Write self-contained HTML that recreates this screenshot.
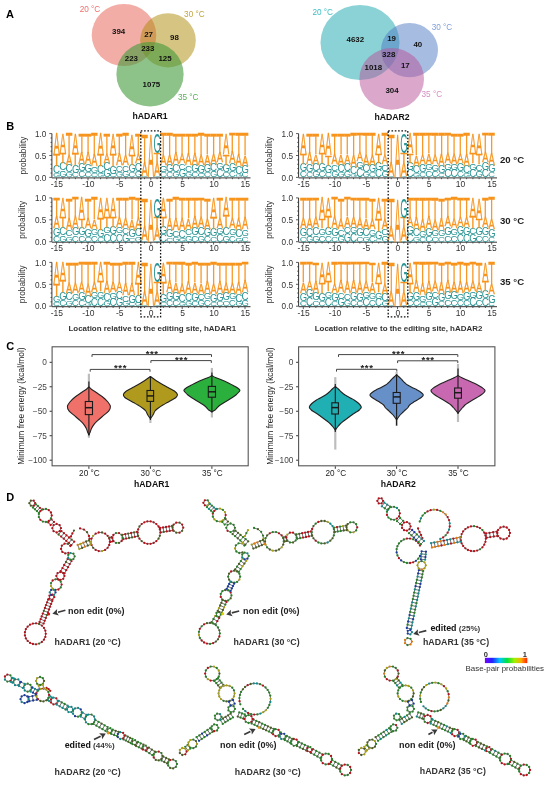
<!DOCTYPE html>
<html><head><meta charset="utf-8"><title>Figure</title>
<style>
html,body{margin:0;padding:0;background:#fff;}
body{width:550px;height:785px;overflow:hidden;}
svg{display:block;font-family:"Liberation Sans", Arial, sans-serif;}
.lo,.lt{font-size:10px;stroke-width:0.38px;vector-effect:non-scaling-stroke;}
.lo{fill:#F7941D;stroke:#F7941D;}
.lt{fill:#2A9494;stroke:none;}
</style></head><body>
<svg width="550" height="785" viewBox="0 0 550 785">
<text x="6.00" y="17.70" font-size="11" font-weight="bold" fill="#000" text-anchor="start">A</text>
<text x="6.30" y="129.90" font-size="11" font-weight="bold" fill="#000" text-anchor="start">B</text>
<text x="6.20" y="349.90" font-size="11" font-weight="bold" fill="#000" text-anchor="start">C</text>
<text x="6.20" y="501.00" font-size="11" font-weight="bold" fill="#000" text-anchor="start">D</text>
<ellipse cx="124" cy="35" rx="32.3" ry="31" fill="#E55B4D" fill-opacity="0.5"/>
<ellipse cx="168" cy="40.3" rx="27.8" ry="27.1" fill="#AD8907" fill-opacity="0.5"/>
<ellipse cx="150" cy="74.2" rx="33.6" ry="32.3" fill="#419939" fill-opacity="0.6"/>
<text x="90.00" y="12.40" font-size="8.2" fill="#EE6E6E" text-anchor="middle">20 °C</text>
<text x="194.40" y="16.50" font-size="8.2" fill="#BFA640" text-anchor="middle">30 °C</text>
<text x="188.20" y="99.70" font-size="8.2" fill="#5AAE5A" text-anchor="middle">35 °C</text>
<text x="118.60" y="34.20" font-size="7.9" font-weight="bold" fill="#111" text-anchor="middle">394</text>
<text x="148.60" y="37.40" font-size="7.9" font-weight="bold" fill="#111" text-anchor="middle">27</text>
<text x="174.50" y="39.60" font-size="7.9" font-weight="bold" fill="#111" text-anchor="middle">98</text>
<text x="147.80" y="51.30" font-size="7.9" font-weight="bold" fill="#111" text-anchor="middle">233</text>
<text x="131.40" y="60.80" font-size="7.9" font-weight="bold" fill="#111" text-anchor="middle">223</text>
<text x="165.00" y="60.80" font-size="7.9" font-weight="bold" fill="#111" text-anchor="middle">125</text>
<text x="151.40" y="86.50" font-size="7.9" font-weight="bold" fill="#111" text-anchor="middle">1075</text>
<text x="150.00" y="119.30" font-size="8.7" font-weight="bold" fill="#111" text-anchor="middle">hADAR1</text>
<ellipse cx="360" cy="42.5" rx="39.5" ry="37.5" fill="#15A5AD" fill-opacity="0.5"/>
<ellipse cx="409.5" cy="50.1" rx="28.5" ry="27.1" fill="#4D79C1" fill-opacity="0.5"/>
<ellipse cx="391.7" cy="78.9" rx="32.3" ry="30.8" fill="#B75199" fill-opacity="0.5"/>
<text x="322.70" y="14.50" font-size="8.2" fill="#3CBFC4" text-anchor="middle">20 °C</text>
<text x="442.00" y="29.90" font-size="8.2" fill="#7F9FD8" text-anchor="middle">30 °C</text>
<text x="431.80" y="97.40" font-size="8.2" fill="#D58FC0" text-anchor="middle">35 °C</text>
<text x="355.30" y="41.50" font-size="7.9" font-weight="bold" fill="#111" text-anchor="middle">4632</text>
<text x="391.60" y="40.60" font-size="7.9" font-weight="bold" fill="#111" text-anchor="middle">19</text>
<text x="417.80" y="47.00" font-size="7.9" font-weight="bold" fill="#111" text-anchor="middle">40</text>
<text x="388.70" y="56.60" font-size="7.9" font-weight="bold" fill="#111" text-anchor="middle">328</text>
<text x="373.30" y="69.70" font-size="7.9" font-weight="bold" fill="#111" text-anchor="middle">1018</text>
<text x="405.30" y="68.30" font-size="7.9" font-weight="bold" fill="#111" text-anchor="middle">17</text>
<text x="392.00" y="93.00" font-size="7.9" font-weight="bold" fill="#111" text-anchor="middle">304</text>
<text x="392.00" y="119.60" font-size="8.7" font-weight="bold" fill="#111" text-anchor="middle">hADAR2</text>
<text x="46.30" y="180.60" font-size="8.2" fill="#333" text-anchor="end">0.0</text>
<text x="46.30" y="158.70" font-size="8.2" fill="#333" text-anchor="end">0.5</text>
<text x="46.30" y="136.80" font-size="8.2" fill="#333" text-anchor="end">1.0</text>
<text x="56.90" y="186.90" font-size="8.5" fill="#333" text-anchor="middle">-15</text>
<text x="88.30" y="186.90" font-size="8.5" fill="#333" text-anchor="middle">-10</text>
<text x="119.70" y="186.90" font-size="8.5" fill="#333" text-anchor="middle">-5</text>
<text x="151.10" y="186.90" font-size="8.5" fill="#333" text-anchor="middle">0</text>
<text x="182.50" y="186.90" font-size="8.5" fill="#333" text-anchor="middle">5</text>
<text x="213.90" y="186.90" font-size="8.5" fill="#333" text-anchor="middle">10</text>
<text x="245.30" y="186.90" font-size="8.5" fill="#333" text-anchor="middle">15</text>
<text x="25.50" y="155.50" font-size="8.3" fill="#333" text-anchor="middle" transform="rotate(-90 25.50 155.50)">probability</text>
<text x="293.00" y="180.60" font-size="8.2" fill="#333" text-anchor="end">0.0</text>
<text x="293.00" y="158.70" font-size="8.2" fill="#333" text-anchor="end">0.5</text>
<text x="293.00" y="136.80" font-size="8.2" fill="#333" text-anchor="end">1.0</text>
<text x="303.60" y="186.90" font-size="8.5" fill="#333" text-anchor="middle">-15</text>
<text x="335.00" y="186.90" font-size="8.5" fill="#333" text-anchor="middle">-10</text>
<text x="366.40" y="186.90" font-size="8.5" fill="#333" text-anchor="middle">-5</text>
<text x="397.80" y="186.90" font-size="8.5" fill="#333" text-anchor="middle">0</text>
<text x="429.20" y="186.90" font-size="8.5" fill="#333" text-anchor="middle">5</text>
<text x="460.60" y="186.90" font-size="8.5" fill="#333" text-anchor="middle">10</text>
<text x="492.00" y="186.90" font-size="8.5" fill="#333" text-anchor="middle">15</text>
<text x="272.00" y="155.50" font-size="8.3" fill="#333" text-anchor="middle" transform="rotate(-90 272.00 155.50)">probability</text>
<text x="500.00" y="163.00" font-size="9.6" font-weight="bold" fill="#222" text-anchor="start">20 °C</text>
<text x="46.30" y="244.90" font-size="8.2" fill="#333" text-anchor="end">0.0</text>
<text x="46.30" y="223.00" font-size="8.2" fill="#333" text-anchor="end">0.5</text>
<text x="46.30" y="201.10" font-size="8.2" fill="#333" text-anchor="end">1.0</text>
<text x="56.90" y="251.20" font-size="8.5" fill="#333" text-anchor="middle">-15</text>
<text x="88.30" y="251.20" font-size="8.5" fill="#333" text-anchor="middle">-10</text>
<text x="119.70" y="251.20" font-size="8.5" fill="#333" text-anchor="middle">-5</text>
<text x="151.10" y="251.20" font-size="8.5" fill="#333" text-anchor="middle">0</text>
<text x="182.50" y="251.20" font-size="8.5" fill="#333" text-anchor="middle">5</text>
<text x="213.90" y="251.20" font-size="8.5" fill="#333" text-anchor="middle">10</text>
<text x="245.30" y="251.20" font-size="8.5" fill="#333" text-anchor="middle">15</text>
<text x="25.50" y="219.80" font-size="8.3" fill="#333" text-anchor="middle" transform="rotate(-90 25.50 219.80)">probability</text>
<text x="293.00" y="244.90" font-size="8.2" fill="#333" text-anchor="end">0.0</text>
<text x="293.00" y="223.00" font-size="8.2" fill="#333" text-anchor="end">0.5</text>
<text x="293.00" y="201.10" font-size="8.2" fill="#333" text-anchor="end">1.0</text>
<text x="303.60" y="251.20" font-size="8.5" fill="#333" text-anchor="middle">-15</text>
<text x="335.00" y="251.20" font-size="8.5" fill="#333" text-anchor="middle">-10</text>
<text x="366.40" y="251.20" font-size="8.5" fill="#333" text-anchor="middle">-5</text>
<text x="397.80" y="251.20" font-size="8.5" fill="#333" text-anchor="middle">0</text>
<text x="429.20" y="251.20" font-size="8.5" fill="#333" text-anchor="middle">5</text>
<text x="460.60" y="251.20" font-size="8.5" fill="#333" text-anchor="middle">10</text>
<text x="492.00" y="251.20" font-size="8.5" fill="#333" text-anchor="middle">15</text>
<text x="272.00" y="219.80" font-size="8.3" fill="#333" text-anchor="middle" transform="rotate(-90 272.00 219.80)">probability</text>
<text x="500.00" y="224.20" font-size="9.6" font-weight="bold" fill="#222" text-anchor="start">30 °C</text>
<text x="46.30" y="309.40" font-size="8.2" fill="#333" text-anchor="end">0.0</text>
<text x="46.30" y="287.50" font-size="8.2" fill="#333" text-anchor="end">0.5</text>
<text x="46.30" y="265.60" font-size="8.2" fill="#333" text-anchor="end">1.0</text>
<text x="56.90" y="315.70" font-size="8.5" fill="#333" text-anchor="middle">-15</text>
<text x="88.30" y="315.70" font-size="8.5" fill="#333" text-anchor="middle">-10</text>
<text x="119.70" y="315.70" font-size="8.5" fill="#333" text-anchor="middle">-5</text>
<text x="151.10" y="315.70" font-size="8.5" fill="#333" text-anchor="middle">0</text>
<text x="182.50" y="315.70" font-size="8.5" fill="#333" text-anchor="middle">5</text>
<text x="213.90" y="315.70" font-size="8.5" fill="#333" text-anchor="middle">10</text>
<text x="245.30" y="315.70" font-size="8.5" fill="#333" text-anchor="middle">15</text>
<text x="25.50" y="284.30" font-size="8.3" fill="#333" text-anchor="middle" transform="rotate(-90 25.50 284.30)">probability</text>
<text x="293.00" y="309.40" font-size="8.2" fill="#333" text-anchor="end">0.0</text>
<text x="293.00" y="287.50" font-size="8.2" fill="#333" text-anchor="end">0.5</text>
<text x="293.00" y="265.60" font-size="8.2" fill="#333" text-anchor="end">1.0</text>
<text x="303.60" y="315.70" font-size="8.5" fill="#333" text-anchor="middle">-15</text>
<text x="335.00" y="315.70" font-size="8.5" fill="#333" text-anchor="middle">-10</text>
<text x="366.40" y="315.70" font-size="8.5" fill="#333" text-anchor="middle">-5</text>
<text x="397.80" y="315.70" font-size="8.5" fill="#333" text-anchor="middle">0</text>
<text x="429.20" y="315.70" font-size="8.5" fill="#333" text-anchor="middle">5</text>
<text x="460.60" y="315.70" font-size="8.5" fill="#333" text-anchor="middle">10</text>
<text x="492.00" y="315.70" font-size="8.5" fill="#333" text-anchor="middle">15</text>
<text x="272.00" y="284.30" font-size="8.3" fill="#333" text-anchor="middle" transform="rotate(-90 272.00 284.30)">probability</text>
<text x="500.00" y="285.10" font-size="9.6" font-weight="bold" fill="#222" text-anchor="start">35 °C</text>
<text x="152.30" y="331.00" font-size="7.95" font-weight="bold" fill="#333" text-anchor="middle">Location relative to the editing site, hADAR1</text>
<text x="398.50" y="331.00" font-size="7.95" font-weight="bold" fill="#333" text-anchor="middle">Location relative to the editing site, hADAR2</text>
<line x1="51.9" y1="133.60" x2="51.9" y2="177.40" stroke="#333" stroke-width="1"/>
<line x1="49.30" y1="177.40" x2="51.9" y2="177.40" stroke="#333" stroke-width="0.8"/>
<line x1="50.50" y1="173.02" x2="51.9" y2="173.02" stroke="#333" stroke-width="0.8"/>
<line x1="50.50" y1="168.64" x2="51.9" y2="168.64" stroke="#333" stroke-width="0.8"/>
<line x1="50.50" y1="164.26" x2="51.9" y2="164.26" stroke="#333" stroke-width="0.8"/>
<line x1="50.50" y1="159.88" x2="51.9" y2="159.88" stroke="#333" stroke-width="0.8"/>
<line x1="49.30" y1="155.50" x2="51.9" y2="155.50" stroke="#333" stroke-width="0.8"/>
<line x1="50.50" y1="151.12" x2="51.9" y2="151.12" stroke="#333" stroke-width="0.8"/>
<line x1="50.50" y1="146.74" x2="51.9" y2="146.74" stroke="#333" stroke-width="0.8"/>
<line x1="50.50" y1="142.36" x2="51.9" y2="142.36" stroke="#333" stroke-width="0.8"/>
<line x1="50.50" y1="137.98" x2="51.9" y2="137.98" stroke="#333" stroke-width="0.8"/>
<line x1="49.30" y1="133.60" x2="51.9" y2="133.60" stroke="#333" stroke-width="0.8"/>
<line x1="51.9" y1="177.90" x2="250.5" y2="177.90" stroke="#333" stroke-width="1"/>
<line x1="56.60" y1="177.90" x2="56.60" y2="180.30" stroke="#333" stroke-width="0.8"/>
<line x1="62.88" y1="177.90" x2="62.88" y2="179.20" stroke="#333" stroke-width="0.8"/>
<line x1="69.16" y1="177.90" x2="69.16" y2="179.20" stroke="#333" stroke-width="0.8"/>
<line x1="75.44" y1="177.90" x2="75.44" y2="179.20" stroke="#333" stroke-width="0.8"/>
<line x1="81.72" y1="177.90" x2="81.72" y2="179.20" stroke="#333" stroke-width="0.8"/>
<line x1="88.00" y1="177.90" x2="88.00" y2="180.30" stroke="#333" stroke-width="0.8"/>
<line x1="94.28" y1="177.90" x2="94.28" y2="179.20" stroke="#333" stroke-width="0.8"/>
<line x1="100.56" y1="177.90" x2="100.56" y2="179.20" stroke="#333" stroke-width="0.8"/>
<line x1="106.84" y1="177.90" x2="106.84" y2="179.20" stroke="#333" stroke-width="0.8"/>
<line x1="113.12" y1="177.90" x2="113.12" y2="179.20" stroke="#333" stroke-width="0.8"/>
<line x1="119.40" y1="177.90" x2="119.40" y2="180.30" stroke="#333" stroke-width="0.8"/>
<line x1="125.68" y1="177.90" x2="125.68" y2="179.20" stroke="#333" stroke-width="0.8"/>
<line x1="131.96" y1="177.90" x2="131.96" y2="179.20" stroke="#333" stroke-width="0.8"/>
<line x1="138.24" y1="177.90" x2="138.24" y2="179.20" stroke="#333" stroke-width="0.8"/>
<line x1="144.52" y1="177.90" x2="144.52" y2="179.20" stroke="#333" stroke-width="0.8"/>
<line x1="150.80" y1="177.90" x2="150.80" y2="180.30" stroke="#333" stroke-width="0.8"/>
<line x1="157.08" y1="177.90" x2="157.08" y2="179.20" stroke="#333" stroke-width="0.8"/>
<line x1="163.36" y1="177.90" x2="163.36" y2="179.20" stroke="#333" stroke-width="0.8"/>
<line x1="169.64" y1="177.90" x2="169.64" y2="179.20" stroke="#333" stroke-width="0.8"/>
<line x1="175.92" y1="177.90" x2="175.92" y2="179.20" stroke="#333" stroke-width="0.8"/>
<line x1="182.20" y1="177.90" x2="182.20" y2="180.30" stroke="#333" stroke-width="0.8"/>
<line x1="188.48" y1="177.90" x2="188.48" y2="179.20" stroke="#333" stroke-width="0.8"/>
<line x1="194.76" y1="177.90" x2="194.76" y2="179.20" stroke="#333" stroke-width="0.8"/>
<line x1="201.04" y1="177.90" x2="201.04" y2="179.20" stroke="#333" stroke-width="0.8"/>
<line x1="207.32" y1="177.90" x2="207.32" y2="179.20" stroke="#333" stroke-width="0.8"/>
<line x1="213.60" y1="177.90" x2="213.60" y2="180.30" stroke="#333" stroke-width="0.8"/>
<line x1="219.88" y1="177.90" x2="219.88" y2="179.20" stroke="#333" stroke-width="0.8"/>
<line x1="226.16" y1="177.90" x2="226.16" y2="179.20" stroke="#333" stroke-width="0.8"/>
<line x1="232.44" y1="177.90" x2="232.44" y2="179.20" stroke="#333" stroke-width="0.8"/>
<line x1="238.72" y1="177.90" x2="238.72" y2="179.20" stroke="#333" stroke-width="0.8"/>
<line x1="245.00" y1="177.90" x2="245.00" y2="180.30" stroke="#333" stroke-width="0.8"/>
<text transform="matrix(0.9464,0,0,0.6067,53.04,177.34)" class="lt">G</text>
<text transform="matrix(0.9763,0,0,1.0144,53.01,173.01)" class="lt">C</text>
<text transform="matrix(1.0919,0,0,1.5946,53.27,165.93)" class="lo">T</text>
<text transform="matrix(0.9321,0,0,3.1039,53.49,154.95)" class="lo">A</text>
<text transform="matrix(0.9464,0,0,0.9925,59.32,177.30)" class="lt">G</text>
<text transform="matrix(0.9763,0,0,1.0100,59.29,170.28)" class="lt">C</text>
<text transform="matrix(1.0919,0,0,1.5004,59.55,163.23)" class="lo">T</text>
<text transform="matrix(0.9321,0,0,2.8057,59.77,152.90)" class="lo">A</text>
<text transform="matrix(0.9464,0,0,0.7899,65.60,177.32)" class="lt">G</text>
<text transform="matrix(0.9763,0,0,1.0300,65.57,171.71)" class="lt">C</text>
<text transform="matrix(0.9321,0,0,1.4209,66.05,164.52)" class="lo">A</text>
<text transform="matrix(1.0919,0,0,3.0730,65.83,154.74)" class="lo">T</text>
<text transform="matrix(0.9763,0,0,0.6568,71.85,177.34)" class="lt">C</text>
<text transform="matrix(0.9464,0,0,1.0378,71.88,172.65)" class="lt">G</text>
<text transform="matrix(1.0919,0,0,1.6520,72.11,165.41)" class="lo">T</text>
<text transform="matrix(0.9321,0,0,2.9710,72.33,154.04)" class="lo">A</text>
<text transform="matrix(0.9763,0,0,0.8309,78.13,177.32)" class="lt">C</text>
<text transform="matrix(0.9464,0,0,1.0695,78.16,171.41)" class="lt">G</text>
<text transform="matrix(0.9321,0,0,1.5938,78.61,163.95)" class="lo">A</text>
<text transform="matrix(1.0919,0,0,2.8174,78.39,152.98)" class="lo">T</text>
<text transform="matrix(0.9763,0,0,0.6878,84.41,177.33)" class="lt">C</text>
<text transform="matrix(0.9464,0,0,1.1710,84.44,172.42)" class="lt">G</text>
<text transform="matrix(0.9321,0,0,1.6526,84.89,164.24)" class="lo">A</text>
<text transform="matrix(1.0919,0,0,2.8014,84.67,152.87)" class="lo">T</text>
<text transform="matrix(0.9763,0,0,0.6008,90.69,177.34)" class="lt">C</text>
<text transform="matrix(0.9464,0,0,0.9837,90.72,173.05)" class="lt">G</text>
<text transform="matrix(0.9321,0,0,1.6497,91.17,166.18)" class="lo">A</text>
<text transform="matrix(1.0919,0,0,3.0865,90.95,154.84)" class="lo">T</text>
<text transform="matrix(0.9464,0,0,0.5378,97.00,177.35)" class="lt">G</text>
<text transform="matrix(0.9763,0,0,1.0878,96.97,173.49)" class="lt">C</text>
<text transform="matrix(1.0919,0,0,1.6484,97.23,165.89)" class="lo">T</text>
<text transform="matrix(0.9321,0,0,3.0455,97.45,154.55)" class="lo">A</text>
<text transform="matrix(0.9464,0,0,1.0313,103.28,177.30)" class="lt">G</text>
<text transform="matrix(0.9763,0,0,1.0182,103.25,170.00)" class="lt">C</text>
<text transform="matrix(0.9321,0,0,1.3436,103.73,162.89)" class="lo">A</text>
<text transform="matrix(1.0919,0,0,2.9143,103.51,153.65)" class="lo">T</text>
<text transform="matrix(0.9763,0,0,0.5127,109.53,177.35)" class="lt">C</text>
<text transform="matrix(0.9464,0,0,1.1665,109.56,173.66)" class="lt">G</text>
<text transform="matrix(1.0919,0,0,1.6538,109.79,165.51)" class="lo">T</text>
<text transform="matrix(0.9321,0,0,2.9850,110.01,154.14)" class="lo">A</text>
<text transform="matrix(0.9464,0,0,0.7933,115.84,177.32)" class="lt">G</text>
<text transform="matrix(0.9763,0,0,0.9698,115.81,171.69)" class="lt">C</text>
<text transform="matrix(0.9321,0,0,1.6356,116.29,164.92)" class="lo">A</text>
<text transform="matrix(1.0919,0,0,2.9168,116.07,153.67)" class="lo">T</text>
<text transform="matrix(0.9464,0,0,0.8171,122.12,177.32)" class="lt">G</text>
<text transform="matrix(0.9763,0,0,0.9012,122.09,171.53)" class="lt">C</text>
<text transform="matrix(0.9321,0,0,1.5147,122.57,165.24)" class="lo">A</text>
<text transform="matrix(1.0919,0,0,3.0838,122.35,154.82)" class="lo">T</text>
<text transform="matrix(0.9763,0,0,0.6892,128.37,177.33)" class="lt">C</text>
<text transform="matrix(0.9464,0,0,1.1270,128.40,172.41)" class="lt">G</text>
<text transform="matrix(1.0919,0,0,1.4574,128.63,164.54)" class="lo">T</text>
<text transform="matrix(0.9321,0,0,3.0404,128.85,154.52)" class="lo">A</text>
<text transform="matrix(0.9464,0,0,0.9546,134.68,177.31)" class="lt">G</text>
<text transform="matrix(0.9763,0,0,1.0347,134.65,170.54)" class="lt">C</text>
<text transform="matrix(0.9321,0,0,1.3055,135.13,163.32)" class="lo">A</text>
<text transform="matrix(1.0919,0,0,3.0141,134.91,154.34)" class="lo">T</text>
<text transform="matrix(0.9763,0,0,0.1856,140.93,177.38)" class="lt">C</text>
<text transform="matrix(0.9321,0,0,1.9735,141.41,176.09)" class="lo">A</text>
<text transform="matrix(1.0919,0,0,4.0744,141.19,162.51)" class="lo">T</text>
<text transform="matrix(0.9321,0,0,6.1753,147.69,177.40)" class="lo">A</text>
<text transform="matrix(0.9763,0,0,0.1856,153.49,177.38)" class="lt">C</text>
<text transform="matrix(0.9321,0,0,2.0372,153.97,176.09)" class="lo">A</text>
<text transform="matrix(1.0919,0,0,1.2096,153.75,162.07)" class="lo">T</text>
<text transform="matrix(0.9464,0,0,2.7228,153.52,153.48)" class="lt">G</text>
<text transform="matrix(0.9763,0,0,0.8127,159.77,177.32)" class="lt">C</text>
<text transform="matrix(0.9464,0,0,0.9878,159.80,171.55)" class="lt">G</text>
<text transform="matrix(0.9321,0,0,1.3983,160.25,164.66)" class="lo">A</text>
<text transform="matrix(1.0919,0,0,3.1157,160.03,155.04)" class="lo">T</text>
<text transform="matrix(0.9763,0,0,0.7634,166.05,177.33)" class="lt">C</text>
<text transform="matrix(0.9464,0,0,1.0553,166.08,171.89)" class="lt">G</text>
<text transform="matrix(0.9321,0,0,1.3781,166.53,164.53)" class="lo">A</text>
<text transform="matrix(1.0919,0,0,3.1172,166.31,155.05)" class="lo">T</text>
<text transform="matrix(0.9464,0,0,0.7223,172.36,177.33)" class="lt">G</text>
<text transform="matrix(0.9763,0,0,1.1209,172.33,172.18)" class="lt">C</text>
<text transform="matrix(0.9321,0,0,1.6747,172.81,164.35)" class="lo">A</text>
<text transform="matrix(1.0919,0,0,2.7954,172.59,152.83)" class="lo">T</text>
<text transform="matrix(0.9464,0,0,1.0825,178.64,177.29)" class="lt">G</text>
<text transform="matrix(0.9763,0,0,0.9864,178.61,169.64)" class="lt">C</text>
<text transform="matrix(0.9321,0,0,1.3358,179.09,162.76)" class="lo">A</text>
<text transform="matrix(1.0919,0,0,2.9020,178.87,153.57)" class="lo">T</text>
<text transform="matrix(0.9464,0,0,0.7951,184.92,177.32)" class="lt">G</text>
<text transform="matrix(0.9763,0,0,0.9277,184.89,171.68)" class="lt">C</text>
<text transform="matrix(0.9321,0,0,1.6614,185.37,165.21)" class="lo">A</text>
<text transform="matrix(1.0919,0,0,2.9325,185.15,153.78)" class="lo">T</text>
<text transform="matrix(0.9763,0,0,0.7356,191.17,177.33)" class="lt">C</text>
<text transform="matrix(0.9464,0,0,1.0497,191.20,172.09)" class="lt">G</text>
<text transform="matrix(0.9321,0,0,1.5750,191.65,164.76)" class="lo">A</text>
<text transform="matrix(1.0919,0,0,2.9546,191.43,153.93)" class="lo">T</text>
<text transform="matrix(0.9763,0,0,0.5511,197.45,177.35)" class="lt">C</text>
<text transform="matrix(0.9464,0,0,1.1657,197.48,173.39)" class="lt">G</text>
<text transform="matrix(0.9321,0,0,1.5115,197.93,165.25)" class="lo">A</text>
<text transform="matrix(1.0919,0,0,3.0886,197.71,154.85)" class="lo">T</text>
<text transform="matrix(0.9763,0,0,0.7826,203.73,177.32)" class="lt">C</text>
<text transform="matrix(0.9464,0,0,1.0212,203.76,171.76)" class="lt">G</text>
<text transform="matrix(0.9321,0,0,1.5295,204.21,164.63)" class="lo">A</text>
<text transform="matrix(1.0919,0,0,2.9810,203.99,154.11)" class="lo">T</text>
<text transform="matrix(0.9464,0,0,0.8249,210.04,177.32)" class="lt">G</text>
<text transform="matrix(0.9763,0,0,1.0576,210.01,171.46)" class="lt">C</text>
<text transform="matrix(0.9321,0,0,1.4521,210.49,164.08)" class="lo">A</text>
<text transform="matrix(1.0919,0,0,2.9775,210.27,154.09)" class="lo">T</text>
<text transform="matrix(0.9763,0,0,1.1572,216.29,177.29)" class="lt">C</text>
<text transform="matrix(0.9464,0,0,0.9493,216.32,169.12)" class="lt">G</text>
<text transform="matrix(0.9321,0,0,1.3774,216.77,162.49)" class="lo">A</text>
<text transform="matrix(1.0919,0,0,2.8217,216.55,153.01)" class="lo">T</text>
<text transform="matrix(0.9763,0,0,0.7434,222.57,177.33)" class="lt">C</text>
<text transform="matrix(0.9464,0,0,1.0300,222.60,172.04)" class="lt">G</text>
<text transform="matrix(1.0919,0,0,1.5559,222.83,164.85)" class="lo">T</text>
<text transform="matrix(0.9321,0,0,2.9859,223.05,154.14)" class="lo">A</text>
<text transform="matrix(0.9763,0,0,0.8534,228.85,177.32)" class="lt">C</text>
<text transform="matrix(0.9464,0,0,1.1414,228.88,171.25)" class="lt">G</text>
<text transform="matrix(0.9321,0,0,1.5945,229.33,163.28)" class="lo">A</text>
<text transform="matrix(1.0919,0,0,2.7196,229.11,152.31)" class="lo">T</text>
<text transform="matrix(0.9464,0,0,0.4032,235.16,177.36)" class="lt">G</text>
<text transform="matrix(0.9763,0,0,1.1474,235.13,174.43)" class="lt">C</text>
<text transform="matrix(0.9321,0,0,1.6269,235.61,166.42)" class="lo">A</text>
<text transform="matrix(1.0919,0,0,3.1441,235.39,155.23)" class="lo">T</text>
<text transform="matrix(0.9763,0,0,0.6566,241.41,177.34)" class="lt">C</text>
<text transform="matrix(0.9464,0,0,1.0063,241.44,172.65)" class="lt">G</text>
<text transform="matrix(0.9321,0,0,1.5116,241.89,165.63)" class="lo">A</text>
<text transform="matrix(1.0919,0,0,3.1440,241.67,155.23)" class="lo">T</text>
<line x1="298.6" y1="133.60" x2="298.6" y2="177.40" stroke="#333" stroke-width="1"/>
<line x1="296.00" y1="177.40" x2="298.6" y2="177.40" stroke="#333" stroke-width="0.8"/>
<line x1="297.20" y1="173.02" x2="298.6" y2="173.02" stroke="#333" stroke-width="0.8"/>
<line x1="297.20" y1="168.64" x2="298.6" y2="168.64" stroke="#333" stroke-width="0.8"/>
<line x1="297.20" y1="164.26" x2="298.6" y2="164.26" stroke="#333" stroke-width="0.8"/>
<line x1="297.20" y1="159.88" x2="298.6" y2="159.88" stroke="#333" stroke-width="0.8"/>
<line x1="296.00" y1="155.50" x2="298.6" y2="155.50" stroke="#333" stroke-width="0.8"/>
<line x1="297.20" y1="151.12" x2="298.6" y2="151.12" stroke="#333" stroke-width="0.8"/>
<line x1="297.20" y1="146.74" x2="298.6" y2="146.74" stroke="#333" stroke-width="0.8"/>
<line x1="297.20" y1="142.36" x2="298.6" y2="142.36" stroke="#333" stroke-width="0.8"/>
<line x1="297.20" y1="137.98" x2="298.6" y2="137.98" stroke="#333" stroke-width="0.8"/>
<line x1="296.00" y1="133.60" x2="298.6" y2="133.60" stroke="#333" stroke-width="0.8"/>
<line x1="298.6" y1="177.90" x2="497.0" y2="177.90" stroke="#333" stroke-width="1"/>
<line x1="303.30" y1="177.90" x2="303.30" y2="180.30" stroke="#333" stroke-width="0.8"/>
<line x1="309.58" y1="177.90" x2="309.58" y2="179.20" stroke="#333" stroke-width="0.8"/>
<line x1="315.86" y1="177.90" x2="315.86" y2="179.20" stroke="#333" stroke-width="0.8"/>
<line x1="322.14" y1="177.90" x2="322.14" y2="179.20" stroke="#333" stroke-width="0.8"/>
<line x1="328.42" y1="177.90" x2="328.42" y2="179.20" stroke="#333" stroke-width="0.8"/>
<line x1="334.70" y1="177.90" x2="334.70" y2="180.30" stroke="#333" stroke-width="0.8"/>
<line x1="340.98" y1="177.90" x2="340.98" y2="179.20" stroke="#333" stroke-width="0.8"/>
<line x1="347.26" y1="177.90" x2="347.26" y2="179.20" stroke="#333" stroke-width="0.8"/>
<line x1="353.54" y1="177.90" x2="353.54" y2="179.20" stroke="#333" stroke-width="0.8"/>
<line x1="359.82" y1="177.90" x2="359.82" y2="179.20" stroke="#333" stroke-width="0.8"/>
<line x1="366.10" y1="177.90" x2="366.10" y2="180.30" stroke="#333" stroke-width="0.8"/>
<line x1="372.38" y1="177.90" x2="372.38" y2="179.20" stroke="#333" stroke-width="0.8"/>
<line x1="378.66" y1="177.90" x2="378.66" y2="179.20" stroke="#333" stroke-width="0.8"/>
<line x1="384.94" y1="177.90" x2="384.94" y2="179.20" stroke="#333" stroke-width="0.8"/>
<line x1="391.22" y1="177.90" x2="391.22" y2="179.20" stroke="#333" stroke-width="0.8"/>
<line x1="397.50" y1="177.90" x2="397.50" y2="180.30" stroke="#333" stroke-width="0.8"/>
<line x1="403.78" y1="177.90" x2="403.78" y2="179.20" stroke="#333" stroke-width="0.8"/>
<line x1="410.06" y1="177.90" x2="410.06" y2="179.20" stroke="#333" stroke-width="0.8"/>
<line x1="416.34" y1="177.90" x2="416.34" y2="179.20" stroke="#333" stroke-width="0.8"/>
<line x1="422.62" y1="177.90" x2="422.62" y2="179.20" stroke="#333" stroke-width="0.8"/>
<line x1="428.90" y1="177.90" x2="428.90" y2="180.30" stroke="#333" stroke-width="0.8"/>
<line x1="435.18" y1="177.90" x2="435.18" y2="179.20" stroke="#333" stroke-width="0.8"/>
<line x1="441.46" y1="177.90" x2="441.46" y2="179.20" stroke="#333" stroke-width="0.8"/>
<line x1="447.74" y1="177.90" x2="447.74" y2="179.20" stroke="#333" stroke-width="0.8"/>
<line x1="454.02" y1="177.90" x2="454.02" y2="179.20" stroke="#333" stroke-width="0.8"/>
<line x1="460.30" y1="177.90" x2="460.30" y2="180.30" stroke="#333" stroke-width="0.8"/>
<line x1="466.58" y1="177.90" x2="466.58" y2="179.20" stroke="#333" stroke-width="0.8"/>
<line x1="472.86" y1="177.90" x2="472.86" y2="179.20" stroke="#333" stroke-width="0.8"/>
<line x1="479.14" y1="177.90" x2="479.14" y2="179.20" stroke="#333" stroke-width="0.8"/>
<line x1="485.42" y1="177.90" x2="485.42" y2="179.20" stroke="#333" stroke-width="0.8"/>
<line x1="491.70" y1="177.90" x2="491.70" y2="180.30" stroke="#333" stroke-width="0.8"/>
<text transform="matrix(0.9763,0,0,0.8202,299.71,177.32)" class="lt">C</text>
<text transform="matrix(0.9464,0,0,1.0583,299.74,171.49)" class="lt">G</text>
<text transform="matrix(1.0919,0,0,1.4689,299.97,164.10)" class="lo">T</text>
<text transform="matrix(0.9321,0,0,2.9649,300.19,154.00)" class="lo">A</text>
<text transform="matrix(0.9763,0,0,0.7899,305.99,177.32)" class="lt">C</text>
<text transform="matrix(0.9464,0,0,1.1266,306.02,171.70)" class="lt">G</text>
<text transform="matrix(0.9321,0,0,1.6158,306.47,163.83)" class="lo">A</text>
<text transform="matrix(1.0919,0,0,2.7788,306.25,152.72)" class="lo">T</text>
<text transform="matrix(0.9464,0,0,0.8953,312.30,177.31)" class="lt">G</text>
<text transform="matrix(0.9763,0,0,1.0423,312.27,170.96)" class="lt">C</text>
<text transform="matrix(0.9321,0,0,1.3663,312.75,163.69)" class="lo">A</text>
<text transform="matrix(1.0919,0,0,3.0067,312.53,154.29)" class="lo">T</text>
<text transform="matrix(0.9763,0,0,0.9029,318.55,177.31)" class="lt">C</text>
<text transform="matrix(0.9464,0,0,1.1626,318.58,170.90)" class="lt">G</text>
<text transform="matrix(1.0919,0,0,1.4006,318.81,162.78)" class="lo">T</text>
<text transform="matrix(0.9321,0,0,2.8408,319.03,153.14)" class="lo">A</text>
<text transform="matrix(0.9763,0,0,0.6739,324.83,177.33)" class="lt">C</text>
<text transform="matrix(0.9464,0,0,1.1368,324.86,172.52)" class="lt">G</text>
<text transform="matrix(1.0919,0,0,1.3221,325.09,164.58)" class="lo">T</text>
<text transform="matrix(0.9321,0,0,3.1814,325.31,155.49)" class="lo">A</text>
<text transform="matrix(0.9464,0,0,0.9040,331.14,177.31)" class="lt">G</text>
<text transform="matrix(0.9763,0,0,0.9763,331.11,170.91)" class="lt">C</text>
<text transform="matrix(0.9321,0,0,1.4509,331.59,164.09)" class="lo">A</text>
<text transform="matrix(1.0919,0,0,2.9810,331.37,154.11)" class="lo">T</text>
<text transform="matrix(0.9464,0,0,0.7285,337.42,177.33)" class="lt">G</text>
<text transform="matrix(0.9763,0,0,1.0883,337.39,172.14)" class="lt">C</text>
<text transform="matrix(0.9321,0,0,1.4796,337.87,164.54)" class="lo">A</text>
<text transform="matrix(1.0919,0,0,3.0176,337.65,154.36)" class="lo">T</text>
<text transform="matrix(0.9464,0,0,0.8324,343.70,177.32)" class="lt">G</text>
<text transform="matrix(0.9763,0,0,1.1111,343.67,171.40)" class="lt">C</text>
<text transform="matrix(0.9321,0,0,1.3559,344.15,163.64)" class="lo">A</text>
<text transform="matrix(1.0919,0,0,3.0109,343.93,154.32)" class="lo">T</text>
<text transform="matrix(0.9464,0,0,0.4062,349.98,177.36)" class="lt">G</text>
<text transform="matrix(0.9763,0,0,1.0681,349.95,174.42)" class="lt">C</text>
<text transform="matrix(0.9321,0,0,1.6754,350.43,166.96)" class="lo">A</text>
<text transform="matrix(1.0919,0,0,3.1742,350.21,155.44)" class="lo">T</text>
<text transform="matrix(0.9763,0,0,1.3626,356.23,177.27)" class="lt">C</text>
<text transform="matrix(0.9464,0,0,0.9346,356.26,167.66)" class="lt">G</text>
<text transform="matrix(0.9321,0,0,1.3066,356.71,161.14)" class="lo">A</text>
<text transform="matrix(1.0919,0,0,2.6964,356.49,152.15)" class="lo">T</text>
<text transform="matrix(0.9464,0,0,0.7430,362.54,177.33)" class="lt">G</text>
<text transform="matrix(0.9763,0,0,0.9992,362.51,172.04)" class="lt">C</text>
<text transform="matrix(0.9321,0,0,1.4208,362.99,165.07)" class="lo">A</text>
<text transform="matrix(1.0919,0,0,3.1531,362.77,155.29)" class="lo">T</text>
<text transform="matrix(0.9763,0,0,0.7090,368.79,177.33)" class="lt">C</text>
<text transform="matrix(0.9464,0,0,1.0502,368.82,172.28)" class="lt">G</text>
<text transform="matrix(0.9321,0,0,1.4252,369.27,164.95)" class="lo">A</text>
<text transform="matrix(1.0919,0,0,3.1313,369.05,155.14)" class="lo">T</text>
<text transform="matrix(0.9763,0,0,1.0205,375.07,177.30)" class="lt">C</text>
<text transform="matrix(0.9464,0,0,1.0601,375.10,170.07)" class="lt">G</text>
<text transform="matrix(1.0919,0,0,1.3299,375.33,162.67)" class="lo">T</text>
<text transform="matrix(0.9321,0,0,2.8959,375.55,153.52)" class="lo">A</text>
<text transform="matrix(0.9464,0,0,0.8849,381.38,177.31)" class="lt">G</text>
<text transform="matrix(0.9763,0,0,0.9597,381.35,171.04)" class="lt">C</text>
<text transform="matrix(0.9321,0,0,1.3648,381.83,164.34)" class="lo">A</text>
<text transform="matrix(1.0919,0,0,3.1037,381.61,154.95)" class="lo">T</text>
<text transform="matrix(0.9763,0,0,0.1856,387.63,177.38)" class="lt">C</text>
<text transform="matrix(0.9321,0,0,1.9735,388.11,176.09)" class="lo">A</text>
<text transform="matrix(1.0919,0,0,4.0744,387.89,162.51)" class="lo">T</text>
<text transform="matrix(0.9321,0,0,6.1753,394.39,177.40)" class="lo">A</text>
<text transform="matrix(0.9763,0,0,0.1856,400.19,177.38)" class="lt">C</text>
<text transform="matrix(0.9321,0,0,2.0372,400.67,176.09)" class="lo">A</text>
<text transform="matrix(1.0919,0,0,1.2096,400.45,162.07)" class="lo">T</text>
<text transform="matrix(0.9464,0,0,2.7228,400.22,153.48)" class="lt">G</text>
<text transform="matrix(0.9763,0,0,1.0669,406.47,177.30)" class="lt">C</text>
<text transform="matrix(0.9464,0,0,1.0356,406.50,169.75)" class="lt">G</text>
<text transform="matrix(1.0919,0,0,1.3192,406.73,162.52)" class="lo">T</text>
<text transform="matrix(0.9321,0,0,2.8841,406.95,153.44)" class="lo">A</text>
<text transform="matrix(0.9464,0,0,0.6255,412.78,177.34)" class="lt">G</text>
<text transform="matrix(0.9763,0,0,1.0458,412.75,172.87)" class="lt">C</text>
<text transform="matrix(0.9321,0,0,1.5564,413.23,165.57)" class="lo">A</text>
<text transform="matrix(1.0919,0,0,3.0904,413.01,154.86)" class="lo">T</text>
<text transform="matrix(0.9763,0,0,0.7864,419.03,177.32)" class="lt">C</text>
<text transform="matrix(0.9464,0,0,1.0552,419.06,171.73)" class="lt">G</text>
<text transform="matrix(0.9321,0,0,1.3623,419.51,164.36)" class="lo">A</text>
<text transform="matrix(1.0919,0,0,3.1094,419.29,154.99)" class="lo">T</text>
<text transform="matrix(0.9763,0,0,0.9833,425.31,177.30)" class="lt">C</text>
<text transform="matrix(0.9464,0,0,0.9287,425.34,170.35)" class="lt">G</text>
<text transform="matrix(0.9321,0,0,1.5348,425.79,163.87)" class="lo">A</text>
<text transform="matrix(1.0919,0,0,2.8644,425.57,153.31)" class="lo">T</text>
<text transform="matrix(0.9763,0,0,0.9572,431.59,177.31)" class="lt">C</text>
<text transform="matrix(0.9464,0,0,0.9436,431.62,170.53)" class="lt">G</text>
<text transform="matrix(0.9321,0,0,1.3420,432.07,163.95)" class="lo">A</text>
<text transform="matrix(1.0919,0,0,3.0688,431.85,154.71)" class="lo">T</text>
<text transform="matrix(0.9763,0,0,0.5510,437.87,177.35)" class="lt">C</text>
<text transform="matrix(0.9464,0,0,1.0179,437.90,173.40)" class="lt">G</text>
<text transform="matrix(0.9321,0,0,1.6671,438.35,166.29)" class="lo">A</text>
<text transform="matrix(1.0919,0,0,3.0851,438.13,154.83)" class="lo">T</text>
<text transform="matrix(0.9763,0,0,1.0506,444.15,177.30)" class="lt">C</text>
<text transform="matrix(0.9464,0,0,0.9738,444.18,169.87)" class="lt">G</text>
<text transform="matrix(0.9321,0,0,1.3989,444.63,163.07)" class="lo">A</text>
<text transform="matrix(1.0919,0,0,2.8847,444.41,153.45)" class="lo">T</text>
<text transform="matrix(0.9763,0,0,1.0182,450.43,177.30)" class="lt">C</text>
<text transform="matrix(0.9464,0,0,0.9306,450.46,170.10)" class="lt">G</text>
<text transform="matrix(0.9321,0,0,1.3733,450.91,163.61)" class="lo">A</text>
<text transform="matrix(1.0919,0,0,2.9882,450.69,154.16)" class="lo">T</text>
<text transform="matrix(0.9763,0,0,0.9558,456.71,177.31)" class="lt">C</text>
<text transform="matrix(0.9464,0,0,1.0779,456.74,170.53)" class="lt">G</text>
<text transform="matrix(0.9321,0,0,1.3681,457.19,163.01)" class="lo">A</text>
<text transform="matrix(1.0919,0,0,2.9059,456.97,153.59)" class="lo">T</text>
<text transform="matrix(0.9464,0,0,0.5944,463.02,177.34)" class="lt">G</text>
<text transform="matrix(0.9763,0,0,1.0310,462.99,173.09)" class="lt">C</text>
<text transform="matrix(0.9321,0,0,1.6021,463.47,165.90)" class="lo">A</text>
<text transform="matrix(1.0919,0,0,3.0920,463.25,154.87)" class="lo">T</text>
<text transform="matrix(0.9763,0,0,1.0884,469.27,177.29)" class="lt">C</text>
<text transform="matrix(0.9464,0,0,0.8987,469.30,169.61)" class="lt">G</text>
<text transform="matrix(1.0919,0,0,1.4711,469.53,163.34)" class="lo">T</text>
<text transform="matrix(0.9321,0,0,2.8509,469.75,153.21)" class="lo">A</text>
<text transform="matrix(0.9464,0,0,0.8584,475.58,177.32)" class="lt">G</text>
<text transform="matrix(0.9763,0,0,0.9862,475.55,171.23)" class="lt">C</text>
<text transform="matrix(1.0919,0,0,1.4318,475.81,164.34)" class="lo">T</text>
<text transform="matrix(0.9321,0,0,3.0368,476.03,154.49)" class="lo">A</text>
<text transform="matrix(0.9763,0,0,1.0551,481.83,177.30)" class="lt">C</text>
<text transform="matrix(0.9464,0,0,1.0596,481.86,169.83)" class="lt">G</text>
<text transform="matrix(0.9321,0,0,1.4762,482.31,162.43)" class="lo">A</text>
<text transform="matrix(1.0919,0,0,2.7145,482.09,152.28)" class="lo">T</text>
<text transform="matrix(0.9763,0,0,0.7196,488.11,177.33)" class="lt">C</text>
<text transform="matrix(0.9464,0,0,1.0848,488.14,172.20)" class="lt">G</text>
<text transform="matrix(0.9321,0,0,1.6372,488.59,164.63)" class="lo">A</text>
<text transform="matrix(1.0919,0,0,2.8728,488.37,153.36)" class="lo">T</text>
<line x1="51.9" y1="197.90" x2="51.9" y2="241.70" stroke="#333" stroke-width="1"/>
<line x1="49.30" y1="241.70" x2="51.9" y2="241.70" stroke="#333" stroke-width="0.8"/>
<line x1="50.50" y1="237.32" x2="51.9" y2="237.32" stroke="#333" stroke-width="0.8"/>
<line x1="50.50" y1="232.94" x2="51.9" y2="232.94" stroke="#333" stroke-width="0.8"/>
<line x1="50.50" y1="228.56" x2="51.9" y2="228.56" stroke="#333" stroke-width="0.8"/>
<line x1="50.50" y1="224.18" x2="51.9" y2="224.18" stroke="#333" stroke-width="0.8"/>
<line x1="49.30" y1="219.80" x2="51.9" y2="219.80" stroke="#333" stroke-width="0.8"/>
<line x1="50.50" y1="215.42" x2="51.9" y2="215.42" stroke="#333" stroke-width="0.8"/>
<line x1="50.50" y1="211.04" x2="51.9" y2="211.04" stroke="#333" stroke-width="0.8"/>
<line x1="50.50" y1="206.66" x2="51.9" y2="206.66" stroke="#333" stroke-width="0.8"/>
<line x1="50.50" y1="202.28" x2="51.9" y2="202.28" stroke="#333" stroke-width="0.8"/>
<line x1="49.30" y1="197.90" x2="51.9" y2="197.90" stroke="#333" stroke-width="0.8"/>
<line x1="51.9" y1="242.20" x2="250.5" y2="242.20" stroke="#333" stroke-width="1"/>
<line x1="56.60" y1="242.20" x2="56.60" y2="244.60" stroke="#333" stroke-width="0.8"/>
<line x1="62.88" y1="242.20" x2="62.88" y2="243.50" stroke="#333" stroke-width="0.8"/>
<line x1="69.16" y1="242.20" x2="69.16" y2="243.50" stroke="#333" stroke-width="0.8"/>
<line x1="75.44" y1="242.20" x2="75.44" y2="243.50" stroke="#333" stroke-width="0.8"/>
<line x1="81.72" y1="242.20" x2="81.72" y2="243.50" stroke="#333" stroke-width="0.8"/>
<line x1="88.00" y1="242.20" x2="88.00" y2="244.60" stroke="#333" stroke-width="0.8"/>
<line x1="94.28" y1="242.20" x2="94.28" y2="243.50" stroke="#333" stroke-width="0.8"/>
<line x1="100.56" y1="242.20" x2="100.56" y2="243.50" stroke="#333" stroke-width="0.8"/>
<line x1="106.84" y1="242.20" x2="106.84" y2="243.50" stroke="#333" stroke-width="0.8"/>
<line x1="113.12" y1="242.20" x2="113.12" y2="243.50" stroke="#333" stroke-width="0.8"/>
<line x1="119.40" y1="242.20" x2="119.40" y2="244.60" stroke="#333" stroke-width="0.8"/>
<line x1="125.68" y1="242.20" x2="125.68" y2="243.50" stroke="#333" stroke-width="0.8"/>
<line x1="131.96" y1="242.20" x2="131.96" y2="243.50" stroke="#333" stroke-width="0.8"/>
<line x1="138.24" y1="242.20" x2="138.24" y2="243.50" stroke="#333" stroke-width="0.8"/>
<line x1="144.52" y1="242.20" x2="144.52" y2="243.50" stroke="#333" stroke-width="0.8"/>
<line x1="150.80" y1="242.20" x2="150.80" y2="244.60" stroke="#333" stroke-width="0.8"/>
<line x1="157.08" y1="242.20" x2="157.08" y2="243.50" stroke="#333" stroke-width="0.8"/>
<line x1="163.36" y1="242.20" x2="163.36" y2="243.50" stroke="#333" stroke-width="0.8"/>
<line x1="169.64" y1="242.20" x2="169.64" y2="243.50" stroke="#333" stroke-width="0.8"/>
<line x1="175.92" y1="242.20" x2="175.92" y2="243.50" stroke="#333" stroke-width="0.8"/>
<line x1="182.20" y1="242.20" x2="182.20" y2="244.60" stroke="#333" stroke-width="0.8"/>
<line x1="188.48" y1="242.20" x2="188.48" y2="243.50" stroke="#333" stroke-width="0.8"/>
<line x1="194.76" y1="242.20" x2="194.76" y2="243.50" stroke="#333" stroke-width="0.8"/>
<line x1="201.04" y1="242.20" x2="201.04" y2="243.50" stroke="#333" stroke-width="0.8"/>
<line x1="207.32" y1="242.20" x2="207.32" y2="243.50" stroke="#333" stroke-width="0.8"/>
<line x1="213.60" y1="242.20" x2="213.60" y2="244.60" stroke="#333" stroke-width="0.8"/>
<line x1="219.88" y1="242.20" x2="219.88" y2="243.50" stroke="#333" stroke-width="0.8"/>
<line x1="226.16" y1="242.20" x2="226.16" y2="243.50" stroke="#333" stroke-width="0.8"/>
<line x1="232.44" y1="242.20" x2="232.44" y2="243.50" stroke="#333" stroke-width="0.8"/>
<line x1="238.72" y1="242.20" x2="238.72" y2="243.50" stroke="#333" stroke-width="0.8"/>
<line x1="245.00" y1="242.20" x2="245.00" y2="244.60" stroke="#333" stroke-width="0.8"/>
<text transform="matrix(0.9763,0,0,0.8294,53.01,241.62)" class="lt">C</text>
<text transform="matrix(0.9464,0,0,1.1100,53.04,235.72)" class="lt">G</text>
<text transform="matrix(0.9321,0,0,1.6288,53.49,227.97)" class="lo">A</text>
<text transform="matrix(1.0919,0,0,2.7423,53.27,216.77)" class="lo">T</text>
<text transform="matrix(0.9464,0,0,0.9879,59.32,241.60)" class="lt">G</text>
<text transform="matrix(0.9763,0,0,1.0225,59.29,234.61)" class="lt">C</text>
<text transform="matrix(1.0919,0,0,1.4943,59.55,227.47)" class="lo">T</text>
<text transform="matrix(0.9321,0,0,2.8037,59.77,217.19)" class="lo">A</text>
<text transform="matrix(0.9464,0,0,0.7817,65.60,241.62)" class="lt">G</text>
<text transform="matrix(0.9763,0,0,0.9234,65.57,236.08)" class="lt">C</text>
<text transform="matrix(0.9321,0,0,1.6064,66.05,229.63)" class="lo">A</text>
<text transform="matrix(1.0919,0,0,3.0057,65.83,218.58)" class="lo">T</text>
<text transform="matrix(0.9763,0,0,0.9784,71.85,241.60)" class="lt">C</text>
<text transform="matrix(0.9464,0,0,1.0178,71.88,234.67)" class="lt">G</text>
<text transform="matrix(0.9321,0,0,1.6243,72.33,227.57)" class="lo">A</text>
<text transform="matrix(1.0919,0,0,2.6883,72.11,216.40)" class="lo">T</text>
<text transform="matrix(0.9763,0,0,0.9211,78.13,241.61)" class="lt">C</text>
<text transform="matrix(0.9464,0,0,1.0213,78.16,235.08)" class="lt">G</text>
<text transform="matrix(1.0919,0,0,1.3059,78.39,227.95)" class="lo">T</text>
<text transform="matrix(0.9321,0,0,3.0621,78.61,218.97)" class="lo">A</text>
<text transform="matrix(0.9763,0,0,0.7179,84.41,241.63)" class="lt">C</text>
<text transform="matrix(0.9464,0,0,1.1605,84.44,236.50)" class="lt">G</text>
<text transform="matrix(0.9321,0,0,1.3925,84.89,228.40)" class="lo">A</text>
<text transform="matrix(1.0919,0,0,3.0413,84.67,218.82)" class="lo">T</text>
<text transform="matrix(0.9763,0,0,0.9586,90.69,241.61)" class="lt">C</text>
<text transform="matrix(0.9464,0,0,0.9044,90.72,234.83)" class="lt">G</text>
<text transform="matrix(0.9321,0,0,1.3168,91.17,228.51)" class="lo">A</text>
<text transform="matrix(1.0919,0,0,3.1329,90.95,219.45)" class="lo">T</text>
<text transform="matrix(0.9763,0,0,0.7004,96.97,241.63)" class="lt">C</text>
<text transform="matrix(0.9464,0,0,1.0034,97.00,236.64)" class="lt">G</text>
<text transform="matrix(1.0919,0,0,1.6638,97.23,229.64)" class="lo">T</text>
<text transform="matrix(0.9321,0,0,2.9496,97.45,218.19)" class="lo">A</text>
<text transform="matrix(0.9763,0,0,1.1512,103.25,241.59)" class="lt">C</text>
<text transform="matrix(0.9464,0,0,0.9054,103.28,233.46)" class="lt">G</text>
<text transform="matrix(1.0919,0,0,1.4663,103.51,227.14)" class="lo">T</text>
<text transform="matrix(0.9321,0,0,2.7842,103.73,217.05)" class="lo">A</text>
<text transform="matrix(0.9763,0,0,1.0129,109.53,241.60)" class="lt">C</text>
<text transform="matrix(0.9464,0,0,1.0354,109.56,234.43)" class="lt">G</text>
<text transform="matrix(1.0919,0,0,1.4724,109.79,227.20)" class="lo">T</text>
<text transform="matrix(0.9321,0,0,2.7867,110.01,217.07)" class="lo">A</text>
<text transform="matrix(0.9763,0,0,1.1613,115.81,241.59)" class="lt">C</text>
<text transform="matrix(0.9464,0,0,0.9582,115.84,233.39)" class="lt">G</text>
<text transform="matrix(0.9321,0,0,1.3933,116.29,226.70)" class="lo">A</text>
<text transform="matrix(1.0919,0,0,2.7925,116.07,217.11)" class="lo">T</text>
<text transform="matrix(0.9464,0,0,1.0822,122.12,241.59)" class="lt">G</text>
<text transform="matrix(0.9763,0,0,0.9033,122.09,233.95)" class="lt">C</text>
<text transform="matrix(0.9321,0,0,1.4158,122.57,227.65)" class="lo">A</text>
<text transform="matrix(1.0919,0,0,2.9079,122.35,217.91)" class="lo">T</text>
<text transform="matrix(0.9763,0,0,0.6232,128.37,241.64)" class="lt">C</text>
<text transform="matrix(0.9464,0,0,1.0761,128.40,237.18)" class="lt">G</text>
<text transform="matrix(0.9321,0,0,1.5176,128.85,229.67)" class="lo">A</text>
<text transform="matrix(1.0919,0,0,3.1004,128.63,219.23)" class="lo">T</text>
<text transform="matrix(0.9464,0,0,0.7233,134.68,241.63)" class="lt">G</text>
<text transform="matrix(0.9763,0,0,1.1368,134.65,236.47)" class="lt">C</text>
<text transform="matrix(0.9321,0,0,1.6842,135.13,228.53)" class="lo">A</text>
<text transform="matrix(1.0919,0,0,2.7685,134.91,216.95)" class="lo">T</text>
<text transform="matrix(0.9763,0,0,0.1856,140.93,241.68)" class="lt">C</text>
<text transform="matrix(0.9321,0,0,1.9735,141.41,240.39)" class="lo">A</text>
<text transform="matrix(1.0919,0,0,4.0744,141.19,226.81)" class="lo">T</text>
<text transform="matrix(0.9321,0,0,6.1753,147.69,241.70)" class="lo">A</text>
<text transform="matrix(0.9763,0,0,0.1856,153.49,241.68)" class="lt">C</text>
<text transform="matrix(0.9321,0,0,2.0372,153.97,240.39)" class="lo">A</text>
<text transform="matrix(1.0919,0,0,1.2096,153.75,226.37)" class="lo">T</text>
<text transform="matrix(0.9464,0,0,2.7228,153.52,217.78)" class="lt">G</text>
<text transform="matrix(0.9763,0,0,1.0390,159.77,241.60)" class="lt">C</text>
<text transform="matrix(0.9464,0,0,1.0982,159.80,234.24)" class="lt">G</text>
<text transform="matrix(1.0919,0,0,1.4322,160.03,226.57)" class="lo">T</text>
<text transform="matrix(0.9321,0,0,2.7354,160.25,216.72)" class="lo">A</text>
<text transform="matrix(0.9763,0,0,0.6060,166.05,241.64)" class="lt">C</text>
<text transform="matrix(0.9464,0,0,1.0148,166.08,237.31)" class="lt">G</text>
<text transform="matrix(0.9321,0,0,1.6628,166.53,230.23)" class="lo">A</text>
<text transform="matrix(1.0919,0,0,3.0360,166.31,218.79)" class="lo">T</text>
<text transform="matrix(0.9464,0,0,0.6790,172.36,241.63)" class="lt">G</text>
<text transform="matrix(0.9763,0,0,0.9818,172.33,236.80)" class="lt">C</text>
<text transform="matrix(0.9321,0,0,1.5611,172.81,229.95)" class="lo">A</text>
<text transform="matrix(1.0919,0,0,3.0966,172.59,219.20)" class="lo">T</text>
<text transform="matrix(0.9464,0,0,0.5691,178.64,241.64)" class="lt">G</text>
<text transform="matrix(0.9763,0,0,1.1329,178.61,237.56)" class="lt">C</text>
<text transform="matrix(0.9321,0,0,1.6422,179.09,229.65)" class="lo">A</text>
<text transform="matrix(1.0919,0,0,2.9731,178.87,218.35)" class="lo">T</text>
<text transform="matrix(0.9464,0,0,0.9448,184.92,241.61)" class="lt">G</text>
<text transform="matrix(0.9763,0,0,0.9069,184.89,234.92)" class="lt">C</text>
<text transform="matrix(0.9321,0,0,1.5301,185.37,228.59)" class="lo">A</text>
<text transform="matrix(1.0919,0,0,2.9312,185.15,218.07)" class="lo">T</text>
<text transform="matrix(0.9763,0,0,0.8917,191.17,241.61)" class="lt">C</text>
<text transform="matrix(0.9464,0,0,1.0127,191.20,235.29)" class="lt">G</text>
<text transform="matrix(0.9321,0,0,1.6097,191.65,228.22)" class="lo">A</text>
<text transform="matrix(1.0919,0,0,2.7975,191.43,217.15)" class="lo">T</text>
<text transform="matrix(0.9464,0,0,0.9381,197.48,241.61)" class="lt">G</text>
<text transform="matrix(0.9763,0,0,1.0931,197.45,234.95)" class="lt">C</text>
<text transform="matrix(0.9321,0,0,1.5147,197.93,227.32)" class="lo">A</text>
<text transform="matrix(1.0919,0,0,2.7620,197.71,216.90)" class="lo">T</text>
<text transform="matrix(0.9763,0,0,0.8280,203.73,241.62)" class="lt">C</text>
<text transform="matrix(0.9464,0,0,1.0195,203.76,235.74)" class="lt">G</text>
<text transform="matrix(0.9321,0,0,1.4482,204.21,228.62)" class="lo">A</text>
<text transform="matrix(1.0919,0,0,3.0174,203.99,218.66)" class="lo">T</text>
<text transform="matrix(0.9763,0,0,0.7375,210.01,241.63)" class="lt">C</text>
<text transform="matrix(0.9464,0,0,1.0424,210.04,236.38)" class="lt">G</text>
<text transform="matrix(1.0919,0,0,1.6024,210.27,229.10)" class="lo">T</text>
<text transform="matrix(0.9321,0,0,2.9328,210.49,218.08)" class="lo">A</text>
<text transform="matrix(0.9763,0,0,1.0385,216.29,241.60)" class="lt">C</text>
<text transform="matrix(0.9464,0,0,0.9055,216.32,234.26)" class="lt">G</text>
<text transform="matrix(0.9321,0,0,1.4921,216.77,227.94)" class="lo">A</text>
<text transform="matrix(1.0919,0,0,2.8741,216.55,217.67)" class="lo">T</text>
<text transform="matrix(0.9464,0,0,0.8668,222.60,241.62)" class="lt">G</text>
<text transform="matrix(0.9763,0,0,1.1711,222.57,235.45)" class="lt">C</text>
<text transform="matrix(1.0919,0,0,1.5738,222.83,227.28)" class="lo">T</text>
<text transform="matrix(0.9321,0,0,2.6960,223.05,216.45)" class="lo">A</text>
<text transform="matrix(0.9763,0,0,0.9360,228.85,241.61)" class="lt">C</text>
<text transform="matrix(0.9464,0,0,0.9447,228.88,234.98)" class="lt">G</text>
<text transform="matrix(0.9321,0,0,1.4554,229.33,228.39)" class="lo">A</text>
<text transform="matrix(1.0919,0,0,2.9759,229.11,218.37)" class="lo">T</text>
<text transform="matrix(0.9464,0,0,0.5954,235.16,241.64)" class="lt">G</text>
<text transform="matrix(0.9763,0,0,1.1119,235.13,237.38)" class="lt">C</text>
<text transform="matrix(0.9321,0,0,1.6802,235.61,229.62)" class="lo">A</text>
<text transform="matrix(1.0919,0,0,2.9296,235.39,218.06)" class="lo">T</text>
<text transform="matrix(0.9763,0,0,0.7721,241.41,241.62)" class="lt">C</text>
<text transform="matrix(0.9464,0,0,0.9619,241.44,236.14)" class="lt">G</text>
<text transform="matrix(0.9321,0,0,1.6337,241.89,229.43)" class="lo">A</text>
<text transform="matrix(1.0919,0,0,2.9487,241.67,218.19)" class="lo">T</text>
<line x1="298.6" y1="197.90" x2="298.6" y2="241.70" stroke="#333" stroke-width="1"/>
<line x1="296.00" y1="241.70" x2="298.6" y2="241.70" stroke="#333" stroke-width="0.8"/>
<line x1="297.20" y1="237.32" x2="298.6" y2="237.32" stroke="#333" stroke-width="0.8"/>
<line x1="297.20" y1="232.94" x2="298.6" y2="232.94" stroke="#333" stroke-width="0.8"/>
<line x1="297.20" y1="228.56" x2="298.6" y2="228.56" stroke="#333" stroke-width="0.8"/>
<line x1="297.20" y1="224.18" x2="298.6" y2="224.18" stroke="#333" stroke-width="0.8"/>
<line x1="296.00" y1="219.80" x2="298.6" y2="219.80" stroke="#333" stroke-width="0.8"/>
<line x1="297.20" y1="215.42" x2="298.6" y2="215.42" stroke="#333" stroke-width="0.8"/>
<line x1="297.20" y1="211.04" x2="298.6" y2="211.04" stroke="#333" stroke-width="0.8"/>
<line x1="297.20" y1="206.66" x2="298.6" y2="206.66" stroke="#333" stroke-width="0.8"/>
<line x1="297.20" y1="202.28" x2="298.6" y2="202.28" stroke="#333" stroke-width="0.8"/>
<line x1="296.00" y1="197.90" x2="298.6" y2="197.90" stroke="#333" stroke-width="0.8"/>
<line x1="298.6" y1="242.20" x2="497.0" y2="242.20" stroke="#333" stroke-width="1"/>
<line x1="303.30" y1="242.20" x2="303.30" y2="244.60" stroke="#333" stroke-width="0.8"/>
<line x1="309.58" y1="242.20" x2="309.58" y2="243.50" stroke="#333" stroke-width="0.8"/>
<line x1="315.86" y1="242.20" x2="315.86" y2="243.50" stroke="#333" stroke-width="0.8"/>
<line x1="322.14" y1="242.20" x2="322.14" y2="243.50" stroke="#333" stroke-width="0.8"/>
<line x1="328.42" y1="242.20" x2="328.42" y2="243.50" stroke="#333" stroke-width="0.8"/>
<line x1="334.70" y1="242.20" x2="334.70" y2="244.60" stroke="#333" stroke-width="0.8"/>
<line x1="340.98" y1="242.20" x2="340.98" y2="243.50" stroke="#333" stroke-width="0.8"/>
<line x1="347.26" y1="242.20" x2="347.26" y2="243.50" stroke="#333" stroke-width="0.8"/>
<line x1="353.54" y1="242.20" x2="353.54" y2="243.50" stroke="#333" stroke-width="0.8"/>
<line x1="359.82" y1="242.20" x2="359.82" y2="243.50" stroke="#333" stroke-width="0.8"/>
<line x1="366.10" y1="242.20" x2="366.10" y2="244.60" stroke="#333" stroke-width="0.8"/>
<line x1="372.38" y1="242.20" x2="372.38" y2="243.50" stroke="#333" stroke-width="0.8"/>
<line x1="378.66" y1="242.20" x2="378.66" y2="243.50" stroke="#333" stroke-width="0.8"/>
<line x1="384.94" y1="242.20" x2="384.94" y2="243.50" stroke="#333" stroke-width="0.8"/>
<line x1="391.22" y1="242.20" x2="391.22" y2="243.50" stroke="#333" stroke-width="0.8"/>
<line x1="397.50" y1="242.20" x2="397.50" y2="244.60" stroke="#333" stroke-width="0.8"/>
<line x1="403.78" y1="242.20" x2="403.78" y2="243.50" stroke="#333" stroke-width="0.8"/>
<line x1="410.06" y1="242.20" x2="410.06" y2="243.50" stroke="#333" stroke-width="0.8"/>
<line x1="416.34" y1="242.20" x2="416.34" y2="243.50" stroke="#333" stroke-width="0.8"/>
<line x1="422.62" y1="242.20" x2="422.62" y2="243.50" stroke="#333" stroke-width="0.8"/>
<line x1="428.90" y1="242.20" x2="428.90" y2="244.60" stroke="#333" stroke-width="0.8"/>
<line x1="435.18" y1="242.20" x2="435.18" y2="243.50" stroke="#333" stroke-width="0.8"/>
<line x1="441.46" y1="242.20" x2="441.46" y2="243.50" stroke="#333" stroke-width="0.8"/>
<line x1="447.74" y1="242.20" x2="447.74" y2="243.50" stroke="#333" stroke-width="0.8"/>
<line x1="454.02" y1="242.20" x2="454.02" y2="243.50" stroke="#333" stroke-width="0.8"/>
<line x1="460.30" y1="242.20" x2="460.30" y2="244.60" stroke="#333" stroke-width="0.8"/>
<line x1="466.58" y1="242.20" x2="466.58" y2="243.50" stroke="#333" stroke-width="0.8"/>
<line x1="472.86" y1="242.20" x2="472.86" y2="243.50" stroke="#333" stroke-width="0.8"/>
<line x1="479.14" y1="242.20" x2="479.14" y2="243.50" stroke="#333" stroke-width="0.8"/>
<line x1="485.42" y1="242.20" x2="485.42" y2="243.50" stroke="#333" stroke-width="0.8"/>
<line x1="491.70" y1="242.20" x2="491.70" y2="244.60" stroke="#333" stroke-width="0.8"/>
<text transform="matrix(0.9763,0,0,0.7341,299.71,241.63)" class="lt">C</text>
<text transform="matrix(0.9464,0,0,1.1547,299.74,236.39)" class="lt">G</text>
<text transform="matrix(0.9321,0,0,1.5189,300.19,228.33)" class="lo">A</text>
<text transform="matrix(1.0919,0,0,2.9042,299.97,217.88)" class="lo">T</text>
<text transform="matrix(0.9464,0,0,0.8406,306.02,241.62)" class="lt">G</text>
<text transform="matrix(0.9763,0,0,1.0609,305.99,235.65)" class="lt">C</text>
<text transform="matrix(0.9321,0,0,1.4991,306.47,228.24)" class="lo">A</text>
<text transform="matrix(1.0919,0,0,2.9110,306.25,217.93)" class="lo">T</text>
<text transform="matrix(0.9464,0,0,0.9664,312.30,241.61)" class="lt">G</text>
<text transform="matrix(0.9763,0,0,1.0727,312.27,234.75)" class="lt">C</text>
<text transform="matrix(0.9321,0,0,1.5006,312.75,227.27)" class="lo">A</text>
<text transform="matrix(1.0919,0,0,2.7679,312.53,216.94)" class="lo">T</text>
<text transform="matrix(0.9763,0,0,0.9113,318.55,241.61)" class="lt">C</text>
<text transform="matrix(0.9464,0,0,0.9818,318.58,235.15)" class="lt">G</text>
<text transform="matrix(1.0919,0,0,1.3410,318.81,228.30)" class="lo">T</text>
<text transform="matrix(0.9321,0,0,3.0777,319.03,219.07)" class="lo">A</text>
<text transform="matrix(0.9763,0,0,0.8847,324.83,241.61)" class="lt">C</text>
<text transform="matrix(0.9464,0,0,1.0904,324.86,235.33)" class="lt">G</text>
<text transform="matrix(1.0919,0,0,1.6144,325.09,227.72)" class="lo">T</text>
<text transform="matrix(0.9321,0,0,2.7200,325.31,216.61)" class="lo">A</text>
<text transform="matrix(0.9763,0,0,0.7692,331.11,241.62)" class="lt">C</text>
<text transform="matrix(0.9464,0,0,1.1659,331.14,236.14)" class="lt">G</text>
<text transform="matrix(0.9321,0,0,1.6803,331.59,228.00)" class="lo">A</text>
<text transform="matrix(1.0919,0,0,2.6952,331.37,216.44)" class="lo">T</text>
<text transform="matrix(0.9464,0,0,0.8271,337.42,241.62)" class="lt">G</text>
<text transform="matrix(0.9763,0,0,0.9411,337.39,235.75)" class="lt">C</text>
<text transform="matrix(0.9321,0,0,1.5402,337.87,229.18)" class="lo">A</text>
<text transform="matrix(1.0919,0,0,3.0069,337.65,218.59)" class="lo">T</text>
<text transform="matrix(0.9464,0,0,1.2031,343.70,241.58)" class="lt">G</text>
<text transform="matrix(0.9763,0,0,0.9139,343.67,233.09)" class="lt">C</text>
<text transform="matrix(0.9321,0,0,1.5069,344.15,226.72)" class="lo">A</text>
<text transform="matrix(1.0919,0,0,2.6815,343.93,216.35)" class="lo">T</text>
<text transform="matrix(0.9763,0,0,1.2309,349.95,241.58)" class="lt">C</text>
<text transform="matrix(0.9464,0,0,0.9057,349.98,232.90)" class="lt">G</text>
<text transform="matrix(0.9321,0,0,1.3975,350.43,226.58)" class="lo">A</text>
<text transform="matrix(1.0919,0,0,2.7707,350.21,216.96)" class="lo">T</text>
<text transform="matrix(0.9763,0,0,0.7955,356.23,241.62)" class="lt">C</text>
<text transform="matrix(0.9464,0,0,1.1319,356.26,235.96)" class="lt">G</text>
<text transform="matrix(0.9321,0,0,1.4734,356.71,228.06)" class="lo">A</text>
<text transform="matrix(1.0919,0,0,2.9101,356.49,217.92)" class="lo">T</text>
<text transform="matrix(0.9464,0,0,0.7894,362.54,241.62)" class="lt">G</text>
<text transform="matrix(0.9763,0,0,1.0365,362.51,236.01)" class="lt">C</text>
<text transform="matrix(0.9321,0,0,1.5497,362.99,228.78)" class="lo">A</text>
<text transform="matrix(1.0919,0,0,2.9382,362.77,218.12)" class="lo">T</text>
<text transform="matrix(0.9763,0,0,0.8481,368.79,241.62)" class="lt">C</text>
<text transform="matrix(0.9464,0,0,0.9747,368.82,235.60)" class="lt">G</text>
<text transform="matrix(0.9321,0,0,1.4798,369.27,228.80)" class="lo">A</text>
<text transform="matrix(1.0919,0,0,3.0112,369.05,218.62)" class="lo">T</text>
<text transform="matrix(0.9763,0,0,0.3257,375.07,241.67)" class="lt">C</text>
<text transform="matrix(0.9464,0,0,1.1313,375.10,239.28)" class="lt">G</text>
<text transform="matrix(1.0919,0,0,1.6854,375.33,231.39)" class="lo">T</text>
<text transform="matrix(0.9321,0,0,3.1819,375.55,219.79)" class="lo">A</text>
<text transform="matrix(0.9464,0,0,0.8919,381.38,241.61)" class="lt">G</text>
<text transform="matrix(0.9763,0,0,0.9612,381.35,235.29)" class="lt">C</text>
<text transform="matrix(0.9321,0,0,1.4255,381.83,228.58)" class="lo">A</text>
<text transform="matrix(1.0919,0,0,3.0343,381.61,218.78)" class="lo">T</text>
<text transform="matrix(0.9763,0,0,0.1856,387.63,241.68)" class="lt">C</text>
<text transform="matrix(0.9321,0,0,1.9735,388.11,240.39)" class="lo">A</text>
<text transform="matrix(1.0919,0,0,4.0744,387.89,226.81)" class="lo">T</text>
<text transform="matrix(0.9321,0,0,6.1753,394.39,241.70)" class="lo">A</text>
<text transform="matrix(0.9763,0,0,0.1856,400.19,241.68)" class="lt">C</text>
<text transform="matrix(0.9321,0,0,2.0372,400.67,240.39)" class="lo">A</text>
<text transform="matrix(1.0919,0,0,1.2096,400.45,226.37)" class="lo">T</text>
<text transform="matrix(0.9464,0,0,2.7228,400.22,217.78)" class="lt">G</text>
<text transform="matrix(0.9763,0,0,1.0407,406.47,241.60)" class="lt">C</text>
<text transform="matrix(0.9464,0,0,1.1107,406.50,234.22)" class="lt">G</text>
<text transform="matrix(0.9321,0,0,1.3319,406.95,226.47)" class="lo">A</text>
<text transform="matrix(1.0919,0,0,2.8210,406.73,217.31)" class="lo">T</text>
<text transform="matrix(0.9464,0,0,0.8031,412.78,241.62)" class="lt">G</text>
<text transform="matrix(0.9763,0,0,1.0049,412.75,235.92)" class="lt">C</text>
<text transform="matrix(0.9321,0,0,1.6285,413.23,228.90)" class="lo">A</text>
<text transform="matrix(1.0919,0,0,2.8778,413.01,217.70)" class="lo">T</text>
<text transform="matrix(0.9763,0,0,0.6342,419.03,241.64)" class="lt">C</text>
<text transform="matrix(0.9464,0,0,0.8974,419.06,237.12)" class="lt">G</text>
<text transform="matrix(0.9321,0,0,1.6287,419.51,230.86)" class="lo">A</text>
<text transform="matrix(1.0919,0,0,3.1618,419.29,219.65)" class="lo">T</text>
<text transform="matrix(0.9763,0,0,0.8506,425.31,241.62)" class="lt">C</text>
<text transform="matrix(0.9464,0,0,1.0282,425.34,235.58)" class="lt">G</text>
<text transform="matrix(0.9321,0,0,1.6528,425.79,228.40)" class="lo">A</text>
<text transform="matrix(1.0919,0,0,2.7806,425.57,217.03)" class="lo">T</text>
<text transform="matrix(0.9763,0,0,0.7701,431.59,241.62)" class="lt">C</text>
<text transform="matrix(0.9464,0,0,0.9176,431.62,236.16)" class="lt">G</text>
<text transform="matrix(0.9321,0,0,1.4569,432.07,229.75)" class="lo">A</text>
<text transform="matrix(1.0919,0,0,3.1731,431.85,219.73)" class="lo">T</text>
<text transform="matrix(0.9763,0,0,0.7475,437.87,241.63)" class="lt">C</text>
<text transform="matrix(0.9464,0,0,0.9724,437.90,236.31)" class="lt">G</text>
<text transform="matrix(0.9321,0,0,1.6025,438.35,229.53)" class="lo">A</text>
<text transform="matrix(1.0919,0,0,2.9944,438.13,218.50)" class="lo">T</text>
<text transform="matrix(0.9763,0,0,0.9882,444.15,241.60)" class="lt">C</text>
<text transform="matrix(0.9464,0,0,1.1658,444.18,234.59)" class="lt">G</text>
<text transform="matrix(0.9321,0,0,1.4321,444.63,226.45)" class="lo">A</text>
<text transform="matrix(1.0919,0,0,2.7182,444.41,216.60)" class="lo">T</text>
<text transform="matrix(0.9763,0,0,0.9356,450.43,241.61)" class="lt">C</text>
<text transform="matrix(0.9464,0,0,0.9659,450.46,234.98)" class="lt">G</text>
<text transform="matrix(0.9321,0,0,1.3502,450.91,228.24)" class="lo">A</text>
<text transform="matrix(1.0919,0,0,3.0599,450.69,218.95)" class="lo">T</text>
<text transform="matrix(0.9763,0,0,1.1291,456.71,241.59)" class="lt">C</text>
<text transform="matrix(0.9464,0,0,1.1192,456.74,233.60)" class="lt">G</text>
<text transform="matrix(0.9321,0,0,1.3280,457.19,225.79)" class="lo">A</text>
<text transform="matrix(1.0919,0,0,2.7253,456.97,216.65)" class="lo">T</text>
<text transform="matrix(0.9763,0,0,1.0031,462.99,241.60)" class="lt">C</text>
<text transform="matrix(0.9464,0,0,1.0219,463.02,234.50)" class="lt">G</text>
<text transform="matrix(0.9321,0,0,1.5187,463.47,227.37)" class="lo">A</text>
<text transform="matrix(1.0919,0,0,2.7643,463.25,216.92)" class="lo">T</text>
<text transform="matrix(0.9464,0,0,1.0207,469.30,241.60)" class="lt">G</text>
<text transform="matrix(0.9763,0,0,0.9338,469.27,234.38)" class="lt">C</text>
<text transform="matrix(1.0919,0,0,1.5847,469.53,227.87)" class="lo">T</text>
<text transform="matrix(0.9321,0,0,2.7710,469.75,216.96)" class="lo">A</text>
<text transform="matrix(0.9763,0,0,0.9442,475.55,241.61)" class="lt">C</text>
<text transform="matrix(0.9464,0,0,1.0145,475.58,234.92)" class="lt">G</text>
<text transform="matrix(1.0919,0,0,1.3496,475.81,227.84)" class="lo">T</text>
<text transform="matrix(0.9321,0,0,3.0017,476.03,218.55)" class="lo">A</text>
<text transform="matrix(0.9763,0,0,0.9474,481.83,241.61)" class="lt">C</text>
<text transform="matrix(0.9464,0,0,1.1677,481.86,234.88)" class="lt">G</text>
<text transform="matrix(0.9321,0,0,1.4081,482.31,226.73)" class="lo">A</text>
<text transform="matrix(1.0919,0,0,2.7823,482.09,217.04)" class="lo">T</text>
<text transform="matrix(0.9763,0,0,0.6662,488.11,241.63)" class="lt">C</text>
<text transform="matrix(0.9464,0,0,1.1437,488.14,236.87)" class="lt">G</text>
<text transform="matrix(0.9321,0,0,1.4213,488.59,228.89)" class="lo">A</text>
<text transform="matrix(1.0919,0,0,3.0830,488.37,219.11)" class="lo">T</text>
<line x1="51.9" y1="262.40" x2="51.9" y2="306.20" stroke="#333" stroke-width="1"/>
<line x1="49.30" y1="306.20" x2="51.9" y2="306.20" stroke="#333" stroke-width="0.8"/>
<line x1="50.50" y1="301.82" x2="51.9" y2="301.82" stroke="#333" stroke-width="0.8"/>
<line x1="50.50" y1="297.44" x2="51.9" y2="297.44" stroke="#333" stroke-width="0.8"/>
<line x1="50.50" y1="293.06" x2="51.9" y2="293.06" stroke="#333" stroke-width="0.8"/>
<line x1="50.50" y1="288.68" x2="51.9" y2="288.68" stroke="#333" stroke-width="0.8"/>
<line x1="49.30" y1="284.30" x2="51.9" y2="284.30" stroke="#333" stroke-width="0.8"/>
<line x1="50.50" y1="279.92" x2="51.9" y2="279.92" stroke="#333" stroke-width="0.8"/>
<line x1="50.50" y1="275.54" x2="51.9" y2="275.54" stroke="#333" stroke-width="0.8"/>
<line x1="50.50" y1="271.16" x2="51.9" y2="271.16" stroke="#333" stroke-width="0.8"/>
<line x1="50.50" y1="266.78" x2="51.9" y2="266.78" stroke="#333" stroke-width="0.8"/>
<line x1="49.30" y1="262.40" x2="51.9" y2="262.40" stroke="#333" stroke-width="0.8"/>
<line x1="51.9" y1="306.70" x2="250.5" y2="306.70" stroke="#333" stroke-width="1"/>
<line x1="56.60" y1="306.70" x2="56.60" y2="309.10" stroke="#333" stroke-width="0.8"/>
<line x1="62.88" y1="306.70" x2="62.88" y2="308.00" stroke="#333" stroke-width="0.8"/>
<line x1="69.16" y1="306.70" x2="69.16" y2="308.00" stroke="#333" stroke-width="0.8"/>
<line x1="75.44" y1="306.70" x2="75.44" y2="308.00" stroke="#333" stroke-width="0.8"/>
<line x1="81.72" y1="306.70" x2="81.72" y2="308.00" stroke="#333" stroke-width="0.8"/>
<line x1="88.00" y1="306.70" x2="88.00" y2="309.10" stroke="#333" stroke-width="0.8"/>
<line x1="94.28" y1="306.70" x2="94.28" y2="308.00" stroke="#333" stroke-width="0.8"/>
<line x1="100.56" y1="306.70" x2="100.56" y2="308.00" stroke="#333" stroke-width="0.8"/>
<line x1="106.84" y1="306.70" x2="106.84" y2="308.00" stroke="#333" stroke-width="0.8"/>
<line x1="113.12" y1="306.70" x2="113.12" y2="308.00" stroke="#333" stroke-width="0.8"/>
<line x1="119.40" y1="306.70" x2="119.40" y2="309.10" stroke="#333" stroke-width="0.8"/>
<line x1="125.68" y1="306.70" x2="125.68" y2="308.00" stroke="#333" stroke-width="0.8"/>
<line x1="131.96" y1="306.70" x2="131.96" y2="308.00" stroke="#333" stroke-width="0.8"/>
<line x1="138.24" y1="306.70" x2="138.24" y2="308.00" stroke="#333" stroke-width="0.8"/>
<line x1="144.52" y1="306.70" x2="144.52" y2="308.00" stroke="#333" stroke-width="0.8"/>
<line x1="150.80" y1="306.70" x2="150.80" y2="309.10" stroke="#333" stroke-width="0.8"/>
<line x1="157.08" y1="306.70" x2="157.08" y2="308.00" stroke="#333" stroke-width="0.8"/>
<line x1="163.36" y1="306.70" x2="163.36" y2="308.00" stroke="#333" stroke-width="0.8"/>
<line x1="169.64" y1="306.70" x2="169.64" y2="308.00" stroke="#333" stroke-width="0.8"/>
<line x1="175.92" y1="306.70" x2="175.92" y2="308.00" stroke="#333" stroke-width="0.8"/>
<line x1="182.20" y1="306.70" x2="182.20" y2="309.10" stroke="#333" stroke-width="0.8"/>
<line x1="188.48" y1="306.70" x2="188.48" y2="308.00" stroke="#333" stroke-width="0.8"/>
<line x1="194.76" y1="306.70" x2="194.76" y2="308.00" stroke="#333" stroke-width="0.8"/>
<line x1="201.04" y1="306.70" x2="201.04" y2="308.00" stroke="#333" stroke-width="0.8"/>
<line x1="207.32" y1="306.70" x2="207.32" y2="308.00" stroke="#333" stroke-width="0.8"/>
<line x1="213.60" y1="306.70" x2="213.60" y2="309.10" stroke="#333" stroke-width="0.8"/>
<line x1="219.88" y1="306.70" x2="219.88" y2="308.00" stroke="#333" stroke-width="0.8"/>
<line x1="226.16" y1="306.70" x2="226.16" y2="308.00" stroke="#333" stroke-width="0.8"/>
<line x1="232.44" y1="306.70" x2="232.44" y2="308.00" stroke="#333" stroke-width="0.8"/>
<line x1="238.72" y1="306.70" x2="238.72" y2="308.00" stroke="#333" stroke-width="0.8"/>
<line x1="245.00" y1="306.70" x2="245.00" y2="309.10" stroke="#333" stroke-width="0.8"/>
<text transform="matrix(0.9763,0,0,0.5823,53.01,306.14)" class="lt">C</text>
<text transform="matrix(0.9464,0,0,0.9130,53.04,301.99)" class="lt">G</text>
<text transform="matrix(1.0919,0,0,1.6671,53.27,295.62)" class="lo">T</text>
<text transform="matrix(0.9321,0,0,3.1607,53.49,284.15)" class="lo">A</text>
<text transform="matrix(0.9763,0,0,0.8661,59.29,306.12)" class="lt">C</text>
<text transform="matrix(0.9464,0,0,1.1022,59.32,299.96)" class="lt">G</text>
<text transform="matrix(1.0919,0,0,1.6242,59.55,292.27)" class="lo">T</text>
<text transform="matrix(0.9321,0,0,2.7171,59.77,281.09)" class="lo">A</text>
<text transform="matrix(0.9464,0,0,0.8086,65.60,306.12)" class="lt">G</text>
<text transform="matrix(0.9763,0,0,1.0660,65.57,300.37)" class="lt">C</text>
<text transform="matrix(0.9321,0,0,1.4228,66.05,292.93)" class="lo">A</text>
<text transform="matrix(1.0919,0,0,3.0149,65.83,283.14)" class="lo">T</text>
<text transform="matrix(0.9763,0,0,0.8630,71.85,306.12)" class="lt">C</text>
<text transform="matrix(0.9464,0,0,0.9414,71.88,300.00)" class="lt">G</text>
<text transform="matrix(0.9321,0,0,1.5271,72.33,293.43)" class="lo">A</text>
<text transform="matrix(1.0919,0,0,2.9829,72.11,282.92)" class="lo">T</text>
<text transform="matrix(0.9763,0,0,0.8626,78.13,306.12)" class="lt">C</text>
<text transform="matrix(0.9464,0,0,1.0986,78.16,299.99)" class="lt">G</text>
<text transform="matrix(0.9321,0,0,1.4554,78.61,292.32)" class="lo">A</text>
<text transform="matrix(1.0919,0,0,2.8932,78.39,282.31)" class="lo">T</text>
<text transform="matrix(0.9464,0,0,0.4268,84.44,306.16)" class="lt">G</text>
<text transform="matrix(0.9763,0,0,1.0488,84.41,303.08)" class="lt">C</text>
<text transform="matrix(0.9321,0,0,1.6677,84.89,295.76)" class="lo">A</text>
<text transform="matrix(1.0919,0,0,3.1805,84.67,284.28)" class="lo">T</text>
<text transform="matrix(0.9763,0,0,1.0935,90.69,306.09)" class="lt">C</text>
<text transform="matrix(0.9464,0,0,0.9073,90.72,298.37)" class="lt">G</text>
<text transform="matrix(0.9321,0,0,1.4075,91.17,292.04)" class="lo">A</text>
<text transform="matrix(1.0919,0,0,2.9004,90.95,282.35)" class="lo">T</text>
<text transform="matrix(0.9763,0,0,1.1484,96.97,306.09)" class="lt">C</text>
<text transform="matrix(0.9464,0,0,0.9860,97.00,297.97)" class="lt">G</text>
<text transform="matrix(1.0919,0,0,1.4827,97.23,291.09)" class="lo">T</text>
<text transform="matrix(0.9321,0,0,2.6878,97.45,280.89)" class="lo">A</text>
<text transform="matrix(0.9464,0,0,0.7576,103.28,306.13)" class="lt">G</text>
<text transform="matrix(0.9763,0,0,1.0437,103.25,300.74)" class="lt">C</text>
<text transform="matrix(0.9321,0,0,1.6457,103.73,293.45)" class="lo">A</text>
<text transform="matrix(1.0919,0,0,2.8674,103.51,282.13)" class="lo">T</text>
<text transform="matrix(0.9763,0,0,1.0515,109.53,306.10)" class="lt">C</text>
<text transform="matrix(0.9464,0,0,0.9039,109.56,298.67)" class="lt">G</text>
<text transform="matrix(0.9321,0,0,1.3953,110.01,292.36)" class="lo">A</text>
<text transform="matrix(1.0919,0,0,2.9593,109.79,282.76)" class="lo">T</text>
<text transform="matrix(0.9464,0,0,1.0695,115.84,306.10)" class="lt">G</text>
<text transform="matrix(0.9763,0,0,1.0394,115.81,298.53)" class="lt">C</text>
<text transform="matrix(0.9321,0,0,1.3573,116.29,291.27)" class="lo">A</text>
<text transform="matrix(1.0919,0,0,2.8394,116.07,281.94)" class="lo">T</text>
<text transform="matrix(0.9464,0,0,0.6278,122.12,306.14)" class="lt">G</text>
<text transform="matrix(0.9763,0,0,0.9479,122.09,301.66)" class="lt">C</text>
<text transform="matrix(0.9321,0,0,1.5627,122.57,295.05)" class="lo">A</text>
<text transform="matrix(1.0919,0,0,3.1825,122.35,284.30)" class="lo">T</text>
<text transform="matrix(0.9763,0,0,0.4806,128.37,306.15)" class="lt">C</text>
<text transform="matrix(0.9464,0,0,1.1018,128.40,302.69)" class="lt">G</text>
<text transform="matrix(0.9321,0,0,1.6094,128.85,295.00)" class="lo">A</text>
<text transform="matrix(1.0919,0,0,3.1289,128.63,283.93)" class="lo">T</text>
<text transform="matrix(0.9464,0,0,0.4713,134.68,306.15)" class="lt">G</text>
<text transform="matrix(0.9763,0,0,1.1172,134.65,302.75)" class="lt">C</text>
<text transform="matrix(1.0919,0,0,1.5965,134.91,294.96)" class="lo">T</text>
<text transform="matrix(0.9321,0,0,3.1356,135.13,283.97)" class="lo">A</text>
<text transform="matrix(0.9763,0,0,0.1856,140.93,306.18)" class="lt">C</text>
<text transform="matrix(0.9321,0,0,1.9735,141.41,304.89)" class="lo">A</text>
<text transform="matrix(1.0919,0,0,4.0744,141.19,291.31)" class="lo">T</text>
<text transform="matrix(0.9321,0,0,6.1753,147.69,306.20)" class="lo">A</text>
<text transform="matrix(0.9763,0,0,0.1856,153.49,306.18)" class="lt">C</text>
<text transform="matrix(0.9321,0,0,2.0372,153.97,304.89)" class="lo">A</text>
<text transform="matrix(1.0919,0,0,1.2096,153.75,290.87)" class="lo">T</text>
<text transform="matrix(0.9464,0,0,2.7228,153.52,282.28)" class="lt">G</text>
<text transform="matrix(0.9763,0,0,0.6161,159.77,306.14)" class="lt">C</text>
<text transform="matrix(0.9464,0,0,1.1651,159.80,301.73)" class="lt">G</text>
<text transform="matrix(1.0919,0,0,1.6798,160.03,293.59)" class="lo">T</text>
<text transform="matrix(0.9321,0,0,2.8540,160.25,282.04)" class="lo">A</text>
<text transform="matrix(0.9763,0,0,0.8644,166.05,306.12)" class="lt">C</text>
<text transform="matrix(0.9464,0,0,1.0964,166.08,299.97)" class="lt">G</text>
<text transform="matrix(0.9321,0,0,1.5931,166.53,292.32)" class="lo">A</text>
<text transform="matrix(1.0919,0,0,2.7559,166.31,281.36)" class="lo">T</text>
<text transform="matrix(0.9763,0,0,0.8615,172.33,306.12)" class="lt">C</text>
<text transform="matrix(0.9464,0,0,1.0337,172.36,300.00)" class="lt">G</text>
<text transform="matrix(0.9321,0,0,1.5077,172.81,292.79)" class="lo">A</text>
<text transform="matrix(1.0919,0,0,2.9088,172.59,282.41)" class="lo">T</text>
<text transform="matrix(0.9464,0,0,0.5479,178.64,306.15)" class="lt">G</text>
<text transform="matrix(0.9763,0,0,1.1288,178.61,302.21)" class="lt">C</text>
<text transform="matrix(0.9321,0,0,1.4964,179.09,294.33)" class="lo">A</text>
<text transform="matrix(1.0919,0,0,3.1449,178.87,284.04)" class="lo">T</text>
<text transform="matrix(0.9464,0,0,0.6697,184.92,306.13)" class="lt">G</text>
<text transform="matrix(0.9763,0,0,1.1478,184.89,301.35)" class="lt">C</text>
<text transform="matrix(0.9321,0,0,1.6423,185.37,293.34)" class="lo">A</text>
<text transform="matrix(1.0919,0,0,2.8541,185.15,282.04)" class="lo">T</text>
<text transform="matrix(0.9763,0,0,0.7280,191.17,306.13)" class="lt">C</text>
<text transform="matrix(0.9464,0,0,1.1536,191.20,300.93)" class="lt">G</text>
<text transform="matrix(0.9321,0,0,1.5219,191.65,292.88)" class="lo">A</text>
<text transform="matrix(1.0919,0,0,2.9086,191.43,282.41)" class="lo">T</text>
<text transform="matrix(0.9464,0,0,0.8225,197.48,306.12)" class="lt">G</text>
<text transform="matrix(0.9763,0,0,0.9591,197.45,300.28)" class="lt">C</text>
<text transform="matrix(0.9321,0,0,1.4910,197.93,293.59)" class="lo">A</text>
<text transform="matrix(1.0919,0,0,3.0425,197.71,283.33)" class="lo">T</text>
<text transform="matrix(0.9763,0,0,0.9566,203.73,306.11)" class="lt">C</text>
<text transform="matrix(0.9464,0,0,0.9435,203.76,299.34)" class="lt">G</text>
<text transform="matrix(0.9321,0,0,1.5723,204.21,292.75)" class="lo">A</text>
<text transform="matrix(1.0919,0,0,2.8392,203.99,281.93)" class="lo">T</text>
<text transform="matrix(0.9763,0,0,0.6205,210.01,306.14)" class="lt">C</text>
<text transform="matrix(0.9464,0,0,1.1511,210.04,301.70)" class="lt">G</text>
<text transform="matrix(0.9321,0,0,1.4075,210.49,293.66)" class="lo">A</text>
<text transform="matrix(1.0919,0,0,3.1363,210.27,283.98)" class="lo">T</text>
<text transform="matrix(0.9763,0,0,0.7179,216.29,306.13)" class="lt">C</text>
<text transform="matrix(0.9464,0,0,1.0939,216.32,301.01)" class="lt">G</text>
<text transform="matrix(0.9321,0,0,1.6708,216.77,293.38)" class="lo">A</text>
<text transform="matrix(1.0919,0,0,2.8315,216.55,281.88)" class="lo">T</text>
<text transform="matrix(0.9763,0,0,0.8000,222.57,306.12)" class="lt">C</text>
<text transform="matrix(0.9464,0,0,1.0787,222.60,300.43)" class="lt">G</text>
<text transform="matrix(0.9321,0,0,1.5029,223.05,292.90)" class="lo">A</text>
<text transform="matrix(1.0919,0,0,2.9307,222.83,282.56)" class="lo">T</text>
<text transform="matrix(0.9763,0,0,0.9586,228.85,306.11)" class="lt">C</text>
<text transform="matrix(0.9464,0,0,0.9552,228.88,299.32)" class="lt">G</text>
<text transform="matrix(0.9321,0,0,1.4242,229.33,292.65)" class="lo">A</text>
<text transform="matrix(1.0919,0,0,2.9733,229.11,282.86)" class="lo">T</text>
<text transform="matrix(0.9464,0,0,0.6495,235.16,306.14)" class="lt">G</text>
<text transform="matrix(0.9763,0,0,1.0708,235.13,301.50)" class="lt">C</text>
<text transform="matrix(0.9321,0,0,1.6619,235.61,294.02)" class="lo">A</text>
<text transform="matrix(1.0919,0,0,2.9345,235.39,282.59)" class="lo">T</text>
<text transform="matrix(0.9464,0,0,0.8792,241.44,306.11)" class="lt">G</text>
<text transform="matrix(0.9763,0,0,1.0994,241.41,299.87)" class="lt">C</text>
<text transform="matrix(0.9321,0,0,1.6185,241.89,292.20)" class="lo">A</text>
<text transform="matrix(1.0919,0,0,2.7122,241.67,281.06)" class="lo">T</text>
<line x1="298.6" y1="262.40" x2="298.6" y2="306.20" stroke="#333" stroke-width="1"/>
<line x1="296.00" y1="306.20" x2="298.6" y2="306.20" stroke="#333" stroke-width="0.8"/>
<line x1="297.20" y1="301.82" x2="298.6" y2="301.82" stroke="#333" stroke-width="0.8"/>
<line x1="297.20" y1="297.44" x2="298.6" y2="297.44" stroke="#333" stroke-width="0.8"/>
<line x1="297.20" y1="293.06" x2="298.6" y2="293.06" stroke="#333" stroke-width="0.8"/>
<line x1="297.20" y1="288.68" x2="298.6" y2="288.68" stroke="#333" stroke-width="0.8"/>
<line x1="296.00" y1="284.30" x2="298.6" y2="284.30" stroke="#333" stroke-width="0.8"/>
<line x1="297.20" y1="279.92" x2="298.6" y2="279.92" stroke="#333" stroke-width="0.8"/>
<line x1="297.20" y1="275.54" x2="298.6" y2="275.54" stroke="#333" stroke-width="0.8"/>
<line x1="297.20" y1="271.16" x2="298.6" y2="271.16" stroke="#333" stroke-width="0.8"/>
<line x1="297.20" y1="266.78" x2="298.6" y2="266.78" stroke="#333" stroke-width="0.8"/>
<line x1="296.00" y1="262.40" x2="298.6" y2="262.40" stroke="#333" stroke-width="0.8"/>
<line x1="298.6" y1="306.70" x2="497.0" y2="306.70" stroke="#333" stroke-width="1"/>
<line x1="303.30" y1="306.70" x2="303.30" y2="309.10" stroke="#333" stroke-width="0.8"/>
<line x1="309.58" y1="306.70" x2="309.58" y2="308.00" stroke="#333" stroke-width="0.8"/>
<line x1="315.86" y1="306.70" x2="315.86" y2="308.00" stroke="#333" stroke-width="0.8"/>
<line x1="322.14" y1="306.70" x2="322.14" y2="308.00" stroke="#333" stroke-width="0.8"/>
<line x1="328.42" y1="306.70" x2="328.42" y2="308.00" stroke="#333" stroke-width="0.8"/>
<line x1="334.70" y1="306.70" x2="334.70" y2="309.10" stroke="#333" stroke-width="0.8"/>
<line x1="340.98" y1="306.70" x2="340.98" y2="308.00" stroke="#333" stroke-width="0.8"/>
<line x1="347.26" y1="306.70" x2="347.26" y2="308.00" stroke="#333" stroke-width="0.8"/>
<line x1="353.54" y1="306.70" x2="353.54" y2="308.00" stroke="#333" stroke-width="0.8"/>
<line x1="359.82" y1="306.70" x2="359.82" y2="308.00" stroke="#333" stroke-width="0.8"/>
<line x1="366.10" y1="306.70" x2="366.10" y2="309.10" stroke="#333" stroke-width="0.8"/>
<line x1="372.38" y1="306.70" x2="372.38" y2="308.00" stroke="#333" stroke-width="0.8"/>
<line x1="378.66" y1="306.70" x2="378.66" y2="308.00" stroke="#333" stroke-width="0.8"/>
<line x1="384.94" y1="306.70" x2="384.94" y2="308.00" stroke="#333" stroke-width="0.8"/>
<line x1="391.22" y1="306.70" x2="391.22" y2="308.00" stroke="#333" stroke-width="0.8"/>
<line x1="397.50" y1="306.70" x2="397.50" y2="309.10" stroke="#333" stroke-width="0.8"/>
<line x1="403.78" y1="306.70" x2="403.78" y2="308.00" stroke="#333" stroke-width="0.8"/>
<line x1="410.06" y1="306.70" x2="410.06" y2="308.00" stroke="#333" stroke-width="0.8"/>
<line x1="416.34" y1="306.70" x2="416.34" y2="308.00" stroke="#333" stroke-width="0.8"/>
<line x1="422.62" y1="306.70" x2="422.62" y2="308.00" stroke="#333" stroke-width="0.8"/>
<line x1="428.90" y1="306.70" x2="428.90" y2="309.10" stroke="#333" stroke-width="0.8"/>
<line x1="435.18" y1="306.70" x2="435.18" y2="308.00" stroke="#333" stroke-width="0.8"/>
<line x1="441.46" y1="306.70" x2="441.46" y2="308.00" stroke="#333" stroke-width="0.8"/>
<line x1="447.74" y1="306.70" x2="447.74" y2="308.00" stroke="#333" stroke-width="0.8"/>
<line x1="454.02" y1="306.70" x2="454.02" y2="308.00" stroke="#333" stroke-width="0.8"/>
<line x1="460.30" y1="306.70" x2="460.30" y2="309.10" stroke="#333" stroke-width="0.8"/>
<line x1="466.58" y1="306.70" x2="466.58" y2="308.00" stroke="#333" stroke-width="0.8"/>
<line x1="472.86" y1="306.70" x2="472.86" y2="308.00" stroke="#333" stroke-width="0.8"/>
<line x1="479.14" y1="306.70" x2="479.14" y2="308.00" stroke="#333" stroke-width="0.8"/>
<line x1="485.42" y1="306.70" x2="485.42" y2="308.00" stroke="#333" stroke-width="0.8"/>
<line x1="491.70" y1="306.70" x2="491.70" y2="309.10" stroke="#333" stroke-width="0.8"/>
<text transform="matrix(0.9763,0,0,0.7587,299.71,306.13)" class="lt">C</text>
<text transform="matrix(0.9464,0,0,1.0829,299.74,300.72)" class="lt">G</text>
<text transform="matrix(0.9321,0,0,1.5562,300.19,293.17)" class="lo">A</text>
<text transform="matrix(1.0919,0,0,2.9155,299.97,282.46)" class="lo">T</text>
<text transform="matrix(0.9763,0,0,1.2443,305.99,306.08)" class="lt">C</text>
<text transform="matrix(0.9464,0,0,1.0016,306.02,297.29)" class="lt">G</text>
<text transform="matrix(0.9321,0,0,1.3092,306.47,290.30)" class="lo">A</text>
<text transform="matrix(1.0919,0,0,2.7465,306.25,281.30)" class="lo">T</text>
<text transform="matrix(0.9763,0,0,0.7944,312.27,306.12)" class="lt">C</text>
<text transform="matrix(0.9464,0,0,1.0896,312.30,300.47)" class="lt">G</text>
<text transform="matrix(0.9321,0,0,1.6146,312.75,292.86)" class="lo">A</text>
<text transform="matrix(1.0919,0,0,2.8134,312.53,281.76)" class="lo">T</text>
<text transform="matrix(0.9763,0,0,0.7341,318.55,306.13)" class="lt">C</text>
<text transform="matrix(0.9464,0,0,1.0814,318.58,300.90)" class="lt">G</text>
<text transform="matrix(1.0919,0,0,1.5183,318.81,293.35)" class="lo">T</text>
<text transform="matrix(0.9321,0,0,2.9802,319.03,282.90)" class="lo">A</text>
<text transform="matrix(0.9763,0,0,1.1428,324.83,306.09)" class="lt">C</text>
<text transform="matrix(0.9464,0,0,0.9425,324.86,298.02)" class="lt">G</text>
<text transform="matrix(1.0919,0,0,1.4732,325.09,291.44)" class="lo">T</text>
<text transform="matrix(0.9321,0,0,2.7478,325.31,281.31)" class="lo">A</text>
<text transform="matrix(0.9763,0,0,0.7249,331.11,306.13)" class="lt">C</text>
<text transform="matrix(0.9464,0,0,1.1253,331.14,300.96)" class="lt">G</text>
<text transform="matrix(0.9321,0,0,1.3276,331.59,293.10)" class="lo">A</text>
<text transform="matrix(1.0919,0,0,3.1353,331.37,283.97)" class="lo">T</text>
<text transform="matrix(0.9464,0,0,1.0374,337.42,306.10)" class="lt">G</text>
<text transform="matrix(0.9763,0,0,0.9911,337.39,298.76)" class="lt">C</text>
<text transform="matrix(0.9321,0,0,1.5675,337.87,291.84)" class="lo">A</text>
<text transform="matrix(1.0919,0,0,2.7118,337.65,281.06)" class="lo">T</text>
<text transform="matrix(0.9464,0,0,0.9050,343.70,306.11)" class="lt">G</text>
<text transform="matrix(0.9763,0,0,0.9025,343.67,299.71)" class="lt">C</text>
<text transform="matrix(0.9321,0,0,1.6269,344.15,293.41)" class="lo">A</text>
<text transform="matrix(1.0919,0,0,2.8799,343.93,282.21)" class="lo">T</text>
<text transform="matrix(0.9763,0,0,0.9117,349.95,306.11)" class="lt">C</text>
<text transform="matrix(0.9464,0,0,1.0390,349.98,299.64)" class="lt">G</text>
<text transform="matrix(0.9321,0,0,1.6546,350.43,292.39)" class="lo">A</text>
<text transform="matrix(1.0919,0,0,2.7048,350.21,281.01)" class="lo">T</text>
<text transform="matrix(0.9763,0,0,0.7481,356.23,306.13)" class="lt">C</text>
<text transform="matrix(0.9464,0,0,1.1609,356.26,300.79)" class="lt">G</text>
<text transform="matrix(0.9321,0,0,1.6821,356.71,292.69)" class="lo">A</text>
<text transform="matrix(1.0919,0,0,2.7202,356.49,281.11)" class="lo">T</text>
<text transform="matrix(0.9763,0,0,1.1728,362.51,306.09)" class="lt">C</text>
<text transform="matrix(0.9464,0,0,0.9349,362.54,297.81)" class="lt">G</text>
<text transform="matrix(0.9321,0,0,1.4667,362.99,291.28)" class="lo">A</text>
<text transform="matrix(1.0919,0,0,2.7311,362.77,281.19)" class="lo">T</text>
<text transform="matrix(0.9763,0,0,0.9923,368.79,306.10)" class="lt">C</text>
<text transform="matrix(0.9464,0,0,0.9428,368.82,299.08)" class="lt">G</text>
<text transform="matrix(0.9321,0,0,1.5425,369.27,292.50)" class="lo">A</text>
<text transform="matrix(1.0919,0,0,2.8330,369.05,281.89)" class="lo">T</text>
<text transform="matrix(0.9763,0,0,1.0116,375.07,306.10)" class="lt">C</text>
<text transform="matrix(0.9464,0,0,0.9450,375.10,298.95)" class="lt">G</text>
<text transform="matrix(1.0919,0,0,1.3247,375.33,292.35)" class="lo">T</text>
<text transform="matrix(0.9321,0,0,3.0287,375.55,283.24)" class="lo">A</text>
<text transform="matrix(0.9464,0,0,0.7541,381.38,306.13)" class="lt">G</text>
<text transform="matrix(0.9763,0,0,1.0139,381.35,300.76)" class="lt">C</text>
<text transform="matrix(0.9321,0,0,1.4581,381.83,293.69)" class="lo">A</text>
<text transform="matrix(1.0919,0,0,3.0893,381.61,283.65)" class="lo">T</text>
<text transform="matrix(0.9763,0,0,0.1856,387.63,306.18)" class="lt">C</text>
<text transform="matrix(0.9321,0,0,1.9735,388.11,304.89)" class="lo">A</text>
<text transform="matrix(1.0919,0,0,4.0744,387.89,291.31)" class="lo">T</text>
<text transform="matrix(0.9321,0,0,6.1753,394.39,306.20)" class="lo">A</text>
<text transform="matrix(0.9763,0,0,0.1856,400.19,306.18)" class="lt">C</text>
<text transform="matrix(0.9321,0,0,2.0372,400.67,304.89)" class="lo">A</text>
<text transform="matrix(1.0919,0,0,1.2096,400.45,290.87)" class="lo">T</text>
<text transform="matrix(0.9464,0,0,2.7228,400.22,282.28)" class="lt">G</text>
<text transform="matrix(0.9763,0,0,0.8441,406.47,306.12)" class="lt">C</text>
<text transform="matrix(0.9464,0,0,1.0044,406.50,300.13)" class="lt">G</text>
<text transform="matrix(1.0919,0,0,1.4872,406.73,293.12)" class="lo">T</text>
<text transform="matrix(0.9321,0,0,2.9774,406.95,282.88)" class="lo">A</text>
<text transform="matrix(0.9763,0,0,0.8691,412.75,306.11)" class="lt">C</text>
<text transform="matrix(0.9464,0,0,1.1667,412.78,299.93)" class="lt">G</text>
<text transform="matrix(0.9321,0,0,1.5825,413.23,291.79)" class="lo">A</text>
<text transform="matrix(1.0919,0,0,2.6894,413.01,280.90)" class="lo">T</text>
<text transform="matrix(0.9763,0,0,0.5943,419.03,306.14)" class="lt">C</text>
<text transform="matrix(0.9464,0,0,0.9965,419.06,301.90)" class="lt">G</text>
<text transform="matrix(0.9321,0,0,1.5586,419.51,294.94)" class="lo">A</text>
<text transform="matrix(1.0919,0,0,3.1711,419.29,284.22)" class="lo">T</text>
<text transform="matrix(0.9763,0,0,0.7997,425.31,306.12)" class="lt">C</text>
<text transform="matrix(0.9464,0,0,1.0849,425.34,300.43)" class="lt">G</text>
<text transform="matrix(0.9321,0,0,1.5687,425.79,292.86)" class="lo">A</text>
<text transform="matrix(1.0919,0,0,2.8588,425.57,282.07)" class="lo">T</text>
<text transform="matrix(0.9464,0,0,1.1785,431.62,306.08)" class="lt">G</text>
<text transform="matrix(0.9763,0,0,0.9985,431.59,297.76)" class="lt">C</text>
<text transform="matrix(0.9321,0,0,1.3948,432.07,290.79)" class="lo">A</text>
<text transform="matrix(1.0919,0,0,2.7318,431.85,281.19)" class="lo">T</text>
<text transform="matrix(0.9763,0,0,0.7301,437.87,306.13)" class="lt">C</text>
<text transform="matrix(0.9464,0,0,1.0365,437.90,300.93)" class="lt">G</text>
<text transform="matrix(0.9321,0,0,1.6145,438.35,293.70)" class="lo">A</text>
<text transform="matrix(1.0919,0,0,2.9343,438.13,282.59)" class="lo">T</text>
<text transform="matrix(0.9763,0,0,0.9842,444.15,306.10)" class="lt">C</text>
<text transform="matrix(0.9464,0,0,1.0171,444.18,299.13)" class="lt">G</text>
<text transform="matrix(0.9321,0,0,1.6193,444.63,292.04)" class="lo">A</text>
<text transform="matrix(1.0919,0,0,2.6882,444.41,280.89)" class="lo">T</text>
<text transform="matrix(0.9763,0,0,0.9649,450.43,306.11)" class="lt">C</text>
<text transform="matrix(0.9464,0,0,1.0163,450.46,299.27)" class="lt">G</text>
<text transform="matrix(0.9321,0,0,1.3900,450.91,292.18)" class="lo">A</text>
<text transform="matrix(1.0919,0,0,2.9382,450.69,282.61)" class="lo">T</text>
<text transform="matrix(0.9763,0,0,0.9159,456.71,306.11)" class="lt">C</text>
<text transform="matrix(0.9464,0,0,0.9259,456.74,299.63)" class="lt">G</text>
<text transform="matrix(0.9321,0,0,1.5999,457.19,293.16)" class="lo">A</text>
<text transform="matrix(1.0919,0,0,2.8716,456.97,282.16)" class="lo">T</text>
<text transform="matrix(0.9763,0,0,0.8911,462.99,306.11)" class="lt">C</text>
<text transform="matrix(0.9464,0,0,1.0911,463.02,299.79)" class="lt">G</text>
<text transform="matrix(0.9321,0,0,1.3731,463.47,292.17)" class="lo">A</text>
<text transform="matrix(1.0919,0,0,2.9539,463.25,282.72)" class="lo">T</text>
<text transform="matrix(0.9763,0,0,1.2065,469.27,306.08)" class="lt">C</text>
<text transform="matrix(0.9464,0,0,0.9931,469.30,297.56)" class="lt">G</text>
<text transform="matrix(0.9321,0,0,1.4107,469.75,290.63)" class="lo">A</text>
<text transform="matrix(1.0919,0,0,2.6926,469.53,280.93)" class="lo">T</text>
<text transform="matrix(0.9763,0,0,0.9607,475.55,306.11)" class="lt">C</text>
<text transform="matrix(0.9464,0,0,1.0252,475.58,299.30)" class="lt">G</text>
<text transform="matrix(0.9321,0,0,1.3250,476.03,292.14)" class="lo">A</text>
<text transform="matrix(1.0919,0,0,2.9982,475.81,283.03)" class="lo">T</text>
<text transform="matrix(0.9763,0,0,1.0826,481.83,306.09)" class="lt">C</text>
<text transform="matrix(0.9464,0,0,1.0299,481.86,298.44)" class="lt">G</text>
<text transform="matrix(1.0919,0,0,1.4128,482.09,291.25)" class="lo">T</text>
<text transform="matrix(0.9321,0,0,2.7802,482.31,281.53)" class="lo">A</text>
<text transform="matrix(0.9763,0,0,0.5039,488.11,306.15)" class="lt">C</text>
<text transform="matrix(0.9464,0,0,1.1635,488.14,302.52)" class="lt">G</text>
<text transform="matrix(0.9321,0,0,1.4888,488.59,294.40)" class="lo">A</text>
<text transform="matrix(1.0919,0,0,3.1621,488.37,284.16)" class="lo">T</text>
<rect x="140.8" y="130.9" width="19.8" height="186.0" fill="none" stroke="#111" stroke-width="1.3" stroke-dasharray="1.6,1.7"/>
<rect x="388.2" y="130.9" width="19.6" height="186.0" fill="none" stroke="#111" stroke-width="1.3" stroke-dasharray="1.6,1.7"/>
<text x="46.90" y="365.30" font-size="8.3" fill="#444" text-anchor="end">0</text>
<text x="46.90" y="389.77" font-size="8.3" fill="#444" text-anchor="end">−25</text>
<text x="46.90" y="414.25" font-size="8.3" fill="#444" text-anchor="end">−50</text>
<text x="46.90" y="438.73" font-size="8.3" fill="#444" text-anchor="end">−75</text>
<text x="46.90" y="463.20" font-size="8.3" fill="#444" text-anchor="end">−100</text>
<text x="24.20" y="406.00" font-size="8.4" fill="#222" text-anchor="middle" transform="rotate(-90 24.20 406.00)">Minimum free energy (kcal/mol)</text>
<text x="151.65" y="486.50" font-size="8.7" font-weight="bold" fill="#111" text-anchor="middle">hADAR1</text>
<text x="293.40" y="365.30" font-size="8.3" fill="#444" text-anchor="end">0</text>
<text x="293.40" y="389.77" font-size="8.3" fill="#444" text-anchor="end">−25</text>
<text x="293.40" y="414.25" font-size="8.3" fill="#444" text-anchor="end">−50</text>
<text x="293.40" y="438.73" font-size="8.3" fill="#444" text-anchor="end">−75</text>
<text x="293.40" y="463.20" font-size="8.3" fill="#444" text-anchor="end">−100</text>
<text x="272.50" y="406.00" font-size="8.4" fill="#222" text-anchor="middle" transform="rotate(-90 272.50 406.00)">Minimum free energy (kcal/mol)</text>
<text x="398.25" y="486.50" font-size="8.7" font-weight="bold" fill="#111" text-anchor="middle">hADAR2</text>
<text x="89.40" y="475.90" font-size="8.2" fill="#222" text-anchor="middle">20 °C</text>
<text x="150.90" y="475.90" font-size="8.2" fill="#222" text-anchor="middle">30 °C</text>
<text x="212.40" y="475.90" font-size="8.2" fill="#222" text-anchor="middle">35 °C</text>
<text x="335.80" y="475.90" font-size="8.2" fill="#222" text-anchor="middle">20 °C</text>
<text x="397.10" y="475.90" font-size="8.2" fill="#222" text-anchor="middle">30 °C</text>
<text x="458.50" y="475.90" font-size="8.2" fill="#222" text-anchor="middle">35 °C</text>
<text x="120.50" y="371.00" font-size="9.6" font-weight="bold" fill="#222" text-anchor="middle" letter-spacing="0.6">***</text>
<text x="181.50" y="362.80" font-size="9.6" font-weight="bold" fill="#222" text-anchor="middle" letter-spacing="0.6">***</text>
<text x="152.15" y="357.00" font-size="9.6" font-weight="bold" fill="#222" text-anchor="middle" letter-spacing="0.6">***</text>
<text x="367.05" y="371.00" font-size="9.6" font-weight="bold" fill="#222" text-anchor="middle" letter-spacing="0.6">***</text>
<text x="428.10" y="362.80" font-size="9.6" font-weight="bold" fill="#222" text-anchor="middle" letter-spacing="0.6">***</text>
<text x="398.55" y="357.00" font-size="9.6" font-weight="bold" fill="#222" text-anchor="middle" letter-spacing="0.6">***</text>
<line x1="49.6" y1="362.30" x2="52.1" y2="362.30" stroke="#333" stroke-width="1"/>
<line x1="49.6" y1="386.77" x2="52.1" y2="386.77" stroke="#333" stroke-width="1"/>
<line x1="49.6" y1="411.25" x2="52.1" y2="411.25" stroke="#333" stroke-width="1"/>
<line x1="49.6" y1="435.73" x2="52.1" y2="435.73" stroke="#333" stroke-width="1"/>
<line x1="49.6" y1="460.20" x2="52.1" y2="460.20" stroke="#333" stroke-width="1"/>
<line x1="296.1" y1="362.30" x2="298.6" y2="362.30" stroke="#333" stroke-width="1"/>
<line x1="296.1" y1="386.77" x2="298.6" y2="386.77" stroke="#333" stroke-width="1"/>
<line x1="296.1" y1="411.25" x2="298.6" y2="411.25" stroke="#333" stroke-width="1"/>
<line x1="296.1" y1="435.73" x2="298.6" y2="435.73" stroke="#333" stroke-width="1"/>
<line x1="296.1" y1="460.20" x2="298.6" y2="460.20" stroke="#333" stroke-width="1"/>
<line x1="88.9" y1="373.7" x2="88.9" y2="437.8" stroke="#bdbdbd" stroke-width="2.2"/>
<path d="M88.90,386.80 C89.27,387.17 89.93,388.08 91.10,389.00 C92.27,389.92 93.82,390.85 95.90,392.30 C97.98,393.75 101.60,396.08 103.60,397.70 C105.60,399.32 106.77,400.55 107.90,402.00 C109.03,403.45 110.25,404.93 110.40,406.40 C110.55,407.87 109.88,409.33 108.80,410.80 C107.72,412.27 105.55,413.75 103.90,415.20 C102.25,416.65 100.48,418.05 98.90,419.50 C97.32,420.95 95.62,422.43 94.40,423.90 C93.18,425.37 92.33,426.85 91.60,428.30 C90.87,429.75 90.45,431.52 90.00,432.60 C89.55,433.68 89.08,434.43 88.90,434.80 L88.90,434.80 C88.72,434.43 88.25,433.68 87.80,432.60 C87.35,431.52 86.93,429.75 86.20,428.30 C85.47,426.85 84.62,425.37 83.40,423.90 C82.18,422.43 80.48,420.95 78.90,419.50 C77.32,418.05 75.55,416.65 73.90,415.20 C72.25,413.75 70.08,412.27 69.00,410.80 C67.92,409.33 67.25,407.87 67.40,406.40 C67.55,404.93 68.77,403.45 69.90,402.00 C71.03,400.55 72.20,399.32 74.20,397.70 C76.20,396.08 79.82,393.75 81.90,392.30 C83.98,390.85 85.53,389.92 86.70,389.00 C87.87,388.08 88.53,387.17 88.90,386.80 Z" fill="#F0716A" stroke="#222" stroke-width="1.1" stroke-linejoin="round"/>
<line x1="88.9" y1="381.4" x2="88.9" y2="435.5" stroke="#1a1a1a" stroke-width="1.1"/>
<rect x="85.3" y="401.5" width="7.200000000000003" height="13.100000000000023" fill="#F0716A" stroke="#1a1a1a" stroke-width="1.1"/>
<line x1="85.3" y1="407.7" x2="92.5" y2="407.7" stroke="#1a1a1a" stroke-width="1.5"/>
<line x1="150.4" y1="376" x2="150.4" y2="423" stroke="#bdbdbd" stroke-width="2.2"/>
<path d="M150.40,376.50 C150.98,376.92 152.57,378.08 153.90,379.00 C155.23,379.92 156.82,381.00 158.40,382.00 C159.98,383.00 161.65,384.00 163.40,385.00 C165.15,386.00 167.07,387.00 168.90,388.00 C170.73,389.00 172.98,389.93 174.40,391.00 C175.82,392.07 177.15,393.32 177.40,394.40 C177.65,395.48 176.83,396.57 175.90,397.50 C174.97,398.43 173.22,399.17 171.80,400.00 C170.38,400.83 168.88,401.67 167.40,402.50 C165.92,403.33 164.40,404.08 162.90,405.00 C161.40,405.92 159.72,407.00 158.40,408.00 C157.08,409.00 155.90,409.83 155.00,411.00 C154.10,412.17 153.77,413.75 153.00,415.00 C152.23,416.25 150.83,417.92 150.40,418.50 L150.40,418.50 C149.97,417.92 148.57,416.25 147.80,415.00 C147.03,413.75 146.70,412.17 145.80,411.00 C144.90,409.83 143.72,409.00 142.40,408.00 C141.08,407.00 139.40,405.92 137.90,405.00 C136.40,404.08 134.88,403.33 133.40,402.50 C131.92,401.67 130.42,400.83 129.00,400.00 C127.58,399.17 125.83,398.43 124.90,397.50 C123.97,396.57 123.15,395.48 123.40,394.40 C123.65,393.32 124.98,392.07 126.40,391.00 C127.82,389.93 130.07,389.00 131.90,388.00 C133.73,387.00 135.65,386.00 137.40,385.00 C139.15,384.00 140.82,383.00 142.40,382.00 C143.98,381.00 145.57,379.92 146.90,379.00 C148.23,378.08 149.82,376.92 150.40,376.50 Z" fill="#B09A1E" stroke="#222" stroke-width="1.1" stroke-linejoin="round"/>
<line x1="150.4" y1="376.5" x2="150.4" y2="420" stroke="#1a1a1a" stroke-width="1.1"/>
<rect x="147.0" y="390.5" width="6.599999999999994" height="10.899999999999977" fill="#B09A1E" stroke="#1a1a1a" stroke-width="1.1"/>
<line x1="147.0" y1="395.9" x2="153.6" y2="395.9" stroke="#1a1a1a" stroke-width="1.5"/>
<line x1="211.9" y1="367.9" x2="211.9" y2="417.5" stroke="#bdbdbd" stroke-width="2.2"/>
<path d="M211.90,375.50 C212.48,375.83 213.73,376.75 215.40,377.50 C217.07,378.25 219.90,379.17 221.90,380.00 C223.90,380.83 225.67,381.67 227.40,382.50 C229.13,383.33 230.72,384.17 232.30,385.00 C233.88,385.83 235.63,386.63 236.90,387.50 C238.17,388.37 239.65,389.37 239.90,390.20 C240.15,391.03 239.07,391.70 238.40,392.50 C237.73,393.30 236.90,394.17 235.90,395.00 C234.90,395.83 233.65,396.67 232.40,397.50 C231.15,398.33 229.77,399.17 228.40,400.00 C227.03,400.83 225.57,401.67 224.20,402.50 C222.83,403.33 221.42,404.08 220.20,405.00 C218.98,405.92 217.75,407.17 216.90,408.00 C216.05,408.83 215.93,409.37 215.10,410.00 C214.27,410.63 212.43,411.50 211.90,411.80 L211.90,411.80 C211.37,411.50 209.53,410.63 208.70,410.00 C207.87,409.37 207.75,408.83 206.90,408.00 C206.05,407.17 204.82,405.92 203.60,405.00 C202.38,404.08 200.97,403.33 199.60,402.50 C198.23,401.67 196.77,400.83 195.40,400.00 C194.03,399.17 192.65,398.33 191.40,397.50 C190.15,396.67 188.90,395.83 187.90,395.00 C186.90,394.17 186.07,393.30 185.40,392.50 C184.73,391.70 183.65,391.03 183.90,390.20 C184.15,389.37 185.63,388.37 186.90,387.50 C188.17,386.63 189.92,385.83 191.50,385.00 C193.08,384.17 194.67,383.33 196.40,382.50 C198.13,381.67 199.90,380.83 201.90,380.00 C203.90,379.17 206.73,378.25 208.40,377.50 C210.07,376.75 211.32,375.83 211.90,375.50 Z" fill="#2BB03D" stroke="#222" stroke-width="1.1" stroke-linejoin="round"/>
<line x1="211.9" y1="372.4" x2="211.9" y2="412.5" stroke="#1a1a1a" stroke-width="1.1"/>
<rect x="208.3" y="386.4" width="7.199999999999989" height="10.800000000000011" fill="#2BB03D" stroke="#1a1a1a" stroke-width="1.1"/>
<line x1="208.3" y1="391.8" x2="215.5" y2="391.8" stroke="#1a1a1a" stroke-width="1.5"/>
<line x1="335.3" y1="377.1" x2="335.3" y2="449.6" stroke="#bdbdbd" stroke-width="2.2"/>
<path d="M335.30,386.60 C335.80,387.00 337.30,388.10 338.30,389.00 C339.30,389.90 340.17,391.00 341.30,392.00 C342.43,393.00 343.60,394.00 345.10,395.00 C346.60,396.00 348.80,397.17 350.30,398.00 C351.80,398.83 352.68,399.08 354.10,400.00 C355.52,400.92 357.60,402.33 358.80,403.50 C360.00,404.67 361.22,405.92 361.30,407.00 C361.38,408.08 360.13,409.17 359.30,410.00 C358.47,410.83 357.55,411.17 356.30,412.00 C355.05,412.83 353.23,414.00 351.80,415.00 C350.37,416.00 349.07,417.00 347.70,418.00 C346.33,419.00 344.87,420.00 343.60,421.00 C342.33,422.00 341.12,423.00 340.10,424.00 C339.08,425.00 338.30,426.00 337.50,427.00 C336.70,428.00 335.67,429.50 335.30,430.00 L335.30,430.00 C334.93,429.50 333.90,428.00 333.10,427.00 C332.30,426.00 331.52,425.00 330.50,424.00 C329.48,423.00 328.27,422.00 327.00,421.00 C325.73,420.00 324.27,419.00 322.90,418.00 C321.53,417.00 320.23,416.00 318.80,415.00 C317.37,414.00 315.55,412.83 314.30,412.00 C313.05,411.17 312.13,410.83 311.30,410.00 C310.47,409.17 309.22,408.08 309.30,407.00 C309.38,405.92 310.60,404.67 311.80,403.50 C313.00,402.33 315.08,400.92 316.50,400.00 C317.92,399.08 318.80,398.83 320.30,398.00 C321.80,397.17 324.00,396.00 325.50,395.00 C327.00,394.00 328.17,393.00 329.30,392.00 C330.43,391.00 331.30,389.90 332.30,389.00 C333.30,388.10 334.80,387.00 335.30,386.60 Z" fill="#20B0B4" stroke="#222" stroke-width="1.1" stroke-linejoin="round"/>
<line x1="335.3" y1="384" x2="335.3" y2="432" stroke="#1a1a1a" stroke-width="1.1"/>
<rect x="331.8" y="402.8" width="6.599999999999966" height="11.199999999999989" fill="#20B0B4" stroke="#1a1a1a" stroke-width="1.1"/>
<line x1="331.8" y1="407.6" x2="338.4" y2="407.6" stroke="#1a1a1a" stroke-width="1.5"/>
<line x1="396.6" y1="372" x2="396.6" y2="426" stroke="#bdbdbd" stroke-width="2.2"/>
<path d="M396.60,374.60 C397.02,375.00 398.18,376.10 399.10,377.00 C400.02,377.90 401.10,379.00 402.10,380.00 C403.10,381.00 404.18,382.17 405.10,383.00 C406.02,383.83 406.43,384.25 407.60,385.00 C408.77,385.75 410.50,386.67 412.10,387.50 C413.70,388.33 415.70,389.17 417.20,390.00 C418.70,390.83 420.08,391.67 421.10,392.50 C422.12,393.33 423.30,394.17 423.30,395.00 C423.30,395.83 422.12,396.67 421.10,397.50 C420.08,398.33 418.53,399.17 417.20,400.00 C415.87,400.83 414.37,401.67 413.10,402.50 C411.83,403.33 410.52,404.08 409.60,405.00 C408.68,405.92 408.33,407.17 407.60,408.00 C406.87,408.83 405.93,409.33 405.20,410.00 C404.47,410.67 403.97,411.25 403.20,412.00 C402.43,412.75 401.37,413.67 400.60,414.50 C399.83,415.33 399.27,416.12 398.60,417.00 C397.93,417.88 396.93,419.33 396.60,419.80 L396.60,419.80 C396.27,419.33 395.27,417.88 394.60,417.00 C393.93,416.12 393.37,415.33 392.60,414.50 C391.83,413.67 390.77,412.75 390.00,412.00 C389.23,411.25 388.73,410.67 388.00,410.00 C387.27,409.33 386.33,408.83 385.60,408.00 C384.87,407.17 384.52,405.92 383.60,405.00 C382.68,404.08 381.37,403.33 380.10,402.50 C378.83,401.67 377.33,400.83 376.00,400.00 C374.67,399.17 373.12,398.33 372.10,397.50 C371.08,396.67 369.90,395.83 369.90,395.00 C369.90,394.17 371.08,393.33 372.10,392.50 C373.12,391.67 374.50,390.83 376.00,390.00 C377.50,389.17 379.50,388.33 381.10,387.50 C382.70,386.67 384.43,385.75 385.60,385.00 C386.77,384.25 387.18,383.83 388.10,383.00 C389.02,382.17 390.10,381.00 391.10,380.00 C392.10,379.00 393.18,377.90 394.10,377.00 C395.02,376.10 396.18,375.00 396.60,374.60 Z" fill="#6890C8" stroke="#222" stroke-width="1.1" stroke-linejoin="round"/>
<line x1="396.6" y1="374.6" x2="396.6" y2="425.5" stroke="#1a1a1a" stroke-width="1.1"/>
<rect x="393.2" y="392.5" width="7.0" height="10.800000000000011" fill="#6890C8" stroke="#1a1a1a" stroke-width="1.1"/>
<line x1="393.2" y1="396.9" x2="400.2" y2="396.9" stroke="#1a1a1a" stroke-width="1.5"/>
<line x1="458.0" y1="364" x2="458.0" y2="422" stroke="#bdbdbd" stroke-width="2.2"/>
<path d="M458.00,375.50 C458.58,375.83 460.00,376.75 461.50,377.50 C463.00,378.25 465.17,379.17 467.00,380.00 C468.83,380.83 470.72,381.67 472.50,382.50 C474.28,383.33 476.12,384.17 477.70,385.00 C479.28,385.83 480.78,386.63 482.00,387.50 C483.22,388.37 484.67,389.37 485.00,390.20 C485.33,391.03 484.67,391.70 484.00,392.50 C483.33,393.30 482.17,394.17 481.00,395.00 C479.83,395.83 478.40,396.67 477.00,397.50 C475.60,398.33 474.00,399.17 472.60,400.00 C471.20,400.83 469.87,401.67 468.60,402.50 C467.33,403.33 466.07,404.08 465.00,405.00 C463.93,405.92 462.95,407.17 462.20,408.00 C461.45,408.83 461.20,409.17 460.50,410.00 C459.80,410.83 458.42,412.50 458.00,413.00 L458.00,413.00 C457.58,412.50 456.20,410.83 455.50,410.00 C454.80,409.17 454.55,408.83 453.80,408.00 C453.05,407.17 452.07,405.92 451.00,405.00 C449.93,404.08 448.67,403.33 447.40,402.50 C446.13,401.67 444.80,400.83 443.40,400.00 C442.00,399.17 440.40,398.33 439.00,397.50 C437.60,396.67 436.17,395.83 435.00,395.00 C433.83,394.17 432.67,393.30 432.00,392.50 C431.33,391.70 430.67,391.03 431.00,390.20 C431.33,389.37 432.78,388.37 434.00,387.50 C435.22,386.63 436.72,385.83 438.30,385.00 C439.88,384.17 441.72,383.33 443.50,382.50 C445.28,381.67 447.17,380.83 449.00,380.00 C450.83,379.17 453.00,378.25 454.50,377.50 C456.00,376.75 457.42,375.83 458.00,375.50 Z" fill="#C868B0" stroke="#222" stroke-width="1.1" stroke-linejoin="round"/>
<line x1="458.0" y1="368.5" x2="458.0" y2="414" stroke="#1a1a1a" stroke-width="1.1"/>
<rect x="454.6" y="388.0" width="6.7999999999999545" height="10.199999999999989" fill="#C868B0" stroke="#1a1a1a" stroke-width="1.1"/>
<line x1="454.6" y1="392.7" x2="461.4" y2="392.7" stroke="#1a1a1a" stroke-width="1.5"/>
<rect x="52.1" y="346.8" width="196.1" height="119" fill="none" stroke="#555" stroke-width="1.1"/>
<rect x="298.6" y="346.8" width="196.3" height="119" fill="none" stroke="#555" stroke-width="1.1"/>
<line x1="88.9" y1="466.3" x2="88.9" y2="468.8" stroke="#333" stroke-width="1"/>
<line x1="150.4" y1="466.3" x2="150.4" y2="468.8" stroke="#333" stroke-width="1"/>
<line x1="211.9" y1="466.3" x2="211.9" y2="468.8" stroke="#333" stroke-width="1"/>
<line x1="335.3" y1="466.3" x2="335.3" y2="468.8" stroke="#333" stroke-width="1"/>
<line x1="396.6" y1="466.3" x2="396.6" y2="468.8" stroke="#333" stroke-width="1"/>
<line x1="458.0" y1="466.3" x2="458.0" y2="468.8" stroke="#333" stroke-width="1"/>
<path d="M90.2,371.7 L90.2,369.4 L150.0,369.4 L150.0,371.7" fill="none" stroke="#444" stroke-width="1"/>
<path d="M150.9,362.90000000000003 L150.9,360.6 L211.3,360.6 L211.3,362.90000000000003" fill="none" stroke="#444" stroke-width="1"/>
<path d="M92.0,356.90000000000003 L92.0,354.6 L211.5,354.6 L211.5,356.90000000000003" fill="none" stroke="#444" stroke-width="1"/>
<path d="M336.5,371.6 L336.5,369.3 L396.8,369.3 L396.8,371.6" fill="none" stroke="#444" stroke-width="1"/>
<path d="M397.6,363.1 L397.6,360.8 L457.8,360.8 L457.8,363.1" fill="none" stroke="#444" stroke-width="1"/>
<path d="M338.5,356.90000000000003 L338.5,354.6 L457.8,354.6 L457.8,356.90000000000003" fill="none" stroke="#444" stroke-width="1"/>
<text x="68.00" y="613.50" font-size="9.0" font-weight="bold" fill="#222" text-anchor="start">non edit (0%)</text>
<text x="54.50" y="644.70" font-size="8.8" font-weight="bold" fill="#333" text-anchor="start">hADAR1 (20 °C)</text>
<text x="243.00" y="613.60" font-size="9.0" font-weight="bold" fill="#222" text-anchor="start">non edit (0%)</text>
<text x="233.50" y="644.70" font-size="8.8" font-weight="bold" fill="#333" text-anchor="start">hADAR1 (30 °C)</text>
<text x="430.40" y="631.10" font-size="8.9" font-weight="bold" fill="#111" text-anchor="start">edited</text>
<text x="458.70" y="631.10" font-size="8.1" font-weight="bold" fill="#3a3a3a" text-anchor="start">(25%)</text>
<text x="423.00" y="644.50" font-size="8.8" font-weight="bold" fill="#333" text-anchor="start">hADAR1 (35 °C)</text>
<text x="64.70" y="747.60" font-size="8.9" font-weight="bold" fill="#111" text-anchor="start">edited</text>
<text x="93.00" y="747.60" font-size="8.1" font-weight="bold" fill="#3a3a3a" text-anchor="start">(44%)</text>
<text x="54.50" y="774.80" font-size="8.8" font-weight="bold" fill="#333" text-anchor="start">hADAR2 (20 °C)</text>
<text x="220.00" y="747.70" font-size="9.0" font-weight="bold" fill="#222" text-anchor="start">non edit (0%)</text>
<text x="234.70" y="774.80" font-size="8.8" font-weight="bold" fill="#333" text-anchor="start">hADAR2 (30 °C)</text>
<text x="399.00" y="747.60" font-size="9.0" font-weight="bold" fill="#222" text-anchor="start">non edit (0%)</text>
<text x="419.80" y="774.20" font-size="8.8" font-weight="bold" fill="#333" text-anchor="start">hADAR2 (35 °C)</text>
<text x="485.90" y="657.00" font-size="7.5" font-weight="bold" fill="#333" text-anchor="middle">0</text>
<text x="524.80" y="657.00" font-size="7.5" font-weight="bold" fill="#333" text-anchor="middle">1</text>
<text x="504.80" y="670.90" font-size="7.95" fill="#333" text-anchor="middle">Base-pair probabilities</text>
<path d="M35.2 503.2L33.8 505.7M33.8 505.7L30.8 505.7M30.8 505.7L29.4 503.2M29.4 503.2L30.8 500.7M30.8 500.7L33.8 500.7M33.8 500.7L35.2 503.2M32.9 507.5L35.9 504.3M34.9 509.3L37.9 506.0M32.9 507.5L34.9 509.3M35.9 504.3L37.9 506.0M36.9 511.1L39.9 507.8M34.9 509.3L36.9 511.1M37.9 506.0L39.9 507.8M38.9 512.8L41.9 509.6M36.9 511.1L38.9 512.8M39.9 507.8L41.9 509.6M51.7 515.5L51.0 518.5M51.0 518.5L48.9 520.8M48.9 520.8L46.0 522.0M46.0 522.0L42.9 521.6M42.9 521.6L40.3 519.8M40.3 519.8L38.9 517.1M38.9 517.1L38.9 513.9M38.9 513.9L40.3 511.2M40.3 511.2L42.9 509.4M42.9 509.4L46.0 509.0M46.0 509.0L48.9 510.2M48.9 510.2L51.0 512.5M51.0 512.5L51.7 515.5M48.3 522.4L51.5 519.4M50.7 525.0L53.9 522.0M48.3 522.4L50.7 525.0M51.5 519.4L53.9 522.0M60.9 528.2L59.6 531.2M59.6 531.2L56.6 532.5M56.6 532.5L53.6 531.2M53.6 531.2L52.3 528.2M52.3 528.2L53.6 525.2M53.6 525.2L56.6 523.9M56.6 523.9L59.6 525.2M59.6 525.2L60.9 528.2M58.6 534.5L61.4 531.1M61.2 536.6L64.0 533.2M58.6 534.5L61.2 536.6M61.4 531.1L64.0 533.2M63.7 538.7L66.5 535.3M61.2 536.6L63.7 538.7M64.0 533.2L66.5 535.3M66.3 540.9L69.1 537.5M63.7 538.7L66.3 540.9M66.5 535.3L69.1 537.5M68.8 543.0L71.6 539.6M66.3 540.9L68.8 543.0M69.1 537.5L71.6 539.6M71.4 545.1L74.2 541.7M68.8 543.0L71.4 545.1M71.6 539.6L74.2 541.7M71.0 536.5L72.4 533.5M72.4 533.5L73.9 530.6M68.5 552.8L65.3 553.4M65.3 553.4L62.3 551.9M62.3 551.9L61.0 548.9M61.0 548.9L61.9 545.7M61.9 545.7L64.5 543.7M64.5 543.7L67.8 543.8M67.8 543.8L70.3 546.0M79.3 549.0L77.7 545.0M82.2 547.9L80.5 543.8M79.3 549.0L82.2 547.9M77.7 545.0L80.5 543.8M85.0 546.7L83.3 542.7M82.2 547.9L85.0 546.7M80.5 543.8L83.3 542.7M87.8 545.6L86.1 541.5M85.0 546.7L87.8 545.6M83.3 542.7L86.1 541.5M90.6 544.4L89.0 540.4M87.8 545.6L90.6 544.4M86.1 541.5L89.0 540.4M80.1 528.4L83.9 529.6M83.9 529.6L87.1 532.2M87.1 532.2L89.0 536.0M89.0 536.0L89.5 539.0M109.8 541.8L109.2 545.0M109.2 545.0L107.6 547.8M107.6 547.8L105.1 549.9M105.1 549.9L102.0 551.1M102.0 551.1L98.8 551.1M98.8 551.1L95.7 549.9M95.7 549.9L93.2 547.8M93.2 547.8L91.6 545.0M91.6 545.0L91.0 541.8M91.0 541.8L91.6 538.6M91.6 538.6L93.2 535.8M93.2 535.8L95.7 533.7M95.7 533.7L98.8 532.5M98.8 532.5L102.0 532.5M102.0 532.5L105.1 533.7M105.1 533.7L107.6 535.8M107.6 535.8L109.2 538.6M109.2 538.6L109.8 541.8M110.6 541.9L109.4 537.7M112.8 541.3L111.6 537.1M110.6 541.9L112.8 541.3M109.4 537.7L111.6 537.1M122.6 538.0L121.6 541.0M121.6 541.0L119.1 542.9M119.1 542.9L115.9 542.9M115.9 542.9L113.4 541.0M113.4 541.0L112.4 538.0M112.4 538.0L113.4 535.0M113.4 535.0L115.9 533.1M115.9 533.1L119.1 533.1M119.1 533.1L121.6 535.0M121.6 535.0L122.6 538.0M123.2 539.2L122.4 534.8M126.2 538.6L125.3 534.2M123.2 539.2L126.2 538.6M122.4 534.8L125.3 534.2M129.1 538.0L128.2 533.6M126.2 538.6L129.1 538.0M125.3 534.2L128.2 533.6M132.0 537.4L131.1 533.0M129.1 538.0L132.0 537.4M128.2 533.6L131.1 533.0M134.9 536.8L134.0 532.4M132.0 537.4L134.9 536.8M131.1 533.0L134.0 532.4M137.8 536.2L137.0 531.8M134.9 536.8L137.8 536.2M134.0 532.4L137.0 531.8M160.3 532.6L159.8 535.8M159.8 535.8L158.5 538.7M158.5 538.7L156.4 541.1M156.4 541.1L153.7 542.9M153.7 542.9L150.6 543.8M150.6 543.8L147.4 543.8M147.4 543.8L144.3 542.9M144.3 542.9L141.6 541.1M141.6 541.1L139.5 538.7M139.5 538.7L138.2 535.8M138.2 535.8L137.7 532.6M137.7 532.6L138.2 529.4M138.2 529.4L139.5 526.5M139.5 526.5L141.6 524.1M141.6 524.1L144.3 522.3M144.3 522.3L147.4 521.4M147.4 521.4L150.6 521.4M150.6 521.4L153.7 522.3M153.7 522.3L156.4 524.1M156.4 524.1L158.5 526.5M158.5 526.5L159.8 529.4M159.8 529.4L160.3 532.6M160.8 532.4L160.0 528.0M163.8 531.9L163.0 527.5M160.8 532.4L163.8 531.9M160.0 528.0L163.0 527.5M166.8 531.4L166.0 527.0M163.8 531.9L166.8 531.4M163.0 527.5L166.0 527.0M169.8 530.9L169.0 526.5M166.8 531.4L169.8 530.9M166.0 527.0L169.0 526.5M172.8 530.4L172.0 526.0M169.8 530.9L172.8 530.4M169.0 526.5L172.0 526.0M183.2 527.7L182.2 530.8M182.2 530.8L179.5 532.7M179.5 532.7L176.3 532.7M176.3 532.7L173.6 530.8M173.6 530.8L172.6 527.7M172.6 527.7L173.6 524.6M173.6 524.6L176.3 522.7M176.3 522.7L179.5 522.7M179.5 522.7L182.2 524.6M182.2 524.6L183.2 527.7M74.7 556.4L73.4 559.1M73.4 559.1L70.5 559.7M70.5 559.7L68.2 557.9M68.2 557.9L68.2 554.9M68.2 554.9L70.5 553.1M70.5 553.1L73.4 553.7M73.4 553.7L74.7 556.4M67.7 558.9L71.5 561.1M65.9 562.0L69.8 564.1M67.7 558.9L65.9 562.0M71.5 561.1L69.8 564.1M64.2 565.0L68.0 567.2M65.9 562.0L64.2 565.0M69.8 564.1L68.0 567.2M62.4 568.1L66.3 570.2M64.2 565.0L62.4 568.1M68.0 567.2L66.3 570.2M60.7 571.1L64.5 573.3M62.4 568.1L60.7 571.1M66.3 570.2L64.5 573.3M64.4 576.0L63.2 578.8M63.2 578.8L60.4 580.0M60.4 580.0L57.6 578.8M57.6 578.8L56.4 576.0M56.4 576.0L57.6 573.2M57.6 573.2L60.4 572.0M60.4 572.0L63.2 573.2M63.2 573.2L64.4 576.0M61.6 584.6L60.7 587.5M60.7 587.5L58.4 589.5M58.4 589.5L55.4 589.9M55.4 589.9L52.7 588.7M52.7 588.7L51.0 586.1M51.0 586.1L51.0 583.1M51.0 583.1L52.7 580.5M52.7 580.5L55.4 579.3M55.4 579.3L58.4 579.7M58.4 579.7L60.7 581.7M60.7 581.7L61.6 584.6M55.5 592.4L54.1 594.9M54.1 594.9L51.2 594.9M51.2 594.9L49.7 592.4M49.7 592.4L51.1 589.9M51.1 589.9L54.1 589.9M54.1 589.9L55.5 592.4M54.2 597.2L52.4 599.7M52.4 599.7L49.5 598.7M49.5 598.7L49.5 595.7M49.5 595.7L52.4 594.7M52.4 594.7L54.2 597.2M48.1 599.5L52.3 601.1M47.1 602.3L51.2 603.9M48.1 599.5L47.1 602.3M52.3 601.1L51.2 603.9M46.0 605.1L50.1 606.7M47.1 602.3L46.0 605.1M51.2 603.9L50.1 606.7M44.9 608.0L49.0 609.5M46.0 605.1L44.9 608.0M50.1 606.7L49.0 609.5M43.8 610.8L48.0 612.3M44.9 608.0L43.8 610.8M49.0 609.5L48.0 612.3M42.8 613.6L46.9 615.1M43.8 610.8L42.8 613.6M48.0 612.3L46.9 615.1M41.7 616.4L45.8 618.0M42.8 613.6L41.7 616.4M46.9 615.1L45.8 618.0M40.6 619.2L44.7 620.8M41.7 616.4L40.6 619.2M45.8 618.0L44.7 620.8M39.5 622.0L43.7 623.6M40.6 619.2L39.5 622.0M44.7 620.8L43.7 623.6M45.8 633.8L45.3 636.9M45.3 636.9L44.0 639.7M44.0 639.7L41.8 642.0M41.8 642.0L39.1 643.6M39.1 643.6L36.1 644.3M36.1 644.3L33.0 644.0M33.0 644.0L30.1 642.9M30.1 642.9L27.6 640.9M27.6 640.9L25.8 638.4M25.8 638.4L24.9 635.4M24.9 635.4L24.9 632.2M24.9 632.2L25.8 629.2M25.8 629.2L27.6 626.7M27.6 626.7L30.0 624.7M30.0 624.7L33.0 623.6M33.0 623.6L36.1 623.3M36.1 623.3L39.1 624.0M39.1 624.0L41.8 625.6M41.8 625.6L44.0 627.9M44.0 627.9L45.3 630.7M45.3 630.7L45.8 633.8" fill="none" stroke="#333" stroke-width="0.75" stroke-opacity="0.9"/>
<path d="M34.0 503.2a1.15 1.15 0 1 0 2.3 0a1.15 1.15 0 1 0 -2.3 0M32.6 505.7a1.15 1.15 0 1 0 2.3 0a1.15 1.15 0 1 0 -2.3 0M32.6 500.7a1.15 1.15 0 1 0 2.3 0a1.15 1.15 0 1 0 -2.3 0M38.7 507.8a1.15 1.15 0 1 0 2.3 0a1.15 1.15 0 1 0 -2.3 0M50.6 515.5a1.15 1.15 0 1 0 2.3 0a1.15 1.15 0 1 0 -2.3 0M47.7 520.8a1.15 1.15 0 1 0 2.3 0a1.15 1.15 0 1 0 -2.3 0M39.2 519.8a1.15 1.15 0 1 0 2.3 0a1.15 1.15 0 1 0 -2.3 0M39.2 511.2a1.15 1.15 0 1 0 2.3 0a1.15 1.15 0 1 0 -2.3 0M41.7 509.4a1.15 1.15 0 1 0 2.3 0a1.15 1.15 0 1 0 -2.3 0M47.7 510.2a1.15 1.15 0 1 0 2.3 0a1.15 1.15 0 1 0 -2.3 0M49.8 512.5a1.15 1.15 0 1 0 2.3 0a1.15 1.15 0 1 0 -2.3 0M47.1 522.4a1.15 1.15 0 1 0 2.3 0a1.15 1.15 0 1 0 -2.3 0M50.4 519.4a1.15 1.15 0 1 0 2.3 0a1.15 1.15 0 1 0 -2.3 0M49.5 525.0a1.15 1.15 0 1 0 2.3 0a1.15 1.15 0 1 0 -2.3 0M52.8 522.0a1.15 1.15 0 1 0 2.3 0a1.15 1.15 0 1 0 -2.3 0M59.8 528.2a1.15 1.15 0 1 0 2.3 0a1.15 1.15 0 1 0 -2.3 0M58.5 531.2a1.15 1.15 0 1 0 2.3 0a1.15 1.15 0 1 0 -2.3 0M55.5 532.5a1.15 1.15 0 1 0 2.3 0a1.15 1.15 0 1 0 -2.3 0M52.4 531.2a1.15 1.15 0 1 0 2.3 0a1.15 1.15 0 1 0 -2.3 0M51.2 528.2a1.15 1.15 0 1 0 2.3 0a1.15 1.15 0 1 0 -2.3 0M52.4 525.2a1.15 1.15 0 1 0 2.3 0a1.15 1.15 0 1 0 -2.3 0M55.5 523.9a1.15 1.15 0 1 0 2.3 0a1.15 1.15 0 1 0 -2.3 0M58.5 525.2a1.15 1.15 0 1 0 2.3 0a1.15 1.15 0 1 0 -2.3 0M60.3 531.1a1.15 1.15 0 1 0 2.3 0a1.15 1.15 0 1 0 -2.3 0M60.0 536.6a1.15 1.15 0 1 0 2.3 0a1.15 1.15 0 1 0 -2.3 0M62.8 533.2a1.15 1.15 0 1 0 2.3 0a1.15 1.15 0 1 0 -2.3 0M62.6 538.7a1.15 1.15 0 1 0 2.3 0a1.15 1.15 0 1 0 -2.3 0M65.4 535.3a1.15 1.15 0 1 0 2.3 0a1.15 1.15 0 1 0 -2.3 0M65.1 540.9a1.15 1.15 0 1 0 2.3 0a1.15 1.15 0 1 0 -2.3 0M67.9 537.5a1.15 1.15 0 1 0 2.3 0a1.15 1.15 0 1 0 -2.3 0M67.7 543.0a1.15 1.15 0 1 0 2.3 0a1.15 1.15 0 1 0 -2.3 0M70.2 545.1a1.15 1.15 0 1 0 2.3 0a1.15 1.15 0 1 0 -2.3 0M73.1 541.7a1.15 1.15 0 1 0 2.3 0a1.15 1.15 0 1 0 -2.3 0M69.8 536.5a1.15 1.15 0 1 0 2.3 0a1.15 1.15 0 1 0 -2.3 0M71.2 533.5a1.15 1.15 0 1 0 2.3 0a1.15 1.15 0 1 0 -2.3 0M67.3 552.8a1.15 1.15 0 1 0 2.3 0a1.15 1.15 0 1 0 -2.3 0M64.1 553.4a1.15 1.15 0 1 0 2.3 0a1.15 1.15 0 1 0 -2.3 0M61.2 551.9a1.15 1.15 0 1 0 2.3 0a1.15 1.15 0 1 0 -2.3 0M59.9 548.9a1.15 1.15 0 1 0 2.3 0a1.15 1.15 0 1 0 -2.3 0M60.7 545.7a1.15 1.15 0 1 0 2.3 0a1.15 1.15 0 1 0 -2.3 0M63.4 543.7a1.15 1.15 0 1 0 2.3 0a1.15 1.15 0 1 0 -2.3 0M69.2 546.0a1.15 1.15 0 1 0 2.3 0a1.15 1.15 0 1 0 -2.3 0M78.9 528.4a1.15 1.15 0 1 0 2.3 0a1.15 1.15 0 1 0 -2.3 0M82.8 529.6a1.15 1.15 0 1 0 2.3 0a1.15 1.15 0 1 0 -2.3 0M87.8 536.0a1.15 1.15 0 1 0 2.3 0a1.15 1.15 0 1 0 -2.3 0M88.3 539.0a1.15 1.15 0 1 0 2.3 0a1.15 1.15 0 1 0 -2.3 0M108.7 541.8a1.15 1.15 0 1 0 2.3 0a1.15 1.15 0 1 0 -2.3 0M108.1 545.0a1.15 1.15 0 1 0 2.3 0a1.15 1.15 0 1 0 -2.3 0M106.5 547.8a1.15 1.15 0 1 0 2.3 0a1.15 1.15 0 1 0 -2.3 0M104.0 549.9a1.15 1.15 0 1 0 2.3 0a1.15 1.15 0 1 0 -2.3 0M97.6 551.1a1.15 1.15 0 1 0 2.3 0a1.15 1.15 0 1 0 -2.3 0M94.5 549.9a1.15 1.15 0 1 0 2.3 0a1.15 1.15 0 1 0 -2.3 0M90.4 545.0a1.15 1.15 0 1 0 2.3 0a1.15 1.15 0 1 0 -2.3 0M90.4 538.6a1.15 1.15 0 1 0 2.3 0a1.15 1.15 0 1 0 -2.3 0M94.5 533.7a1.15 1.15 0 1 0 2.3 0a1.15 1.15 0 1 0 -2.3 0M97.6 532.5a1.15 1.15 0 1 0 2.3 0a1.15 1.15 0 1 0 -2.3 0M104.0 533.7a1.15 1.15 0 1 0 2.3 0a1.15 1.15 0 1 0 -2.3 0M106.5 535.8a1.15 1.15 0 1 0 2.3 0a1.15 1.15 0 1 0 -2.3 0M108.1 538.6a1.15 1.15 0 1 0 2.3 0a1.15 1.15 0 1 0 -2.3 0M109.4 541.9a1.15 1.15 0 1 0 2.3 0a1.15 1.15 0 1 0 -2.3 0M111.6 541.3a1.15 1.15 0 1 0 2.3 0a1.15 1.15 0 1 0 -2.3 0M110.5 537.1a1.15 1.15 0 1 0 2.3 0a1.15 1.15 0 1 0 -2.3 0M120.5 541.0a1.15 1.15 0 1 0 2.3 0a1.15 1.15 0 1 0 -2.3 0M112.2 541.0a1.15 1.15 0 1 0 2.3 0a1.15 1.15 0 1 0 -2.3 0M111.2 538.0a1.15 1.15 0 1 0 2.3 0a1.15 1.15 0 1 0 -2.3 0M112.2 535.0a1.15 1.15 0 1 0 2.3 0a1.15 1.15 0 1 0 -2.3 0M117.9 533.1a1.15 1.15 0 1 0 2.3 0a1.15 1.15 0 1 0 -2.3 0M122.1 539.2a1.15 1.15 0 1 0 2.3 0a1.15 1.15 0 1 0 -2.3 0M121.2 534.8a1.15 1.15 0 1 0 2.3 0a1.15 1.15 0 1 0 -2.3 0M125.0 538.6a1.15 1.15 0 1 0 2.3 0a1.15 1.15 0 1 0 -2.3 0M124.1 534.2a1.15 1.15 0 1 0 2.3 0a1.15 1.15 0 1 0 -2.3 0M130.0 533.0a1.15 1.15 0 1 0 2.3 0a1.15 1.15 0 1 0 -2.3 0M133.8 536.8a1.15 1.15 0 1 0 2.3 0a1.15 1.15 0 1 0 -2.3 0M136.7 536.2a1.15 1.15 0 1 0 2.3 0a1.15 1.15 0 1 0 -2.3 0M135.8 531.8a1.15 1.15 0 1 0 2.3 0a1.15 1.15 0 1 0 -2.3 0M159.2 532.6a1.15 1.15 0 1 0 2.3 0a1.15 1.15 0 1 0 -2.3 0M155.2 541.1a1.15 1.15 0 1 0 2.3 0a1.15 1.15 0 1 0 -2.3 0M152.5 542.9a1.15 1.15 0 1 0 2.3 0a1.15 1.15 0 1 0 -2.3 0M149.5 543.8a1.15 1.15 0 1 0 2.3 0a1.15 1.15 0 1 0 -2.3 0M146.2 543.8a1.15 1.15 0 1 0 2.3 0a1.15 1.15 0 1 0 -2.3 0M143.2 542.9a1.15 1.15 0 1 0 2.3 0a1.15 1.15 0 1 0 -2.3 0M138.3 538.7a1.15 1.15 0 1 0 2.3 0a1.15 1.15 0 1 0 -2.3 0M136.5 532.6a1.15 1.15 0 1 0 2.3 0a1.15 1.15 0 1 0 -2.3 0M137.0 529.4a1.15 1.15 0 1 0 2.3 0a1.15 1.15 0 1 0 -2.3 0M140.5 524.1a1.15 1.15 0 1 0 2.3 0a1.15 1.15 0 1 0 -2.3 0M143.2 522.3a1.15 1.15 0 1 0 2.3 0a1.15 1.15 0 1 0 -2.3 0M146.2 521.4a1.15 1.15 0 1 0 2.3 0a1.15 1.15 0 1 0 -2.3 0M149.5 521.4a1.15 1.15 0 1 0 2.3 0a1.15 1.15 0 1 0 -2.3 0M152.5 522.3a1.15 1.15 0 1 0 2.3 0a1.15 1.15 0 1 0 -2.3 0M155.2 524.1a1.15 1.15 0 1 0 2.3 0a1.15 1.15 0 1 0 -2.3 0M157.4 526.5a1.15 1.15 0 1 0 2.3 0a1.15 1.15 0 1 0 -2.3 0M158.7 529.4a1.15 1.15 0 1 0 2.3 0a1.15 1.15 0 1 0 -2.3 0M159.6 532.4a1.15 1.15 0 1 0 2.3 0a1.15 1.15 0 1 0 -2.3 0M158.9 528.0a1.15 1.15 0 1 0 2.3 0a1.15 1.15 0 1 0 -2.3 0M161.9 527.5a1.15 1.15 0 1 0 2.3 0a1.15 1.15 0 1 0 -2.3 0M165.6 531.4a1.15 1.15 0 1 0 2.3 0a1.15 1.15 0 1 0 -2.3 0M164.9 527.0a1.15 1.15 0 1 0 2.3 0a1.15 1.15 0 1 0 -2.3 0M168.6 530.9a1.15 1.15 0 1 0 2.3 0a1.15 1.15 0 1 0 -2.3 0M167.9 526.5a1.15 1.15 0 1 0 2.3 0a1.15 1.15 0 1 0 -2.3 0M171.6 530.4a1.15 1.15 0 1 0 2.3 0a1.15 1.15 0 1 0 -2.3 0M182.1 527.7a1.15 1.15 0 1 0 2.3 0a1.15 1.15 0 1 0 -2.3 0M178.4 532.7a1.15 1.15 0 1 0 2.3 0a1.15 1.15 0 1 0 -2.3 0M172.5 524.6a1.15 1.15 0 1 0 2.3 0a1.15 1.15 0 1 0 -2.3 0M175.1 522.7a1.15 1.15 0 1 0 2.3 0a1.15 1.15 0 1 0 -2.3 0M181.0 524.6a1.15 1.15 0 1 0 2.3 0a1.15 1.15 0 1 0 -2.3 0M66.5 558.9a1.15 1.15 0 1 0 2.3 0a1.15 1.15 0 1 0 -2.3 0M70.4 561.1a1.15 1.15 0 1 0 2.3 0a1.15 1.15 0 1 0 -2.3 0M68.6 564.1a1.15 1.15 0 1 0 2.3 0a1.15 1.15 0 1 0 -2.3 0M63.0 565.0a1.15 1.15 0 1 0 2.3 0a1.15 1.15 0 1 0 -2.3 0M66.9 567.2a1.15 1.15 0 1 0 2.3 0a1.15 1.15 0 1 0 -2.3 0M61.3 568.1a1.15 1.15 0 1 0 2.3 0a1.15 1.15 0 1 0 -2.3 0M65.1 570.2a1.15 1.15 0 1 0 2.3 0a1.15 1.15 0 1 0 -2.3 0M59.5 571.1a1.15 1.15 0 1 0 2.3 0a1.15 1.15 0 1 0 -2.3 0M63.4 573.3a1.15 1.15 0 1 0 2.3 0a1.15 1.15 0 1 0 -2.3 0M63.3 576.0a1.15 1.15 0 1 0 2.3 0a1.15 1.15 0 1 0 -2.3 0M62.1 578.8a1.15 1.15 0 1 0 2.3 0a1.15 1.15 0 1 0 -2.3 0M59.2 580.0a1.15 1.15 0 1 0 2.3 0a1.15 1.15 0 1 0 -2.3 0M56.4 578.8a1.15 1.15 0 1 0 2.3 0a1.15 1.15 0 1 0 -2.3 0M55.2 576.0a1.15 1.15 0 1 0 2.3 0a1.15 1.15 0 1 0 -2.3 0M56.4 573.2a1.15 1.15 0 1 0 2.3 0a1.15 1.15 0 1 0 -2.3 0M59.2 572.0a1.15 1.15 0 1 0 2.3 0a1.15 1.15 0 1 0 -2.3 0M62.1 573.2a1.15 1.15 0 1 0 2.3 0a1.15 1.15 0 1 0 -2.3 0M60.5 584.6a1.15 1.15 0 1 0 2.3 0a1.15 1.15 0 1 0 -2.3 0M57.3 589.5a1.15 1.15 0 1 0 2.3 0a1.15 1.15 0 1 0 -2.3 0M54.3 589.9a1.15 1.15 0 1 0 2.3 0a1.15 1.15 0 1 0 -2.3 0M51.5 580.5a1.15 1.15 0 1 0 2.3 0a1.15 1.15 0 1 0 -2.3 0M57.3 579.7a1.15 1.15 0 1 0 2.3 0a1.15 1.15 0 1 0 -2.3 0M53.1 597.2a1.15 1.15 0 1 0 2.3 0a1.15 1.15 0 1 0 -2.3 0M51.3 599.7a1.15 1.15 0 1 0 2.3 0a1.15 1.15 0 1 0 -2.3 0M48.3 598.7a1.15 1.15 0 1 0 2.3 0a1.15 1.15 0 1 0 -2.3 0M48.3 595.7a1.15 1.15 0 1 0 2.3 0a1.15 1.15 0 1 0 -2.3 0M51.3 594.7a1.15 1.15 0 1 0 2.3 0a1.15 1.15 0 1 0 -2.3 0M47.0 599.5a1.15 1.15 0 1 0 2.3 0a1.15 1.15 0 1 0 -2.3 0M51.1 601.1a1.15 1.15 0 1 0 2.3 0a1.15 1.15 0 1 0 -2.3 0M45.9 602.3a1.15 1.15 0 1 0 2.3 0a1.15 1.15 0 1 0 -2.3 0M50.0 603.9a1.15 1.15 0 1 0 2.3 0a1.15 1.15 0 1 0 -2.3 0M44.8 605.1a1.15 1.15 0 1 0 2.3 0a1.15 1.15 0 1 0 -2.3 0M49.0 606.7a1.15 1.15 0 1 0 2.3 0a1.15 1.15 0 1 0 -2.3 0M43.8 608.0a1.15 1.15 0 1 0 2.3 0a1.15 1.15 0 1 0 -2.3 0M47.9 609.5a1.15 1.15 0 1 0 2.3 0a1.15 1.15 0 1 0 -2.3 0M46.8 612.3a1.15 1.15 0 1 0 2.3 0a1.15 1.15 0 1 0 -2.3 0M41.6 613.6a1.15 1.15 0 1 0 2.3 0a1.15 1.15 0 1 0 -2.3 0M40.5 616.4a1.15 1.15 0 1 0 2.3 0a1.15 1.15 0 1 0 -2.3 0M44.7 618.0a1.15 1.15 0 1 0 2.3 0a1.15 1.15 0 1 0 -2.3 0M39.5 619.2a1.15 1.15 0 1 0 2.3 0a1.15 1.15 0 1 0 -2.3 0M43.6 620.8a1.15 1.15 0 1 0 2.3 0a1.15 1.15 0 1 0 -2.3 0M38.4 622.0a1.15 1.15 0 1 0 2.3 0a1.15 1.15 0 1 0 -2.3 0M42.5 623.6a1.15 1.15 0 1 0 2.3 0a1.15 1.15 0 1 0 -2.3 0M44.6 633.8a1.15 1.15 0 1 0 2.3 0a1.15 1.15 0 1 0 -2.3 0M44.2 636.9a1.15 1.15 0 1 0 2.3 0a1.15 1.15 0 1 0 -2.3 0M42.8 639.7a1.15 1.15 0 1 0 2.3 0a1.15 1.15 0 1 0 -2.3 0M40.7 642.0a1.15 1.15 0 1 0 2.3 0a1.15 1.15 0 1 0 -2.3 0M34.9 644.3a1.15 1.15 0 1 0 2.3 0a1.15 1.15 0 1 0 -2.3 0M31.8 644.0a1.15 1.15 0 1 0 2.3 0a1.15 1.15 0 1 0 -2.3 0M28.9 642.9a1.15 1.15 0 1 0 2.3 0a1.15 1.15 0 1 0 -2.3 0M26.5 640.9a1.15 1.15 0 1 0 2.3 0a1.15 1.15 0 1 0 -2.3 0M24.7 638.4a1.15 1.15 0 1 0 2.3 0a1.15 1.15 0 1 0 -2.3 0M23.8 635.4a1.15 1.15 0 1 0 2.3 0a1.15 1.15 0 1 0 -2.3 0M23.8 632.2a1.15 1.15 0 1 0 2.3 0a1.15 1.15 0 1 0 -2.3 0M24.7 629.2a1.15 1.15 0 1 0 2.3 0a1.15 1.15 0 1 0 -2.3 0M26.5 626.7a1.15 1.15 0 1 0 2.3 0a1.15 1.15 0 1 0 -2.3 0M28.9 624.7a1.15 1.15 0 1 0 2.3 0a1.15 1.15 0 1 0 -2.3 0M31.8 623.6a1.15 1.15 0 1 0 2.3 0a1.15 1.15 0 1 0 -2.3 0M34.9 623.3a1.15 1.15 0 1 0 2.3 0a1.15 1.15 0 1 0 -2.3 0M40.7 625.6a1.15 1.15 0 1 0 2.3 0a1.15 1.15 0 1 0 -2.3 0M42.8 627.9a1.15 1.15 0 1 0 2.3 0a1.15 1.15 0 1 0 -2.3 0M44.2 630.7a1.15 1.15 0 1 0 2.3 0a1.15 1.15 0 1 0 -2.3 0" fill="#B5121B"/>
<path d="M29.7 505.7a1.15 1.15 0 1 0 2.3 0a1.15 1.15 0 1 0 -2.3 0M28.2 503.2a1.15 1.15 0 1 0 2.3 0a1.15 1.15 0 1 0 -2.3 0M29.7 500.7a1.15 1.15 0 1 0 2.3 0a1.15 1.15 0 1 0 -2.3 0M57.4 534.5a1.15 1.15 0 1 0 2.3 0a1.15 1.15 0 1 0 -2.3 0M70.5 539.6a1.15 1.15 0 1 0 2.3 0a1.15 1.15 0 1 0 -2.3 0M72.8 530.6a1.15 1.15 0 1 0 2.3 0a1.15 1.15 0 1 0 -2.3 0M66.7 543.8a1.15 1.15 0 1 0 2.3 0a1.15 1.15 0 1 0 -2.3 0M81.0 547.9a1.15 1.15 0 1 0 2.3 0a1.15 1.15 0 1 0 -2.3 0M86.7 545.6a1.15 1.15 0 1 0 2.3 0a1.15 1.15 0 1 0 -2.3 0M85.0 541.5a1.15 1.15 0 1 0 2.3 0a1.15 1.15 0 1 0 -2.3 0M87.8 540.4a1.15 1.15 0 1 0 2.3 0a1.15 1.15 0 1 0 -2.3 0M85.9 532.2a1.15 1.15 0 1 0 2.3 0a1.15 1.15 0 1 0 -2.3 0M92.0 547.8a1.15 1.15 0 1 0 2.3 0a1.15 1.15 0 1 0 -2.3 0M100.9 532.5a1.15 1.15 0 1 0 2.3 0a1.15 1.15 0 1 0 -2.3 0M108.3 537.7a1.15 1.15 0 1 0 2.3 0a1.15 1.15 0 1 0 -2.3 0M117.9 542.9a1.15 1.15 0 1 0 2.3 0a1.15 1.15 0 1 0 -2.3 0M127.9 538.0a1.15 1.15 0 1 0 2.3 0a1.15 1.15 0 1 0 -2.3 0M127.0 533.6a1.15 1.15 0 1 0 2.3 0a1.15 1.15 0 1 0 -2.3 0M130.9 537.4a1.15 1.15 0 1 0 2.3 0a1.15 1.15 0 1 0 -2.3 0M132.9 532.4a1.15 1.15 0 1 0 2.3 0a1.15 1.15 0 1 0 -2.3 0M158.7 535.8a1.15 1.15 0 1 0 2.3 0a1.15 1.15 0 1 0 -2.3 0M157.4 538.7a1.15 1.15 0 1 0 2.3 0a1.15 1.15 0 1 0 -2.3 0M140.5 541.1a1.15 1.15 0 1 0 2.3 0a1.15 1.15 0 1 0 -2.3 0M137.0 535.8a1.15 1.15 0 1 0 2.3 0a1.15 1.15 0 1 0 -2.3 0M138.3 526.5a1.15 1.15 0 1 0 2.3 0a1.15 1.15 0 1 0 -2.3 0M162.6 531.9a1.15 1.15 0 1 0 2.3 0a1.15 1.15 0 1 0 -2.3 0M170.9 526.0a1.15 1.15 0 1 0 2.3 0a1.15 1.15 0 1 0 -2.3 0M181.0 530.8a1.15 1.15 0 1 0 2.3 0a1.15 1.15 0 1 0 -2.3 0M175.1 532.7a1.15 1.15 0 1 0 2.3 0a1.15 1.15 0 1 0 -2.3 0M172.5 530.8a1.15 1.15 0 1 0 2.3 0a1.15 1.15 0 1 0 -2.3 0M171.4 527.7a1.15 1.15 0 1 0 2.3 0a1.15 1.15 0 1 0 -2.3 0M178.4 522.7a1.15 1.15 0 1 0 2.3 0a1.15 1.15 0 1 0 -2.3 0M64.8 562.0a1.15 1.15 0 1 0 2.3 0a1.15 1.15 0 1 0 -2.3 0M42.7 610.8a1.15 1.15 0 1 0 2.3 0a1.15 1.15 0 1 0 -2.3 0M45.7 615.1a1.15 1.15 0 1 0 2.3 0a1.15 1.15 0 1 0 -2.3 0M38.0 643.6a1.15 1.15 0 1 0 2.3 0a1.15 1.15 0 1 0 -2.3 0M38.0 624.0a1.15 1.15 0 1 0 2.3 0a1.15 1.15 0 1 0 -2.3 0" fill="#4B5D23"/>
<path d="M31.8 507.5a1.15 1.15 0 1 0 2.3 0a1.15 1.15 0 1 0 -2.3 0M34.7 504.3a1.15 1.15 0 1 0 2.3 0a1.15 1.15 0 1 0 -2.3 0M33.8 509.3a1.15 1.15 0 1 0 2.3 0a1.15 1.15 0 1 0 -2.3 0M36.7 506.0a1.15 1.15 0 1 0 2.3 0a1.15 1.15 0 1 0 -2.3 0M35.8 511.1a1.15 1.15 0 1 0 2.3 0a1.15 1.15 0 1 0 -2.3 0M37.8 512.8a1.15 1.15 0 1 0 2.3 0a1.15 1.15 0 1 0 -2.3 0M40.7 509.6a1.15 1.15 0 1 0 2.3 0a1.15 1.15 0 1 0 -2.3 0M49.8 518.5a1.15 1.15 0 1 0 2.3 0a1.15 1.15 0 1 0 -2.3 0M44.8 522.0a1.15 1.15 0 1 0 2.3 0a1.15 1.15 0 1 0 -2.3 0M41.7 521.6a1.15 1.15 0 1 0 2.3 0a1.15 1.15 0 1 0 -2.3 0M37.7 517.1a1.15 1.15 0 1 0 2.3 0a1.15 1.15 0 1 0 -2.3 0M37.7 513.9a1.15 1.15 0 1 0 2.3 0a1.15 1.15 0 1 0 -2.3 0M44.8 509.0a1.15 1.15 0 1 0 2.3 0a1.15 1.15 0 1 0 -2.3 0M121.4 538.0a1.15 1.15 0 1 0 2.3 0a1.15 1.15 0 1 0 -2.3 0M114.8 542.9a1.15 1.15 0 1 0 2.3 0a1.15 1.15 0 1 0 -2.3 0M114.8 533.1a1.15 1.15 0 1 0 2.3 0a1.15 1.15 0 1 0 -2.3 0M120.5 535.0a1.15 1.15 0 1 0 2.3 0a1.15 1.15 0 1 0 -2.3 0M73.5 556.4a1.15 1.15 0 1 0 2.3 0a1.15 1.15 0 1 0 -2.3 0M72.3 559.1a1.15 1.15 0 1 0 2.3 0a1.15 1.15 0 1 0 -2.3 0M69.4 559.7a1.15 1.15 0 1 0 2.3 0a1.15 1.15 0 1 0 -2.3 0M67.1 554.9a1.15 1.15 0 1 0 2.3 0a1.15 1.15 0 1 0 -2.3 0M72.3 553.7a1.15 1.15 0 1 0 2.3 0a1.15 1.15 0 1 0 -2.3 0M59.6 587.5a1.15 1.15 0 1 0 2.3 0a1.15 1.15 0 1 0 -2.3 0M49.9 583.1a1.15 1.15 0 1 0 2.3 0a1.15 1.15 0 1 0 -2.3 0M54.3 579.3a1.15 1.15 0 1 0 2.3 0a1.15 1.15 0 1 0 -2.3 0M59.6 581.7a1.15 1.15 0 1 0 2.3 0a1.15 1.15 0 1 0 -2.3 0" fill="#2A7F2A"/>
<path d="M78.2 549.0a1.15 1.15 0 1 0 2.3 0a1.15 1.15 0 1 0 -2.3 0M79.3 543.8a1.15 1.15 0 1 0 2.3 0a1.15 1.15 0 1 0 -2.3 0M89.5 544.4a1.15 1.15 0 1 0 2.3 0a1.15 1.15 0 1 0 -2.3 0M100.9 551.1a1.15 1.15 0 1 0 2.3 0a1.15 1.15 0 1 0 -2.3 0M89.8 541.8a1.15 1.15 0 1 0 2.3 0a1.15 1.15 0 1 0 -2.3 0M92.0 535.8a1.15 1.15 0 1 0 2.3 0a1.15 1.15 0 1 0 -2.3 0M51.5 588.7a1.15 1.15 0 1 0 2.3 0a1.15 1.15 0 1 0 -2.3 0M49.9 586.1a1.15 1.15 0 1 0 2.3 0a1.15 1.15 0 1 0 -2.3 0" fill="#A8A010"/>
<path d="M76.5 545.0a1.15 1.15 0 1 0 2.3 0a1.15 1.15 0 1 0 -2.3 0M83.8 546.7a1.15 1.15 0 1 0 2.3 0a1.15 1.15 0 1 0 -2.3 0M82.2 542.7a1.15 1.15 0 1 0 2.3 0a1.15 1.15 0 1 0 -2.3 0" fill="#E07A10"/>
<path d="M67.1 557.9a1.15 1.15 0 1 0 2.3 0a1.15 1.15 0 1 0 -2.3 0M69.4 553.1a1.15 1.15 0 1 0 2.3 0a1.15 1.15 0 1 0 -2.3 0M52.9 594.9a1.15 1.15 0 1 0 2.3 0a1.15 1.15 0 1 0 -2.3 0M48.6 592.4a1.15 1.15 0 1 0 2.3 0a1.15 1.15 0 1 0 -2.3 0M52.9 589.9a1.15 1.15 0 1 0 2.3 0a1.15 1.15 0 1 0 -2.3 0" fill="#138A8A"/>
<path d="M54.4 592.4a1.15 1.15 0 1 0 2.3 0a1.15 1.15 0 1 0 -2.3 0M50.0 594.9a1.15 1.15 0 1 0 2.3 0a1.15 1.15 0 1 0 -2.3 0M50.0 589.9a1.15 1.15 0 1 0 2.3 0a1.15 1.15 0 1 0 -2.3 0" fill="#1A3CA0"/>
<path d="M209.2 502.8L207.8 505.3M207.8 505.3L204.9 505.3M204.9 505.3L203.4 502.8M203.4 502.8L204.9 500.3M204.9 500.3L207.8 500.3M207.8 500.3L209.2 502.8M206.9 507.1L209.9 503.9M208.9 508.9L211.9 505.6M206.9 507.1L208.9 508.9M209.9 503.9L211.9 505.6M210.9 510.7L213.9 507.4M208.9 508.9L210.9 510.7M211.9 505.6L213.9 507.4M212.9 512.4L215.9 509.2M210.9 510.7L212.9 512.4M213.9 507.4L215.9 509.2M225.7 515.1L225.0 518.1M225.0 518.1L222.9 520.4M222.9 520.4L220.0 521.6M220.0 521.6L216.9 521.2M216.9 521.2L214.3 519.4M214.3 519.4L212.9 516.7M212.9 516.7L212.9 513.5M212.9 513.5L214.3 510.8M214.3 510.8L216.9 509.0M216.9 509.0L220.0 508.6M220.0 508.6L222.9 509.8M222.9 509.8L225.0 512.1M225.0 512.1L225.7 515.1M222.3 522.0L225.5 519.0M224.7 524.6L227.9 521.6M222.3 522.0L224.7 524.6M225.5 519.0L227.9 521.6M234.9 527.8L233.6 530.8M233.6 530.8L230.6 532.1M230.6 532.1L227.6 530.8M227.6 530.8L226.3 527.8M226.3 527.8L227.6 524.8M227.6 524.8L230.6 523.5M230.6 523.5L233.6 524.8M233.6 524.8L234.9 527.8M232.6 534.1L235.4 530.7M235.2 536.2L238.0 532.8M232.6 534.1L235.2 536.2M235.4 530.7L238.0 532.8M237.7 538.3L240.5 534.9M235.2 536.2L237.7 538.3M238.0 532.8L240.5 534.9M240.3 540.5L243.1 537.1M237.7 538.3L240.3 540.5M240.5 534.9L243.1 537.1M242.8 542.6L245.6 539.2M240.3 540.5L242.8 542.6M243.1 537.1L245.6 539.2M245.4 544.7L248.2 541.3M242.8 542.6L245.4 544.7M245.6 539.2L248.2 541.3M245.0 536.1L246.4 533.1M246.4 533.1L247.9 530.2M242.5 552.4L239.3 553.0M239.3 553.0L236.3 551.5M236.3 551.5L235.0 548.5M235.0 548.5L235.9 545.3M235.9 545.3L238.5 543.3M238.5 543.3L241.8 543.4M241.8 543.4L244.3 545.6M253.3 548.6L251.7 544.6M256.2 547.5L254.5 543.4M253.3 548.6L256.2 547.5M251.7 544.6L254.5 543.4M259.0 546.3L257.3 542.3M256.2 547.5L259.0 546.3M254.5 543.4L257.3 542.3M261.8 545.2L260.1 541.1M259.0 546.3L261.8 545.2M257.3 542.3L260.1 541.1M264.6 544.0L263.0 540.0M261.8 545.2L264.6 544.0M260.1 541.1L263.0 540.0M254.1 528.0L257.9 529.2M257.9 529.2L261.1 531.8M261.1 531.8L263.0 535.6M263.0 535.6L263.5 538.6M283.8 541.4L283.2 544.6M283.2 544.6L281.6 547.4M281.6 547.4L279.1 549.5M279.1 549.5L276.0 550.7M276.0 550.7L272.8 550.7M272.8 550.7L269.7 549.5M269.7 549.5L267.2 547.4M267.2 547.4L265.6 544.6M265.6 544.6L265.0 541.4M265.0 541.4L265.6 538.2M265.6 538.2L267.2 535.4M267.2 535.4L269.7 533.3M269.7 533.3L272.8 532.1M272.8 532.1L276.0 532.1M276.0 532.1L279.1 533.3M279.1 533.3L281.6 535.4M281.6 535.4L283.2 538.2M283.2 538.2L283.8 541.4M284.6 541.5L283.4 537.3M286.8 540.9L285.6 536.7M284.6 541.5L286.8 540.9M283.4 537.3L285.6 536.7M296.6 537.6L295.6 540.6M295.6 540.6L293.1 542.5M293.1 542.5L289.9 542.5M289.9 542.5L287.4 540.6M287.4 540.6L286.4 537.6M286.4 537.6L287.4 534.6M287.4 534.6L289.9 532.7M289.9 532.7L293.1 532.7M293.1 532.7L295.6 534.6M295.6 534.6L296.6 537.6M297.2 538.8L296.4 534.4M300.2 538.2L299.3 533.8M297.2 538.8L300.2 538.2M296.4 534.4L299.3 533.8M303.1 537.6L302.2 533.2M300.2 538.2L303.1 537.6M299.3 533.8L302.2 533.2M306.0 537.0L305.1 532.6M303.1 537.6L306.0 537.0M302.2 533.2L305.1 532.6M308.9 536.4L308.0 532.0M306.0 537.0L308.9 536.4M305.1 532.6L308.0 532.0M311.8 535.8L311.0 531.4M308.9 536.4L311.8 535.8M308.0 532.0L311.0 531.4M334.3 532.2L333.8 535.4M333.8 535.4L332.5 538.3M332.5 538.3L330.4 540.7M330.4 540.7L327.7 542.5M327.7 542.5L324.6 543.4M324.6 543.4L321.4 543.4M321.4 543.4L318.3 542.5M318.3 542.5L315.6 540.7M315.6 540.7L313.5 538.3M313.5 538.3L312.2 535.4M312.2 535.4L311.7 532.2M311.7 532.2L312.2 529.0M312.2 529.0L313.5 526.1M313.5 526.1L315.6 523.7M315.6 523.7L318.3 521.9M318.3 521.9L321.4 521.0M321.4 521.0L324.6 521.0M324.6 521.0L327.7 521.9M327.7 521.9L330.4 523.7M330.4 523.7L332.5 526.1M332.5 526.1L333.8 529.0M333.8 529.0L334.3 532.2M334.8 532.0L334.0 527.6M337.8 531.5L337.0 527.1M334.8 532.0L337.8 531.5M334.0 527.6L337.0 527.1M340.8 531.0L340.0 526.6M337.8 531.5L340.8 531.0M337.0 527.1L340.0 526.6M343.8 530.5L343.0 526.1M340.8 531.0L343.8 530.5M340.0 526.6L343.0 526.1M346.8 530.0L346.0 525.6M343.8 530.5L346.8 530.0M343.0 526.1L346.0 525.6M357.2 527.3L356.2 530.4M356.2 530.4L353.5 532.3M353.5 532.3L350.3 532.3M350.3 532.3L347.6 530.4M347.6 530.4L346.6 527.3M346.6 527.3L347.6 524.2M347.6 524.2L350.3 522.3M350.3 522.3L353.5 522.3M353.5 522.3L356.2 524.2M356.2 524.2L357.2 527.3M248.7 556.0L247.4 558.7M247.4 558.7L244.5 559.3M244.5 559.3L242.2 557.5M242.2 557.5L242.2 554.5M242.2 554.5L244.5 552.7M244.5 552.7L247.4 553.3M247.4 553.3L248.7 556.0M242.7 558.4L246.3 560.8M240.8 561.1L244.4 563.6M242.7 558.4L240.8 561.1M246.3 560.8L244.4 563.6M238.9 563.9L242.6 566.3M240.8 561.1L238.9 563.9M244.4 563.6L242.6 566.3M237.1 566.6L240.7 569.1M238.9 563.9L237.1 566.6M242.6 566.3L240.7 569.1M235.2 569.4L238.8 571.8M237.1 566.6L235.2 569.4M240.7 569.1L238.8 571.8M240.2 576.7L239.4 579.7M239.4 579.7L237.2 581.9M237.2 581.9L234.2 582.7M234.2 582.7L231.2 581.9M231.2 581.9L229.0 579.7M229.0 579.7L228.2 576.7M228.2 576.7L229.0 573.7M229.0 573.7L231.2 571.5M231.2 571.5L234.2 570.7M234.2 570.7L237.2 571.5M237.2 571.5L239.4 573.7M239.4 573.7L240.2 576.7M230.3 581.6L234.3 583.6M229.1 584.0L233.1 586.0M230.3 581.6L229.1 584.0M234.3 583.6L233.1 586.0M227.9 586.4L231.9 588.4M229.1 584.0L227.9 586.4M233.1 586.0L231.9 588.4M226.7 588.8L230.7 590.8M227.9 586.4L226.7 588.8M231.9 588.4L230.7 590.8M231.5 595.4L230.6 598.4M230.6 598.4L228.3 600.4M228.3 600.4L225.2 600.8M225.2 600.8L222.4 599.6M222.4 599.6L220.7 596.9M220.7 596.9L220.7 593.9M220.7 593.9L222.4 591.2M222.4 591.2L225.2 590.0M225.2 590.0L228.3 590.4M228.3 590.4L230.6 592.4M230.6 592.4L231.5 595.4M222.5 600.1L226.5 601.9M221.3 602.8L225.3 604.6M222.5 600.1L221.3 602.8M226.5 601.9L225.3 604.6M220.1 605.5L224.2 607.3M221.3 602.8L220.1 605.5M225.3 604.6L224.2 607.3M219.0 608.2L223.0 610.0M220.1 605.5L219.0 608.2M224.2 607.3L223.0 610.0M217.8 610.9L221.8 612.7M219.0 608.2L217.8 610.9M223.0 610.0L221.8 612.7M221.0 614.5L219.3 616.9M219.3 616.9L216.5 616.0M216.5 616.0L216.5 613.0M216.5 613.0L219.3 612.1M219.3 612.1L221.0 614.5M215.3 615.9L219.1 618.1M213.5 619.0L217.3 621.2M215.3 615.9L213.5 619.0M219.1 618.1L217.3 621.2M211.7 622.1L215.5 624.3M213.5 619.0L211.7 622.1M217.3 621.2L215.5 624.3M219.8 633.4L219.3 636.5M219.3 636.5L218.0 639.3M218.0 639.3L215.8 641.6M215.8 641.6L213.1 643.2M213.1 643.2L210.1 643.9M210.1 643.9L207.0 643.6M207.0 643.6L204.1 642.5M204.1 642.5L201.6 640.5M201.6 640.5L199.8 638.0M199.8 638.0L198.9 635.0M198.9 635.0L198.9 631.8M198.9 631.8L199.8 628.8M199.8 628.8L201.6 626.3M201.6 626.3L204.1 624.3M204.1 624.3L207.0 623.2M207.0 623.2L210.1 622.9M210.1 622.9L213.1 623.6M213.1 623.6L215.8 625.2M215.8 625.2L218.0 627.5M218.0 627.5L219.3 630.3M219.3 630.3L219.8 633.4" fill="none" stroke="#333" stroke-width="0.75" stroke-opacity="0.9"/>
<path d="M208.1 502.8a1.15 1.15 0 1 0 2.3 0a1.15 1.15 0 1 0 -2.3 0M206.6 505.3a1.15 1.15 0 1 0 2.3 0a1.15 1.15 0 1 0 -2.3 0M221.7 520.4a1.15 1.15 0 1 0 2.3 0a1.15 1.15 0 1 0 -2.3 0M218.8 521.6a1.15 1.15 0 1 0 2.3 0a1.15 1.15 0 1 0 -2.3 0M213.2 519.4a1.15 1.15 0 1 0 2.3 0a1.15 1.15 0 1 0 -2.3 0M218.8 508.6a1.15 1.15 0 1 0 2.3 0a1.15 1.15 0 1 0 -2.3 0M223.8 512.1a1.15 1.15 0 1 0 2.3 0a1.15 1.15 0 1 0 -2.3 0M241.7 542.6a1.15 1.15 0 1 0 2.3 0a1.15 1.15 0 1 0 -2.3 0M243.8 536.1a1.15 1.15 0 1 0 2.3 0a1.15 1.15 0 1 0 -2.3 0M246.8 530.2a1.15 1.15 0 1 0 2.3 0a1.15 1.15 0 1 0 -2.3 0M233.9 548.5a1.15 1.15 0 1 0 2.3 0a1.15 1.15 0 1 0 -2.3 0M240.7 543.4a1.15 1.15 0 1 0 2.3 0a1.15 1.15 0 1 0 -2.3 0M250.5 544.6a1.15 1.15 0 1 0 2.3 0a1.15 1.15 0 1 0 -2.3 0M262.4 538.6a1.15 1.15 0 1 0 2.3 0a1.15 1.15 0 1 0 -2.3 0M280.5 547.4a1.15 1.15 0 1 0 2.3 0a1.15 1.15 0 1 0 -2.3 0M271.6 550.7a1.15 1.15 0 1 0 2.3 0a1.15 1.15 0 1 0 -2.3 0M264.4 544.6a1.15 1.15 0 1 0 2.3 0a1.15 1.15 0 1 0 -2.3 0M286.2 534.6a1.15 1.15 0 1 0 2.3 0a1.15 1.15 0 1 0 -2.3 0M326.5 521.9a1.15 1.15 0 1 0 2.3 0a1.15 1.15 0 1 0 -2.3 0M341.9 526.1a1.15 1.15 0 1 0 2.3 0a1.15 1.15 0 1 0 -2.3 0M352.4 532.3a1.15 1.15 0 1 0 2.3 0a1.15 1.15 0 1 0 -2.3 0M346.5 530.4a1.15 1.15 0 1 0 2.3 0a1.15 1.15 0 1 0 -2.3 0M241.5 558.4a1.15 1.15 0 1 0 2.3 0a1.15 1.15 0 1 0 -2.3 0M245.2 560.8a1.15 1.15 0 1 0 2.3 0a1.15 1.15 0 1 0 -2.3 0M241.4 566.3a1.15 1.15 0 1 0 2.3 0a1.15 1.15 0 1 0 -2.3 0M238.2 579.7a1.15 1.15 0 1 0 2.3 0a1.15 1.15 0 1 0 -2.3 0M223.0 607.3a1.15 1.15 0 1 0 2.3 0a1.15 1.15 0 1 0 -2.3 0M217.8 608.2a1.15 1.15 0 1 0 2.3 0a1.15 1.15 0 1 0 -2.3 0M214.1 615.9a1.15 1.15 0 1 0 2.3 0a1.15 1.15 0 1 0 -2.3 0M197.8 635.0a1.15 1.15 0 1 0 2.3 0a1.15 1.15 0 1 0 -2.3 0" fill="#A8A010"/>
<path d="M203.7 505.3a1.15 1.15 0 1 0 2.3 0a1.15 1.15 0 1 0 -2.3 0M202.2 502.8a1.15 1.15 0 1 0 2.3 0a1.15 1.15 0 1 0 -2.3 0M203.7 500.3a1.15 1.15 0 1 0 2.3 0a1.15 1.15 0 1 0 -2.3 0M224.5 515.1a1.15 1.15 0 1 0 2.3 0a1.15 1.15 0 1 0 -2.3 0M211.7 513.5a1.15 1.15 0 1 0 2.3 0a1.15 1.15 0 1 0 -2.3 0M213.2 510.8a1.15 1.15 0 1 0 2.3 0a1.15 1.15 0 1 0 -2.3 0M226.4 530.8a1.15 1.15 0 1 0 2.3 0a1.15 1.15 0 1 0 -2.3 0M268.6 533.3a1.15 1.15 0 1 0 2.3 0a1.15 1.15 0 1 0 -2.3 0M277.9 533.3a1.15 1.15 0 1 0 2.3 0a1.15 1.15 0 1 0 -2.3 0M280.5 535.4a1.15 1.15 0 1 0 2.3 0a1.15 1.15 0 1 0 -2.3 0M284.5 536.7a1.15 1.15 0 1 0 2.3 0a1.15 1.15 0 1 0 -2.3 0M285.2 537.6a1.15 1.15 0 1 0 2.3 0a1.15 1.15 0 1 0 -2.3 0M288.8 532.7a1.15 1.15 0 1 0 2.3 0a1.15 1.15 0 1 0 -2.3 0M291.9 532.7a1.15 1.15 0 1 0 2.3 0a1.15 1.15 0 1 0 -2.3 0M301.9 537.6a1.15 1.15 0 1 0 2.3 0a1.15 1.15 0 1 0 -2.3 0M301.0 533.2a1.15 1.15 0 1 0 2.3 0a1.15 1.15 0 1 0 -2.3 0M304.9 537.0a1.15 1.15 0 1 0 2.3 0a1.15 1.15 0 1 0 -2.3 0M304.0 532.6a1.15 1.15 0 1 0 2.3 0a1.15 1.15 0 1 0 -2.3 0M307.8 536.4a1.15 1.15 0 1 0 2.3 0a1.15 1.15 0 1 0 -2.3 0M306.9 532.0a1.15 1.15 0 1 0 2.3 0a1.15 1.15 0 1 0 -2.3 0M309.8 531.4a1.15 1.15 0 1 0 2.3 0a1.15 1.15 0 1 0 -2.3 0M314.5 540.7a1.15 1.15 0 1 0 2.3 0a1.15 1.15 0 1 0 -2.3 0M311.0 529.0a1.15 1.15 0 1 0 2.3 0a1.15 1.15 0 1 0 -2.3 0M317.2 521.9a1.15 1.15 0 1 0 2.3 0a1.15 1.15 0 1 0 -2.3 0M335.9 527.1a1.15 1.15 0 1 0 2.3 0a1.15 1.15 0 1 0 -2.3 0M356.1 527.3a1.15 1.15 0 1 0 2.3 0a1.15 1.15 0 1 0 -2.3 0M230.0 571.5a1.15 1.15 0 1 0 2.3 0a1.15 1.15 0 1 0 -2.3 0M219.6 596.9a1.15 1.15 0 1 0 2.3 0a1.15 1.15 0 1 0 -2.3 0M229.5 592.4a1.15 1.15 0 1 0 2.3 0a1.15 1.15 0 1 0 -2.3 0M225.4 601.9a1.15 1.15 0 1 0 2.3 0a1.15 1.15 0 1 0 -2.3 0M218.0 618.1a1.15 1.15 0 1 0 2.3 0a1.15 1.15 0 1 0 -2.3 0M216.2 621.2a1.15 1.15 0 1 0 2.3 0a1.15 1.15 0 1 0 -2.3 0M218.2 636.5a1.15 1.15 0 1 0 2.3 0a1.15 1.15 0 1 0 -2.3 0M212.0 643.2a1.15 1.15 0 1 0 2.3 0a1.15 1.15 0 1 0 -2.3 0M205.8 643.6a1.15 1.15 0 1 0 2.3 0a1.15 1.15 0 1 0 -2.3 0M202.9 642.5a1.15 1.15 0 1 0 2.3 0a1.15 1.15 0 1 0 -2.3 0M200.5 640.5a1.15 1.15 0 1 0 2.3 0a1.15 1.15 0 1 0 -2.3 0M198.7 628.8a1.15 1.15 0 1 0 2.3 0a1.15 1.15 0 1 0 -2.3 0M202.9 624.3a1.15 1.15 0 1 0 2.3 0a1.15 1.15 0 1 0 -2.3 0" fill="#B5121B"/>
<path d="M206.6 500.3a1.15 1.15 0 1 0 2.3 0a1.15 1.15 0 1 0 -2.3 0M205.8 507.1a1.15 1.15 0 1 0 2.3 0a1.15 1.15 0 1 0 -2.3 0M210.7 505.6a1.15 1.15 0 1 0 2.3 0a1.15 1.15 0 1 0 -2.3 0M209.8 510.7a1.15 1.15 0 1 0 2.3 0a1.15 1.15 0 1 0 -2.3 0M211.8 512.4a1.15 1.15 0 1 0 2.3 0a1.15 1.15 0 1 0 -2.3 0M223.8 518.1a1.15 1.15 0 1 0 2.3 0a1.15 1.15 0 1 0 -2.3 0M215.7 521.2a1.15 1.15 0 1 0 2.3 0a1.15 1.15 0 1 0 -2.3 0M211.7 516.7a1.15 1.15 0 1 0 2.3 0a1.15 1.15 0 1 0 -2.3 0M215.7 509.0a1.15 1.15 0 1 0 2.3 0a1.15 1.15 0 1 0 -2.3 0M221.7 509.8a1.15 1.15 0 1 0 2.3 0a1.15 1.15 0 1 0 -2.3 0M221.1 522.0a1.15 1.15 0 1 0 2.3 0a1.15 1.15 0 1 0 -2.3 0M223.5 524.6a1.15 1.15 0 1 0 2.3 0a1.15 1.15 0 1 0 -2.3 0M233.8 527.8a1.15 1.15 0 1 0 2.3 0a1.15 1.15 0 1 0 -2.3 0M232.5 530.8a1.15 1.15 0 1 0 2.3 0a1.15 1.15 0 1 0 -2.3 0M229.4 532.1a1.15 1.15 0 1 0 2.3 0a1.15 1.15 0 1 0 -2.3 0M225.1 527.8a1.15 1.15 0 1 0 2.3 0a1.15 1.15 0 1 0 -2.3 0M226.4 524.8a1.15 1.15 0 1 0 2.3 0a1.15 1.15 0 1 0 -2.3 0M229.4 523.5a1.15 1.15 0 1 0 2.3 0a1.15 1.15 0 1 0 -2.3 0M232.5 524.8a1.15 1.15 0 1 0 2.3 0a1.15 1.15 0 1 0 -2.3 0M234.0 536.2a1.15 1.15 0 1 0 2.3 0a1.15 1.15 0 1 0 -2.3 0M239.1 540.5a1.15 1.15 0 1 0 2.3 0a1.15 1.15 0 1 0 -2.3 0M241.9 537.1a1.15 1.15 0 1 0 2.3 0a1.15 1.15 0 1 0 -2.3 0M244.5 539.2a1.15 1.15 0 1 0 2.3 0a1.15 1.15 0 1 0 -2.3 0M245.2 533.1a1.15 1.15 0 1 0 2.3 0a1.15 1.15 0 1 0 -2.3 0M238.1 553.0a1.15 1.15 0 1 0 2.3 0a1.15 1.15 0 1 0 -2.3 0M235.2 551.5a1.15 1.15 0 1 0 2.3 0a1.15 1.15 0 1 0 -2.3 0M234.7 545.3a1.15 1.15 0 1 0 2.3 0a1.15 1.15 0 1 0 -2.3 0M237.4 543.3a1.15 1.15 0 1 0 2.3 0a1.15 1.15 0 1 0 -2.3 0M243.2 545.6a1.15 1.15 0 1 0 2.3 0a1.15 1.15 0 1 0 -2.3 0M252.9 528.0a1.15 1.15 0 1 0 2.3 0a1.15 1.15 0 1 0 -2.3 0M260.0 531.8a1.15 1.15 0 1 0 2.3 0a1.15 1.15 0 1 0 -2.3 0M261.9 535.6a1.15 1.15 0 1 0 2.3 0a1.15 1.15 0 1 0 -2.3 0M282.6 541.4a1.15 1.15 0 1 0 2.3 0a1.15 1.15 0 1 0 -2.3 0M266.0 547.4a1.15 1.15 0 1 0 2.3 0a1.15 1.15 0 1 0 -2.3 0M264.4 538.2a1.15 1.15 0 1 0 2.3 0a1.15 1.15 0 1 0 -2.3 0M271.6 532.1a1.15 1.15 0 1 0 2.3 0a1.15 1.15 0 1 0 -2.3 0M274.9 532.1a1.15 1.15 0 1 0 2.3 0a1.15 1.15 0 1 0 -2.3 0M282.3 537.3a1.15 1.15 0 1 0 2.3 0a1.15 1.15 0 1 0 -2.3 0M295.5 537.6a1.15 1.15 0 1 0 2.3 0a1.15 1.15 0 1 0 -2.3 0M294.5 540.6a1.15 1.15 0 1 0 2.3 0a1.15 1.15 0 1 0 -2.3 0M288.8 542.5a1.15 1.15 0 1 0 2.3 0a1.15 1.15 0 1 0 -2.3 0M286.2 540.6a1.15 1.15 0 1 0 2.3 0a1.15 1.15 0 1 0 -2.3 0M296.1 538.8a1.15 1.15 0 1 0 2.3 0a1.15 1.15 0 1 0 -2.3 0M295.2 534.4a1.15 1.15 0 1 0 2.3 0a1.15 1.15 0 1 0 -2.3 0M299.0 538.2a1.15 1.15 0 1 0 2.3 0a1.15 1.15 0 1 0 -2.3 0M332.7 535.4a1.15 1.15 0 1 0 2.3 0a1.15 1.15 0 1 0 -2.3 0M320.2 543.4a1.15 1.15 0 1 0 2.3 0a1.15 1.15 0 1 0 -2.3 0M317.2 542.5a1.15 1.15 0 1 0 2.3 0a1.15 1.15 0 1 0 -2.3 0M310.6 532.2a1.15 1.15 0 1 0 2.3 0a1.15 1.15 0 1 0 -2.3 0M314.5 523.7a1.15 1.15 0 1 0 2.3 0a1.15 1.15 0 1 0 -2.3 0M332.7 529.0a1.15 1.15 0 1 0 2.3 0a1.15 1.15 0 1 0 -2.3 0M333.6 532.0a1.15 1.15 0 1 0 2.3 0a1.15 1.15 0 1 0 -2.3 0M332.9 527.6a1.15 1.15 0 1 0 2.3 0a1.15 1.15 0 1 0 -2.3 0M336.6 531.5a1.15 1.15 0 1 0 2.3 0a1.15 1.15 0 1 0 -2.3 0M339.6 531.0a1.15 1.15 0 1 0 2.3 0a1.15 1.15 0 1 0 -2.3 0M338.9 526.6a1.15 1.15 0 1 0 2.3 0a1.15 1.15 0 1 0 -2.3 0M355.0 530.4a1.15 1.15 0 1 0 2.3 0a1.15 1.15 0 1 0 -2.3 0M349.1 532.3a1.15 1.15 0 1 0 2.3 0a1.15 1.15 0 1 0 -2.3 0M349.1 522.3a1.15 1.15 0 1 0 2.3 0a1.15 1.15 0 1 0 -2.3 0M352.4 522.3a1.15 1.15 0 1 0 2.3 0a1.15 1.15 0 1 0 -2.3 0M355.0 524.2a1.15 1.15 0 1 0 2.3 0a1.15 1.15 0 1 0 -2.3 0M247.6 556.0a1.15 1.15 0 1 0 2.3 0a1.15 1.15 0 1 0 -2.3 0M241.1 554.5a1.15 1.15 0 1 0 2.3 0a1.15 1.15 0 1 0 -2.3 0M243.4 552.7a1.15 1.15 0 1 0 2.3 0a1.15 1.15 0 1 0 -2.3 0M239.7 561.1a1.15 1.15 0 1 0 2.3 0a1.15 1.15 0 1 0 -2.3 0M235.9 566.6a1.15 1.15 0 1 0 2.3 0a1.15 1.15 0 1 0 -2.3 0M239.5 569.1a1.15 1.15 0 1 0 2.3 0a1.15 1.15 0 1 0 -2.3 0M237.7 571.8a1.15 1.15 0 1 0 2.3 0a1.15 1.15 0 1 0 -2.3 0M239.0 576.7a1.15 1.15 0 1 0 2.3 0a1.15 1.15 0 1 0 -2.3 0M236.0 581.9a1.15 1.15 0 1 0 2.3 0a1.15 1.15 0 1 0 -2.3 0M233.0 582.7a1.15 1.15 0 1 0 2.3 0a1.15 1.15 0 1 0 -2.3 0M230.0 581.9a1.15 1.15 0 1 0 2.3 0a1.15 1.15 0 1 0 -2.3 0M227.0 576.7a1.15 1.15 0 1 0 2.3 0a1.15 1.15 0 1 0 -2.3 0M238.2 573.7a1.15 1.15 0 1 0 2.3 0a1.15 1.15 0 1 0 -2.3 0M230.3 595.4a1.15 1.15 0 1 0 2.3 0a1.15 1.15 0 1 0 -2.3 0M227.1 600.4a1.15 1.15 0 1 0 2.3 0a1.15 1.15 0 1 0 -2.3 0M219.6 593.9a1.15 1.15 0 1 0 2.3 0a1.15 1.15 0 1 0 -2.3 0M221.2 591.2a1.15 1.15 0 1 0 2.3 0a1.15 1.15 0 1 0 -2.3 0M227.1 590.4a1.15 1.15 0 1 0 2.3 0a1.15 1.15 0 1 0 -2.3 0M221.3 600.1a1.15 1.15 0 1 0 2.3 0a1.15 1.15 0 1 0 -2.3 0M224.2 604.6a1.15 1.15 0 1 0 2.3 0a1.15 1.15 0 1 0 -2.3 0M220.7 612.7a1.15 1.15 0 1 0 2.3 0a1.15 1.15 0 1 0 -2.3 0M219.8 614.5a1.15 1.15 0 1 0 2.3 0a1.15 1.15 0 1 0 -2.3 0M215.3 616.0a1.15 1.15 0 1 0 2.3 0a1.15 1.15 0 1 0 -2.3 0M215.3 613.0a1.15 1.15 0 1 0 2.3 0a1.15 1.15 0 1 0 -2.3 0M212.3 619.0a1.15 1.15 0 1 0 2.3 0a1.15 1.15 0 1 0 -2.3 0M210.5 622.1a1.15 1.15 0 1 0 2.3 0a1.15 1.15 0 1 0 -2.3 0M214.4 624.3a1.15 1.15 0 1 0 2.3 0a1.15 1.15 0 1 0 -2.3 0M218.7 633.4a1.15 1.15 0 1 0 2.3 0a1.15 1.15 0 1 0 -2.3 0M208.9 643.9a1.15 1.15 0 1 0 2.3 0a1.15 1.15 0 1 0 -2.3 0M198.7 638.0a1.15 1.15 0 1 0 2.3 0a1.15 1.15 0 1 0 -2.3 0M197.8 631.8a1.15 1.15 0 1 0 2.3 0a1.15 1.15 0 1 0 -2.3 0M200.5 626.3a1.15 1.15 0 1 0 2.3 0a1.15 1.15 0 1 0 -2.3 0M212.0 623.6a1.15 1.15 0 1 0 2.3 0a1.15 1.15 0 1 0 -2.3 0M214.7 625.2a1.15 1.15 0 1 0 2.3 0a1.15 1.15 0 1 0 -2.3 0M216.8 627.5a1.15 1.15 0 1 0 2.3 0a1.15 1.15 0 1 0 -2.3 0" fill="#2A7F2A"/>
<path d="M208.7 503.9a1.15 1.15 0 1 0 2.3 0a1.15 1.15 0 1 0 -2.3 0M207.8 508.9a1.15 1.15 0 1 0 2.3 0a1.15 1.15 0 1 0 -2.3 0M212.7 507.4a1.15 1.15 0 1 0 2.3 0a1.15 1.15 0 1 0 -2.3 0M214.7 509.2a1.15 1.15 0 1 0 2.3 0a1.15 1.15 0 1 0 -2.3 0M326.5 542.5a1.15 1.15 0 1 0 2.3 0a1.15 1.15 0 1 0 -2.3 0M329.2 523.7a1.15 1.15 0 1 0 2.3 0a1.15 1.15 0 1 0 -2.3 0M331.4 526.1a1.15 1.15 0 1 0 2.3 0a1.15 1.15 0 1 0 -2.3 0M241.1 557.5a1.15 1.15 0 1 0 2.3 0a1.15 1.15 0 1 0 -2.3 0M246.3 553.3a1.15 1.15 0 1 0 2.3 0a1.15 1.15 0 1 0 -2.3 0M229.2 581.6a1.15 1.15 0 1 0 2.3 0a1.15 1.15 0 1 0 -2.3 0" fill="#138A8A"/>
<path d="M224.4 519.0a1.15 1.15 0 1 0 2.3 0a1.15 1.15 0 1 0 -2.3 0M226.8 521.6a1.15 1.15 0 1 0 2.3 0a1.15 1.15 0 1 0 -2.3 0M231.4 534.1a1.15 1.15 0 1 0 2.3 0a1.15 1.15 0 1 0 -2.3 0M234.3 530.7a1.15 1.15 0 1 0 2.3 0a1.15 1.15 0 1 0 -2.3 0M236.8 532.8a1.15 1.15 0 1 0 2.3 0a1.15 1.15 0 1 0 -2.3 0M236.6 538.3a1.15 1.15 0 1 0 2.3 0a1.15 1.15 0 1 0 -2.3 0M239.4 534.9a1.15 1.15 0 1 0 2.3 0a1.15 1.15 0 1 0 -2.3 0M244.2 544.7a1.15 1.15 0 1 0 2.3 0a1.15 1.15 0 1 0 -2.3 0M247.1 541.3a1.15 1.15 0 1 0 2.3 0a1.15 1.15 0 1 0 -2.3 0M241.3 552.4a1.15 1.15 0 1 0 2.3 0a1.15 1.15 0 1 0 -2.3 0M252.2 548.6a1.15 1.15 0 1 0 2.3 0a1.15 1.15 0 1 0 -2.3 0M255.0 547.5a1.15 1.15 0 1 0 2.3 0a1.15 1.15 0 1 0 -2.3 0M257.8 546.3a1.15 1.15 0 1 0 2.3 0a1.15 1.15 0 1 0 -2.3 0M260.7 545.2a1.15 1.15 0 1 0 2.3 0a1.15 1.15 0 1 0 -2.3 0M259.0 541.1a1.15 1.15 0 1 0 2.3 0a1.15 1.15 0 1 0 -2.3 0M261.8 540.0a1.15 1.15 0 1 0 2.3 0a1.15 1.15 0 1 0 -2.3 0M256.8 529.2a1.15 1.15 0 1 0 2.3 0a1.15 1.15 0 1 0 -2.3 0M282.1 544.6a1.15 1.15 0 1 0 2.3 0a1.15 1.15 0 1 0 -2.3 0M277.9 549.5a1.15 1.15 0 1 0 2.3 0a1.15 1.15 0 1 0 -2.3 0M274.9 550.7a1.15 1.15 0 1 0 2.3 0a1.15 1.15 0 1 0 -2.3 0M268.6 549.5a1.15 1.15 0 1 0 2.3 0a1.15 1.15 0 1 0 -2.3 0M263.9 541.4a1.15 1.15 0 1 0 2.3 0a1.15 1.15 0 1 0 -2.3 0M266.0 535.4a1.15 1.15 0 1 0 2.3 0a1.15 1.15 0 1 0 -2.3 0M282.1 538.2a1.15 1.15 0 1 0 2.3 0a1.15 1.15 0 1 0 -2.3 0M283.4 541.5a1.15 1.15 0 1 0 2.3 0a1.15 1.15 0 1 0 -2.3 0M285.6 540.9a1.15 1.15 0 1 0 2.3 0a1.15 1.15 0 1 0 -2.3 0M291.9 542.5a1.15 1.15 0 1 0 2.3 0a1.15 1.15 0 1 0 -2.3 0M294.5 534.6a1.15 1.15 0 1 0 2.3 0a1.15 1.15 0 1 0 -2.3 0M298.1 533.8a1.15 1.15 0 1 0 2.3 0a1.15 1.15 0 1 0 -2.3 0M310.7 535.8a1.15 1.15 0 1 0 2.3 0a1.15 1.15 0 1 0 -2.3 0M333.2 532.2a1.15 1.15 0 1 0 2.3 0a1.15 1.15 0 1 0 -2.3 0M331.4 538.3a1.15 1.15 0 1 0 2.3 0a1.15 1.15 0 1 0 -2.3 0M329.2 540.7a1.15 1.15 0 1 0 2.3 0a1.15 1.15 0 1 0 -2.3 0M323.5 543.4a1.15 1.15 0 1 0 2.3 0a1.15 1.15 0 1 0 -2.3 0M312.3 538.3a1.15 1.15 0 1 0 2.3 0a1.15 1.15 0 1 0 -2.3 0M311.0 535.4a1.15 1.15 0 1 0 2.3 0a1.15 1.15 0 1 0 -2.3 0M312.3 526.1a1.15 1.15 0 1 0 2.3 0a1.15 1.15 0 1 0 -2.3 0M320.2 521.0a1.15 1.15 0 1 0 2.3 0a1.15 1.15 0 1 0 -2.3 0M323.5 521.0a1.15 1.15 0 1 0 2.3 0a1.15 1.15 0 1 0 -2.3 0M342.6 530.5a1.15 1.15 0 1 0 2.3 0a1.15 1.15 0 1 0 -2.3 0M345.6 530.0a1.15 1.15 0 1 0 2.3 0a1.15 1.15 0 1 0 -2.3 0M344.9 525.6a1.15 1.15 0 1 0 2.3 0a1.15 1.15 0 1 0 -2.3 0M345.4 527.3a1.15 1.15 0 1 0 2.3 0a1.15 1.15 0 1 0 -2.3 0M346.5 524.2a1.15 1.15 0 1 0 2.3 0a1.15 1.15 0 1 0 -2.3 0M243.3 563.6a1.15 1.15 0 1 0 2.3 0a1.15 1.15 0 1 0 -2.3 0M237.8 563.9a1.15 1.15 0 1 0 2.3 0a1.15 1.15 0 1 0 -2.3 0M234.0 569.4a1.15 1.15 0 1 0 2.3 0a1.15 1.15 0 1 0 -2.3 0M227.9 579.7a1.15 1.15 0 1 0 2.3 0a1.15 1.15 0 1 0 -2.3 0M227.9 573.7a1.15 1.15 0 1 0 2.3 0a1.15 1.15 0 1 0 -2.3 0M233.0 570.7a1.15 1.15 0 1 0 2.3 0a1.15 1.15 0 1 0 -2.3 0M236.0 571.5a1.15 1.15 0 1 0 2.3 0a1.15 1.15 0 1 0 -2.3 0M229.5 598.4a1.15 1.15 0 1 0 2.3 0a1.15 1.15 0 1 0 -2.3 0M224.1 600.8a1.15 1.15 0 1 0 2.3 0a1.15 1.15 0 1 0 -2.3 0M221.2 599.6a1.15 1.15 0 1 0 2.3 0a1.15 1.15 0 1 0 -2.3 0M224.1 590.0a1.15 1.15 0 1 0 2.3 0a1.15 1.15 0 1 0 -2.3 0M220.2 602.8a1.15 1.15 0 1 0 2.3 0a1.15 1.15 0 1 0 -2.3 0M219.0 605.5a1.15 1.15 0 1 0 2.3 0a1.15 1.15 0 1 0 -2.3 0M221.8 610.0a1.15 1.15 0 1 0 2.3 0a1.15 1.15 0 1 0 -2.3 0M216.6 610.9a1.15 1.15 0 1 0 2.3 0a1.15 1.15 0 1 0 -2.3 0M218.1 616.9a1.15 1.15 0 1 0 2.3 0a1.15 1.15 0 1 0 -2.3 0M218.1 612.1a1.15 1.15 0 1 0 2.3 0a1.15 1.15 0 1 0 -2.3 0M216.8 639.3a1.15 1.15 0 1 0 2.3 0a1.15 1.15 0 1 0 -2.3 0M214.7 641.6a1.15 1.15 0 1 0 2.3 0a1.15 1.15 0 1 0 -2.3 0M205.8 623.2a1.15 1.15 0 1 0 2.3 0a1.15 1.15 0 1 0 -2.3 0M208.9 622.9a1.15 1.15 0 1 0 2.3 0a1.15 1.15 0 1 0 -2.3 0M218.2 630.3a1.15 1.15 0 1 0 2.3 0a1.15 1.15 0 1 0 -2.3 0" fill="#4B5D23"/>
<path d="M253.3 543.4a1.15 1.15 0 1 0 2.3 0a1.15 1.15 0 1 0 -2.3 0M256.2 542.3a1.15 1.15 0 1 0 2.3 0a1.15 1.15 0 1 0 -2.3 0M263.5 544.0a1.15 1.15 0 1 0 2.3 0a1.15 1.15 0 1 0 -2.3 0" fill="#E07A10"/>
<path d="M246.3 558.7a1.15 1.15 0 1 0 2.3 0a1.15 1.15 0 1 0 -2.3 0M243.4 559.3a1.15 1.15 0 1 0 2.3 0a1.15 1.15 0 1 0 -2.3 0M233.1 583.6a1.15 1.15 0 1 0 2.3 0a1.15 1.15 0 1 0 -2.3 0M228.0 584.0a1.15 1.15 0 1 0 2.3 0a1.15 1.15 0 1 0 -2.3 0M231.9 586.0a1.15 1.15 0 1 0 2.3 0a1.15 1.15 0 1 0 -2.3 0M226.8 586.4a1.15 1.15 0 1 0 2.3 0a1.15 1.15 0 1 0 -2.3 0M230.7 588.4a1.15 1.15 0 1 0 2.3 0a1.15 1.15 0 1 0 -2.3 0M225.6 588.8a1.15 1.15 0 1 0 2.3 0a1.15 1.15 0 1 0 -2.3 0M229.5 590.8a1.15 1.15 0 1 0 2.3 0a1.15 1.15 0 1 0 -2.3 0" fill="#1A3CA0"/>
<path d="M383.1 500.9L381.6 503.4M381.6 503.4L378.8 503.4M378.8 503.4L377.3 500.9M377.3 500.9L378.8 498.4M378.8 498.4L381.6 498.4M381.6 498.4L383.1 500.9M381.9 506.3L384.3 502.7M384.8 508.3L387.2 504.6M381.9 506.3L384.8 508.3M384.3 502.7L387.2 504.6M387.7 510.2L390.1 506.6M384.8 508.3L387.7 510.2M387.2 504.6L390.1 506.6M399.8 513.3L399.1 516.3M399.1 516.3L397.0 518.6M397.0 518.6L394.1 519.8M394.1 519.8L391.0 519.4M391.0 519.4L388.4 517.6M388.4 517.6L387.0 514.9M387.0 514.9L387.0 511.7M387.0 511.7L388.4 509.0M388.4 509.0L391.0 507.2M391.0 507.2L394.1 506.8M394.1 506.8L397.0 508.0M397.0 508.0L399.1 510.3M399.1 510.3L399.8 513.3M397.1 521.2L400.1 518.0M400.1 524.0L403.1 520.8M397.1 521.2L400.1 524.0M400.1 518.0L403.1 520.8M410.6 526.4L409.6 529.2M409.6 529.2L407.0 530.7M407.0 530.7L404.0 530.2M404.0 530.2L402.1 527.9M402.1 527.9L402.1 524.9M402.1 524.9L404.0 522.6M404.0 522.6L407.0 522.1M407.0 522.1L409.6 523.6M409.6 523.6L410.6 526.4M409.1 533.2L412.1 530.0M411.5 535.4L414.5 532.2M409.1 533.2L411.5 535.4M412.1 530.0L414.5 532.2M413.8 537.6L416.8 534.4M411.5 535.4L413.8 537.6M414.5 532.2L416.8 534.4M416.2 539.8L419.2 536.6M413.8 537.6L416.2 539.8M416.8 534.4L419.2 536.6M418.5 542.0L421.5 538.8M416.2 539.8L418.5 542.0M419.2 536.6L421.5 538.8M420.9 544.2L423.9 541.0M418.5 542.0L420.9 544.2M421.5 538.8L423.9 541.0M419.8 521.5L420.9 518.4M420.9 518.4L422.6 515.6M422.6 515.6L424.9 513.2M424.9 513.2L427.6 511.4M427.6 511.4L430.6 510.2M430.6 510.2L433.9 509.7M433.9 509.7L437.1 509.9M437.1 509.9L440.3 510.8M440.3 510.8L443.2 512.3M443.2 512.3L445.7 514.5M445.7 514.5L447.6 517.1M447.6 517.1L449.0 520.1M449.0 520.1L449.7 523.3M449.7 523.3L449.7 526.5M449.7 526.5L449.0 529.7M449.0 529.7L447.6 532.7M447.6 532.7L445.7 535.3M445.7 535.3L443.2 537.4M443.2 537.4L440.3 539.0M418.0 528.5L419.5 532.0M419.5 532.0L421.0 535.0M421.0 535.0L422.4 538.2M419.9 556.0L418.3 558.7M418.3 558.7L415.9 560.8M415.9 560.8L413.2 562.3M413.2 562.3L410.1 563.0M410.1 563.0L406.9 563.0M406.9 563.0L403.9 562.1M403.9 562.1L401.2 560.4M401.2 560.4L399.0 558.2M399.0 558.2L397.4 555.4M397.4 555.4L396.6 552.4M396.6 552.4L396.6 549.2M396.6 549.2L397.4 546.2M397.4 546.2L399.0 543.4M399.0 543.4L401.2 541.2M401.2 541.2L403.9 539.5M403.9 539.5L406.9 538.6M406.9 538.6L410.1 538.6M410.1 538.6L413.2 539.3M413.2 539.3L415.9 540.8M415.9 540.8L418.3 542.9M418.3 542.9L419.9 545.6M421.6 551.3L426.0 551.7M421.3 553.9L425.7 554.4M421.6 551.3L421.3 553.9M426.0 551.7L425.7 554.4M421.1 556.6L425.5 557.1M421.3 553.9L421.1 556.6M425.7 554.4L425.5 557.1M420.8 559.3L425.2 559.7M421.1 556.6L420.8 559.3M425.5 557.1L425.2 559.7M425.8 565.3L424.6 568.3M424.6 568.3L421.6 569.5M421.6 569.5L418.6 568.3M418.6 568.3L417.4 565.3M417.4 565.3L418.6 562.3M418.6 562.3L421.6 561.1M421.6 561.1L424.6 562.3M424.6 562.3L425.8 565.3M418.8 570.2L423.2 571.0M418.2 573.4L422.5 574.3M418.8 570.2L418.2 573.4M423.2 571.0L422.5 574.3M417.5 576.6L421.8 577.5M418.2 573.4L417.5 576.6M422.5 574.3L421.8 577.5M416.8 579.8L421.2 580.7M417.5 576.6L416.8 579.8M421.8 577.5L421.2 580.7M416.2 583.0L420.5 583.9M416.8 579.8L416.2 583.0M421.2 580.7L420.5 583.9M415.5 586.2L419.8 587.1M416.2 583.0L415.5 586.2M420.5 583.9L419.8 587.1M414.8 589.4L419.2 590.3M415.5 586.2L414.8 589.4M419.8 587.1L419.2 590.3M414.2 592.6L418.5 593.5M414.8 589.4L414.2 592.6M419.2 590.3L418.5 593.5M413.5 595.8L417.8 596.7M414.2 592.6L413.5 595.8M418.5 593.5L417.8 596.7M412.8 599.1L417.2 599.9M413.5 595.8L412.8 599.1M417.8 596.7L417.2 599.9M412.2 602.3L416.5 603.2M412.8 599.1L412.2 602.3M417.2 599.9L416.5 603.2M411.5 605.5L415.8 606.4M412.2 602.3L411.5 605.5M416.5 603.2L415.8 606.4M410.8 608.7L415.2 609.6M411.5 605.5L410.8 608.7M415.8 606.4L415.2 609.6M410.2 611.9L414.5 612.8M410.8 608.7L410.2 611.9M415.2 609.6L414.5 612.8M409.5 615.1L413.8 616.0M410.2 611.9L409.5 615.1M414.5 612.8L413.8 616.0M408.8 618.3L413.2 619.2M409.5 615.1L408.8 618.3M413.8 616.0L413.2 619.2M408.2 621.5L412.5 622.4M408.8 618.3L408.2 621.5M413.2 619.2L412.5 622.4M407.5 624.7L411.8 625.6M408.2 621.5L407.5 624.7M412.5 622.4L411.8 625.6M406.8 628.0L411.2 628.8M407.5 624.7L406.8 628.0M411.8 625.6L411.2 628.8M411.9 632.2L410.3 634.4M410.3 634.4L407.7 633.6M407.7 633.6L407.7 630.8M407.7 630.8L410.3 630.0M410.3 630.0L411.9 632.2M411.9 641.6L410.5 644.4M410.5 644.4L407.5 645.1M407.5 645.1L405.1 643.2M405.1 643.2L405.1 640.0M405.1 640.0L407.5 638.1M407.5 638.1L410.5 638.8M410.5 638.8L411.9 641.6M431.9 547.5L431.1 543.1M435.1 546.8L434.3 542.5M431.9 547.5L435.1 546.8M431.1 543.1L434.3 542.5M438.3 546.2L437.4 541.9M435.1 546.8L438.3 546.2M434.3 542.5L437.4 541.9M441.5 545.5L440.6 541.2M438.3 546.2L441.5 545.5M437.4 541.9L440.6 541.2M444.7 544.9L443.8 540.6M441.5 545.5L444.7 544.9M440.6 541.2L443.8 540.6M447.9 544.2L447.0 539.9M444.7 544.9L447.9 544.2M443.8 540.6L447.0 539.9M451.1 543.6L450.2 539.3M447.9 544.2L451.1 543.6M447.0 539.9L450.2 539.3M454.3 542.9L453.4 538.6M451.1 543.6L454.3 542.9M450.2 539.3L453.4 538.6M457.4 542.3L456.6 538.0M454.3 542.9L457.4 542.3M453.4 538.6L456.6 538.0M460.6 541.7L459.8 537.3M457.4 542.3L460.6 541.7M456.6 538.0L459.8 537.3M485.8 538.7L485.4 541.8M485.4 541.8L484.3 544.7M484.3 544.7L482.4 547.3M482.4 547.3L480.0 549.3M480.0 549.3L477.2 550.6M477.2 550.6L474.1 551.2M474.1 551.2L471.0 551.0M471.0 551.0L468.0 550.0M468.0 550.0L465.3 548.3M465.3 548.3L463.2 546.0M463.2 546.0L461.7 543.3M461.7 543.3L460.9 540.3M460.9 540.3L460.9 537.1M460.9 537.1L461.7 534.1M461.7 534.1L463.2 531.4M463.2 531.4L465.3 529.1M465.3 529.1L468.0 527.4M468.0 527.4L471.0 526.4M471.0 526.4L474.1 526.2M474.1 526.2L477.2 526.8M477.2 526.8L480.0 528.1M480.0 528.1L482.4 530.1M482.4 530.1L484.3 532.7M484.3 532.7L485.4 535.6M485.4 535.6L485.8 538.7M486.7 537.7L486.1 533.3M490.3 537.1L489.6 532.8M486.7 537.7L490.3 537.1M486.1 533.3L489.6 532.8M493.8 536.5L493.1 532.2M490.3 537.1L493.8 536.5M489.6 532.8L493.1 532.2M497.3 536.0L496.7 531.6M493.8 536.5L497.3 536.0M493.1 532.2L496.7 531.6M509.9 533.0L509.1 536.1M509.1 536.1L506.8 538.5M506.8 538.5L503.6 539.3M503.6 539.3L500.5 538.5M500.5 538.5L498.1 536.1M498.1 536.1L497.3 533.0M497.3 533.0L498.1 529.9M498.1 529.9L500.5 527.5M500.5 527.5L503.6 526.7M503.6 526.7L506.8 527.5M506.8 527.5L509.1 529.9M509.1 529.9L509.9 533.0" fill="none" stroke="#333" stroke-width="0.75" stroke-opacity="0.9"/>
<path d="M381.9 500.9a1.15 1.15 0 1 0 2.3 0a1.15 1.15 0 1 0 -2.3 0M380.5 503.4a1.15 1.15 0 1 0 2.3 0a1.15 1.15 0 1 0 -2.3 0M377.6 503.4a1.15 1.15 0 1 0 2.3 0a1.15 1.15 0 1 0 -2.3 0M376.2 500.9a1.15 1.15 0 1 0 2.3 0a1.15 1.15 0 1 0 -2.3 0M377.6 498.4a1.15 1.15 0 1 0 2.3 0a1.15 1.15 0 1 0 -2.3 0M380.5 498.4a1.15 1.15 0 1 0 2.3 0a1.15 1.15 0 1 0 -2.3 0M398.7 513.3a1.15 1.15 0 1 0 2.3 0a1.15 1.15 0 1 0 -2.3 0M397.9 516.3a1.15 1.15 0 1 0 2.3 0a1.15 1.15 0 1 0 -2.3 0M395.8 518.6a1.15 1.15 0 1 0 2.3 0a1.15 1.15 0 1 0 -2.3 0M385.8 514.9a1.15 1.15 0 1 0 2.3 0a1.15 1.15 0 1 0 -2.3 0M409.4 526.4a1.15 1.15 0 1 0 2.3 0a1.15 1.15 0 1 0 -2.3 0M408.4 529.2a1.15 1.15 0 1 0 2.3 0a1.15 1.15 0 1 0 -2.3 0M405.8 530.7a1.15 1.15 0 1 0 2.3 0a1.15 1.15 0 1 0 -2.3 0M402.9 530.2a1.15 1.15 0 1 0 2.3 0a1.15 1.15 0 1 0 -2.3 0M400.9 527.9a1.15 1.15 0 1 0 2.3 0a1.15 1.15 0 1 0 -2.3 0M400.9 524.9a1.15 1.15 0 1 0 2.3 0a1.15 1.15 0 1 0 -2.3 0M402.9 522.6a1.15 1.15 0 1 0 2.3 0a1.15 1.15 0 1 0 -2.3 0M405.8 522.1a1.15 1.15 0 1 0 2.3 0a1.15 1.15 0 1 0 -2.3 0M408.4 523.6a1.15 1.15 0 1 0 2.3 0a1.15 1.15 0 1 0 -2.3 0M426.4 511.4a1.15 1.15 0 1 0 2.3 0a1.15 1.15 0 1 0 -2.3 0M429.5 510.2a1.15 1.15 0 1 0 2.3 0a1.15 1.15 0 1 0 -2.3 0M436.0 509.9a1.15 1.15 0 1 0 2.3 0a1.15 1.15 0 1 0 -2.3 0M446.5 517.1a1.15 1.15 0 1 0 2.3 0a1.15 1.15 0 1 0 -2.3 0M447.9 520.1a1.15 1.15 0 1 0 2.3 0a1.15 1.15 0 1 0 -2.3 0M448.6 526.5a1.15 1.15 0 1 0 2.3 0a1.15 1.15 0 1 0 -2.3 0M446.5 532.7a1.15 1.15 0 1 0 2.3 0a1.15 1.15 0 1 0 -2.3 0M442.0 537.4a1.15 1.15 0 1 0 2.3 0a1.15 1.15 0 1 0 -2.3 0M416.9 528.5a1.15 1.15 0 1 0 2.3 0a1.15 1.15 0 1 0 -2.3 0M418.4 532.0a1.15 1.15 0 1 0 2.3 0a1.15 1.15 0 1 0 -2.3 0M419.9 535.0a1.15 1.15 0 1 0 2.3 0a1.15 1.15 0 1 0 -2.3 0M421.2 538.2a1.15 1.15 0 1 0 2.3 0a1.15 1.15 0 1 0 -2.3 0M412.0 562.3a1.15 1.15 0 1 0 2.3 0a1.15 1.15 0 1 0 -2.3 0M408.9 563.0a1.15 1.15 0 1 0 2.3 0a1.15 1.15 0 1 0 -2.3 0M397.8 558.2a1.15 1.15 0 1 0 2.3 0a1.15 1.15 0 1 0 -2.3 0M405.8 538.6a1.15 1.15 0 1 0 2.3 0a1.15 1.15 0 1 0 -2.3 0M408.9 538.6a1.15 1.15 0 1 0 2.3 0a1.15 1.15 0 1 0 -2.3 0M414.8 540.8a1.15 1.15 0 1 0 2.3 0a1.15 1.15 0 1 0 -2.3 0M417.1 542.9a1.15 1.15 0 1 0 2.3 0a1.15 1.15 0 1 0 -2.3 0M418.8 545.6a1.15 1.15 0 1 0 2.3 0a1.15 1.15 0 1 0 -2.3 0M440.4 545.5a1.15 1.15 0 1 0 2.3 0a1.15 1.15 0 1 0 -2.3 0M442.7 540.6a1.15 1.15 0 1 0 2.3 0a1.15 1.15 0 1 0 -2.3 0M449.9 543.6a1.15 1.15 0 1 0 2.3 0a1.15 1.15 0 1 0 -2.3 0M452.2 538.6a1.15 1.15 0 1 0 2.3 0a1.15 1.15 0 1 0 -2.3 0M484.7 538.7a1.15 1.15 0 1 0 2.3 0a1.15 1.15 0 1 0 -2.3 0M484.3 541.8a1.15 1.15 0 1 0 2.3 0a1.15 1.15 0 1 0 -2.3 0M483.1 544.7a1.15 1.15 0 1 0 2.3 0a1.15 1.15 0 1 0 -2.3 0M481.3 547.3a1.15 1.15 0 1 0 2.3 0a1.15 1.15 0 1 0 -2.3 0M476.0 550.6a1.15 1.15 0 1 0 2.3 0a1.15 1.15 0 1 0 -2.3 0M472.9 551.2a1.15 1.15 0 1 0 2.3 0a1.15 1.15 0 1 0 -2.3 0M469.8 551.0a1.15 1.15 0 1 0 2.3 0a1.15 1.15 0 1 0 -2.3 0M466.8 550.0a1.15 1.15 0 1 0 2.3 0a1.15 1.15 0 1 0 -2.3 0M464.2 548.3a1.15 1.15 0 1 0 2.3 0a1.15 1.15 0 1 0 -2.3 0M462.0 546.0a1.15 1.15 0 1 0 2.3 0a1.15 1.15 0 1 0 -2.3 0M460.5 543.3a1.15 1.15 0 1 0 2.3 0a1.15 1.15 0 1 0 -2.3 0M459.7 540.3a1.15 1.15 0 1 0 2.3 0a1.15 1.15 0 1 0 -2.3 0M460.5 534.1a1.15 1.15 0 1 0 2.3 0a1.15 1.15 0 1 0 -2.3 0M462.0 531.4a1.15 1.15 0 1 0 2.3 0a1.15 1.15 0 1 0 -2.3 0M464.2 529.1a1.15 1.15 0 1 0 2.3 0a1.15 1.15 0 1 0 -2.3 0M466.8 527.4a1.15 1.15 0 1 0 2.3 0a1.15 1.15 0 1 0 -2.3 0M469.8 526.4a1.15 1.15 0 1 0 2.3 0a1.15 1.15 0 1 0 -2.3 0M476.0 526.8a1.15 1.15 0 1 0 2.3 0a1.15 1.15 0 1 0 -2.3 0M478.8 528.1a1.15 1.15 0 1 0 2.3 0a1.15 1.15 0 1 0 -2.3 0M483.1 532.7a1.15 1.15 0 1 0 2.3 0a1.15 1.15 0 1 0 -2.3 0M484.3 535.6a1.15 1.15 0 1 0 2.3 0a1.15 1.15 0 1 0 -2.3 0M485.6 537.7a1.15 1.15 0 1 0 2.3 0a1.15 1.15 0 1 0 -2.3 0M484.9 533.3a1.15 1.15 0 1 0 2.3 0a1.15 1.15 0 1 0 -2.3 0M489.1 537.1a1.15 1.15 0 1 0 2.3 0a1.15 1.15 0 1 0 -2.3 0M488.4 532.8a1.15 1.15 0 1 0 2.3 0a1.15 1.15 0 1 0 -2.3 0M492.7 536.5a1.15 1.15 0 1 0 2.3 0a1.15 1.15 0 1 0 -2.3 0M492.0 532.2a1.15 1.15 0 1 0 2.3 0a1.15 1.15 0 1 0 -2.3 0M496.2 536.0a1.15 1.15 0 1 0 2.3 0a1.15 1.15 0 1 0 -2.3 0M495.5 531.6a1.15 1.15 0 1 0 2.3 0a1.15 1.15 0 1 0 -2.3 0M508.8 533.0a1.15 1.15 0 1 0 2.3 0a1.15 1.15 0 1 0 -2.3 0M507.9 536.1a1.15 1.15 0 1 0 2.3 0a1.15 1.15 0 1 0 -2.3 0M505.6 538.5a1.15 1.15 0 1 0 2.3 0a1.15 1.15 0 1 0 -2.3 0M502.5 539.3a1.15 1.15 0 1 0 2.3 0a1.15 1.15 0 1 0 -2.3 0M499.3 538.5a1.15 1.15 0 1 0 2.3 0a1.15 1.15 0 1 0 -2.3 0M497.0 536.1a1.15 1.15 0 1 0 2.3 0a1.15 1.15 0 1 0 -2.3 0M496.2 533.0a1.15 1.15 0 1 0 2.3 0a1.15 1.15 0 1 0 -2.3 0M497.0 529.9a1.15 1.15 0 1 0 2.3 0a1.15 1.15 0 1 0 -2.3 0M499.3 527.5a1.15 1.15 0 1 0 2.3 0a1.15 1.15 0 1 0 -2.3 0M502.5 526.7a1.15 1.15 0 1 0 2.3 0a1.15 1.15 0 1 0 -2.3 0M505.6 527.5a1.15 1.15 0 1 0 2.3 0a1.15 1.15 0 1 0 -2.3 0M507.9 529.9a1.15 1.15 0 1 0 2.3 0a1.15 1.15 0 1 0 -2.3 0" fill="#B5121B"/>
<path d="M380.7 506.3a1.15 1.15 0 1 0 2.3 0a1.15 1.15 0 1 0 -2.3 0M383.2 502.7a1.15 1.15 0 1 0 2.3 0a1.15 1.15 0 1 0 -2.3 0M386.1 504.6a1.15 1.15 0 1 0 2.3 0a1.15 1.15 0 1 0 -2.3 0M386.5 510.2a1.15 1.15 0 1 0 2.3 0a1.15 1.15 0 1 0 -2.3 0M395.8 508.0a1.15 1.15 0 1 0 2.3 0a1.15 1.15 0 1 0 -2.3 0M418.0 536.6a1.15 1.15 0 1 0 2.3 0a1.15 1.15 0 1 0 -2.3 0M420.4 538.8a1.15 1.15 0 1 0 2.3 0a1.15 1.15 0 1 0 -2.3 0M422.8 541.0a1.15 1.15 0 1 0 2.3 0a1.15 1.15 0 1 0 -2.3 0M419.7 518.4a1.15 1.15 0 1 0 2.3 0a1.15 1.15 0 1 0 -2.3 0M448.6 523.3a1.15 1.15 0 1 0 2.3 0a1.15 1.15 0 1 0 -2.3 0M447.9 529.7a1.15 1.15 0 1 0 2.3 0a1.15 1.15 0 1 0 -2.3 0M439.1 539.0a1.15 1.15 0 1 0 2.3 0a1.15 1.15 0 1 0 -2.3 0M420.2 553.9a1.15 1.15 0 1 0 2.3 0a1.15 1.15 0 1 0 -2.3 0M424.6 554.4a1.15 1.15 0 1 0 2.3 0a1.15 1.15 0 1 0 -2.3 0M419.9 556.6a1.15 1.15 0 1 0 2.3 0a1.15 1.15 0 1 0 -2.3 0M424.0 559.7a1.15 1.15 0 1 0 2.3 0a1.15 1.15 0 1 0 -2.3 0M416.4 576.6a1.15 1.15 0 1 0 2.3 0a1.15 1.15 0 1 0 -2.3 0M420.0 580.7a1.15 1.15 0 1 0 2.3 0a1.15 1.15 0 1 0 -2.3 0M413.7 589.4a1.15 1.15 0 1 0 2.3 0a1.15 1.15 0 1 0 -2.3 0M418.0 590.3a1.15 1.15 0 1 0 2.3 0a1.15 1.15 0 1 0 -2.3 0M417.3 593.5a1.15 1.15 0 1 0 2.3 0a1.15 1.15 0 1 0 -2.3 0M416.7 596.7a1.15 1.15 0 1 0 2.3 0a1.15 1.15 0 1 0 -2.3 0M416.0 599.9a1.15 1.15 0 1 0 2.3 0a1.15 1.15 0 1 0 -2.3 0M411.0 602.3a1.15 1.15 0 1 0 2.3 0a1.15 1.15 0 1 0 -2.3 0M414.7 606.4a1.15 1.15 0 1 0 2.3 0a1.15 1.15 0 1 0 -2.3 0M409.7 608.7a1.15 1.15 0 1 0 2.3 0a1.15 1.15 0 1 0 -2.3 0M412.7 616.0a1.15 1.15 0 1 0 2.3 0a1.15 1.15 0 1 0 -2.3 0M407.7 618.3a1.15 1.15 0 1 0 2.3 0a1.15 1.15 0 1 0 -2.3 0M411.3 622.4a1.15 1.15 0 1 0 2.3 0a1.15 1.15 0 1 0 -2.3 0M410.7 625.6a1.15 1.15 0 1 0 2.3 0a1.15 1.15 0 1 0 -2.3 0M410.0 628.8a1.15 1.15 0 1 0 2.3 0a1.15 1.15 0 1 0 -2.3 0M410.8 632.2a1.15 1.15 0 1 0 2.3 0a1.15 1.15 0 1 0 -2.3 0M409.2 634.4a1.15 1.15 0 1 0 2.3 0a1.15 1.15 0 1 0 -2.3 0M429.9 543.1a1.15 1.15 0 1 0 2.3 0a1.15 1.15 0 1 0 -2.3 0M433.1 542.5a1.15 1.15 0 1 0 2.3 0a1.15 1.15 0 1 0 -2.3 0M446.7 544.2a1.15 1.15 0 1 0 2.3 0a1.15 1.15 0 1 0 -2.3 0M445.9 539.9a1.15 1.15 0 1 0 2.3 0a1.15 1.15 0 1 0 -2.3 0M449.0 539.3a1.15 1.15 0 1 0 2.3 0a1.15 1.15 0 1 0 -2.3 0M456.3 542.3a1.15 1.15 0 1 0 2.3 0a1.15 1.15 0 1 0 -2.3 0M459.5 541.7a1.15 1.15 0 1 0 2.3 0a1.15 1.15 0 1 0 -2.3 0" fill="#138A8A"/>
<path d="M383.6 508.3a1.15 1.15 0 1 0 2.3 0a1.15 1.15 0 1 0 -2.3 0M389.0 506.6a1.15 1.15 0 1 0 2.3 0a1.15 1.15 0 1 0 -2.3 0M392.9 519.8a1.15 1.15 0 1 0 2.3 0a1.15 1.15 0 1 0 -2.3 0M389.8 519.4a1.15 1.15 0 1 0 2.3 0a1.15 1.15 0 1 0 -2.3 0M387.3 517.6a1.15 1.15 0 1 0 2.3 0a1.15 1.15 0 1 0 -2.3 0M385.8 511.7a1.15 1.15 0 1 0 2.3 0a1.15 1.15 0 1 0 -2.3 0M387.3 509.0a1.15 1.15 0 1 0 2.3 0a1.15 1.15 0 1 0 -2.3 0M389.8 507.2a1.15 1.15 0 1 0 2.3 0a1.15 1.15 0 1 0 -2.3 0M392.9 506.8a1.15 1.15 0 1 0 2.3 0a1.15 1.15 0 1 0 -2.3 0M397.9 510.3a1.15 1.15 0 1 0 2.3 0a1.15 1.15 0 1 0 -2.3 0M395.9 521.2a1.15 1.15 0 1 0 2.3 0a1.15 1.15 0 1 0 -2.3 0M399.0 518.0a1.15 1.15 0 1 0 2.3 0a1.15 1.15 0 1 0 -2.3 0M398.9 524.0a1.15 1.15 0 1 0 2.3 0a1.15 1.15 0 1 0 -2.3 0M402.0 520.8a1.15 1.15 0 1 0 2.3 0a1.15 1.15 0 1 0 -2.3 0M407.9 533.2a1.15 1.15 0 1 0 2.3 0a1.15 1.15 0 1 0 -2.3 0M410.3 535.4a1.15 1.15 0 1 0 2.3 0a1.15 1.15 0 1 0 -2.3 0M415.7 534.4a1.15 1.15 0 1 0 2.3 0a1.15 1.15 0 1 0 -2.3 0M417.4 542.0a1.15 1.15 0 1 0 2.3 0a1.15 1.15 0 1 0 -2.3 0M419.7 544.2a1.15 1.15 0 1 0 2.3 0a1.15 1.15 0 1 0 -2.3 0M418.6 521.5a1.15 1.15 0 1 0 2.3 0a1.15 1.15 0 1 0 -2.3 0M421.4 515.6a1.15 1.15 0 1 0 2.3 0a1.15 1.15 0 1 0 -2.3 0M423.7 513.2a1.15 1.15 0 1 0 2.3 0a1.15 1.15 0 1 0 -2.3 0M439.1 510.8a1.15 1.15 0 1 0 2.3 0a1.15 1.15 0 1 0 -2.3 0M444.5 535.3a1.15 1.15 0 1 0 2.3 0a1.15 1.15 0 1 0 -2.3 0M417.1 558.7a1.15 1.15 0 1 0 2.3 0a1.15 1.15 0 1 0 -2.3 0M405.8 563.0a1.15 1.15 0 1 0 2.3 0a1.15 1.15 0 1 0 -2.3 0M402.7 562.1a1.15 1.15 0 1 0 2.3 0a1.15 1.15 0 1 0 -2.3 0M396.3 555.4a1.15 1.15 0 1 0 2.3 0a1.15 1.15 0 1 0 -2.3 0M395.5 549.2a1.15 1.15 0 1 0 2.3 0a1.15 1.15 0 1 0 -2.3 0M396.3 546.2a1.15 1.15 0 1 0 2.3 0a1.15 1.15 0 1 0 -2.3 0M397.8 543.4a1.15 1.15 0 1 0 2.3 0a1.15 1.15 0 1 0 -2.3 0M400.0 541.2a1.15 1.15 0 1 0 2.3 0a1.15 1.15 0 1 0 -2.3 0M402.7 539.5a1.15 1.15 0 1 0 2.3 0a1.15 1.15 0 1 0 -2.3 0M412.0 539.3a1.15 1.15 0 1 0 2.3 0a1.15 1.15 0 1 0 -2.3 0M420.5 561.1a1.15 1.15 0 1 0 2.3 0a1.15 1.15 0 1 0 -2.3 0M422.0 571.0a1.15 1.15 0 1 0 2.3 0a1.15 1.15 0 1 0 -2.3 0M421.3 574.3a1.15 1.15 0 1 0 2.3 0a1.15 1.15 0 1 0 -2.3 0M420.7 577.5a1.15 1.15 0 1 0 2.3 0a1.15 1.15 0 1 0 -2.3 0M415.7 579.8a1.15 1.15 0 1 0 2.3 0a1.15 1.15 0 1 0 -2.3 0M415.0 583.0a1.15 1.15 0 1 0 2.3 0a1.15 1.15 0 1 0 -2.3 0M413.0 592.6a1.15 1.15 0 1 0 2.3 0a1.15 1.15 0 1 0 -2.3 0M412.4 595.8a1.15 1.15 0 1 0 2.3 0a1.15 1.15 0 1 0 -2.3 0M411.7 599.1a1.15 1.15 0 1 0 2.3 0a1.15 1.15 0 1 0 -2.3 0M415.3 603.2a1.15 1.15 0 1 0 2.3 0a1.15 1.15 0 1 0 -2.3 0M410.4 605.5a1.15 1.15 0 1 0 2.3 0a1.15 1.15 0 1 0 -2.3 0M414.0 609.6a1.15 1.15 0 1 0 2.3 0a1.15 1.15 0 1 0 -2.3 0M409.0 611.9a1.15 1.15 0 1 0 2.3 0a1.15 1.15 0 1 0 -2.3 0M413.3 612.8a1.15 1.15 0 1 0 2.3 0a1.15 1.15 0 1 0 -2.3 0M406.4 624.7a1.15 1.15 0 1 0 2.3 0a1.15 1.15 0 1 0 -2.3 0M406.3 645.1a1.15 1.15 0 1 0 2.3 0a1.15 1.15 0 1 0 -2.3 0M406.3 638.1a1.15 1.15 0 1 0 2.3 0a1.15 1.15 0 1 0 -2.3 0M409.4 638.8a1.15 1.15 0 1 0 2.3 0a1.15 1.15 0 1 0 -2.3 0M478.8 549.3a1.15 1.15 0 1 0 2.3 0a1.15 1.15 0 1 0 -2.3 0M459.7 537.1a1.15 1.15 0 1 0 2.3 0a1.15 1.15 0 1 0 -2.3 0M472.9 526.2a1.15 1.15 0 1 0 2.3 0a1.15 1.15 0 1 0 -2.3 0M481.3 530.1a1.15 1.15 0 1 0 2.3 0a1.15 1.15 0 1 0 -2.3 0" fill="#2A7F2A"/>
<path d="M411.0 530.0a1.15 1.15 0 1 0 2.3 0a1.15 1.15 0 1 0 -2.3 0M413.3 532.2a1.15 1.15 0 1 0 2.3 0a1.15 1.15 0 1 0 -2.3 0M412.7 537.6a1.15 1.15 0 1 0 2.3 0a1.15 1.15 0 1 0 -2.3 0M415.0 539.8a1.15 1.15 0 1 0 2.3 0a1.15 1.15 0 1 0 -2.3 0M418.8 556.0a1.15 1.15 0 1 0 2.3 0a1.15 1.15 0 1 0 -2.3 0M414.8 560.8a1.15 1.15 0 1 0 2.3 0a1.15 1.15 0 1 0 -2.3 0M400.0 560.4a1.15 1.15 0 1 0 2.3 0a1.15 1.15 0 1 0 -2.3 0M395.5 552.4a1.15 1.15 0 1 0 2.3 0a1.15 1.15 0 1 0 -2.3 0M420.5 551.3a1.15 1.15 0 1 0 2.3 0a1.15 1.15 0 1 0 -2.3 0M424.8 551.7a1.15 1.15 0 1 0 2.3 0a1.15 1.15 0 1 0 -2.3 0M424.3 557.1a1.15 1.15 0 1 0 2.3 0a1.15 1.15 0 1 0 -2.3 0M419.7 559.3a1.15 1.15 0 1 0 2.3 0a1.15 1.15 0 1 0 -2.3 0M417.7 570.2a1.15 1.15 0 1 0 2.3 0a1.15 1.15 0 1 0 -2.3 0M417.0 573.4a1.15 1.15 0 1 0 2.3 0a1.15 1.15 0 1 0 -2.3 0M419.3 583.9a1.15 1.15 0 1 0 2.3 0a1.15 1.15 0 1 0 -2.3 0M414.4 586.2a1.15 1.15 0 1 0 2.3 0a1.15 1.15 0 1 0 -2.3 0M418.7 587.1a1.15 1.15 0 1 0 2.3 0a1.15 1.15 0 1 0 -2.3 0M408.4 615.1a1.15 1.15 0 1 0 2.3 0a1.15 1.15 0 1 0 -2.3 0M412.0 619.2a1.15 1.15 0 1 0 2.3 0a1.15 1.15 0 1 0 -2.3 0M407.0 621.5a1.15 1.15 0 1 0 2.3 0a1.15 1.15 0 1 0 -2.3 0M405.7 628.0a1.15 1.15 0 1 0 2.3 0a1.15 1.15 0 1 0 -2.3 0M406.6 633.6a1.15 1.15 0 1 0 2.3 0a1.15 1.15 0 1 0 -2.3 0M406.6 630.8a1.15 1.15 0 1 0 2.3 0a1.15 1.15 0 1 0 -2.3 0M409.2 630.0a1.15 1.15 0 1 0 2.3 0a1.15 1.15 0 1 0 -2.3 0" fill="#1A3CA0"/>
<path d="M432.7 509.7a1.15 1.15 0 1 0 2.3 0a1.15 1.15 0 1 0 -2.3 0M424.7 565.3a1.15 1.15 0 1 0 2.3 0a1.15 1.15 0 1 0 -2.3 0M423.4 568.3a1.15 1.15 0 1 0 2.3 0a1.15 1.15 0 1 0 -2.3 0M417.5 568.3a1.15 1.15 0 1 0 2.3 0a1.15 1.15 0 1 0 -2.3 0M416.3 565.3a1.15 1.15 0 1 0 2.3 0a1.15 1.15 0 1 0 -2.3 0M417.5 562.3a1.15 1.15 0 1 0 2.3 0a1.15 1.15 0 1 0 -2.3 0M423.4 562.3a1.15 1.15 0 1 0 2.3 0a1.15 1.15 0 1 0 -2.3 0" fill="#A8A010"/>
<path d="M442.0 512.3a1.15 1.15 0 1 0 2.3 0a1.15 1.15 0 1 0 -2.3 0M444.5 514.5a1.15 1.15 0 1 0 2.3 0a1.15 1.15 0 1 0 -2.3 0M420.5 569.5a1.15 1.15 0 1 0 2.3 0a1.15 1.15 0 1 0 -2.3 0M410.8 641.6a1.15 1.15 0 1 0 2.3 0a1.15 1.15 0 1 0 -2.3 0M409.4 644.4a1.15 1.15 0 1 0 2.3 0a1.15 1.15 0 1 0 -2.3 0M403.9 643.2a1.15 1.15 0 1 0 2.3 0a1.15 1.15 0 1 0 -2.3 0M403.9 640.0a1.15 1.15 0 1 0 2.3 0a1.15 1.15 0 1 0 -2.3 0M430.8 547.5a1.15 1.15 0 1 0 2.3 0a1.15 1.15 0 1 0 -2.3 0M434.0 546.8a1.15 1.15 0 1 0 2.3 0a1.15 1.15 0 1 0 -2.3 0M437.2 546.2a1.15 1.15 0 1 0 2.3 0a1.15 1.15 0 1 0 -2.3 0M436.3 541.9a1.15 1.15 0 1 0 2.3 0a1.15 1.15 0 1 0 -2.3 0M439.5 541.2a1.15 1.15 0 1 0 2.3 0a1.15 1.15 0 1 0 -2.3 0M443.5 544.9a1.15 1.15 0 1 0 2.3 0a1.15 1.15 0 1 0 -2.3 0M453.1 542.9a1.15 1.15 0 1 0 2.3 0a1.15 1.15 0 1 0 -2.3 0M455.4 538.0a1.15 1.15 0 1 0 2.3 0a1.15 1.15 0 1 0 -2.3 0M458.6 537.3a1.15 1.15 0 1 0 2.3 0a1.15 1.15 0 1 0 -2.3 0" fill="#E07A10"/>
<path d="M11.8 678.1L10.4 680.9M10.4 680.9L7.4 681.6M7.4 681.6L5.0 679.7M5.0 679.7L5.0 676.5M5.0 676.5L7.4 674.6M7.4 674.6L10.4 675.3M10.4 675.3L11.8 678.1M10.6 681.8L12.6 677.8M12.4 682.7L14.4 678.7M10.6 681.8L12.4 682.7M12.6 677.8L14.4 678.7M20.0 682.3L18.4 685.2M18.4 685.2L15.1 685.2M15.1 685.2L13.4 682.3M13.4 682.3L15.0 679.4M15.0 679.4L18.4 679.4M18.4 679.4L20.0 682.3M18.9 686.0L20.9 682.0M22.8 687.9L24.8 683.9M18.9 686.0L22.8 687.9M20.9 682.0L24.8 683.9M31.6 687.7L30.4 690.5M30.4 690.5L27.6 691.7M27.6 691.7L24.8 690.5M24.8 690.5L23.6 687.7M23.6 687.7L24.8 684.9M24.8 684.9L27.6 683.7M27.6 683.7L30.4 684.9M30.4 684.9L31.6 687.7M30.4 691.5L32.4 687.5M33.0 692.7L34.9 688.8M30.4 691.5L33.0 692.7M32.4 687.5L34.9 688.8M35.5 694.0L37.5 690.0M33.0 692.7L35.5 694.0M34.9 688.8L37.5 690.0M49.1 695.0L48.4 698.0M48.4 698.0L46.3 700.3M46.3 700.3L43.5 701.4M43.5 701.4L40.4 701.0M40.4 701.0L37.9 699.2M37.9 699.2L36.5 696.5M36.5 696.5L36.5 693.5M36.5 693.5L37.9 690.8M37.9 690.8L40.4 689.0M40.4 689.0L43.5 688.6M43.5 688.6L46.3 689.7M46.3 689.7L48.4 692.0M48.4 692.0L49.1 695.0M43.7 688.2L39.5 689.2M42.9 684.7L38.7 685.7M43.7 688.2L42.9 684.7M39.5 689.2L38.7 685.7M44.0 681.0L42.8 683.8M42.8 683.8L40.0 685.0M40.0 685.0L37.2 683.8M37.2 683.8L36.0 681.0M36.0 681.0L37.2 678.2M37.2 678.2L40.0 677.0M40.0 677.0L42.8 678.2M42.8 678.2L44.0 681.0M36.2 695.4L37.0 699.8M32.4 696.1L33.2 700.5M36.2 695.4L32.4 696.1M37.0 699.8L33.2 700.5M28.6 696.8L29.4 701.2M32.4 696.1L28.6 696.8M33.2 700.5L29.4 701.2M28.5 699.2L27.3 702.0M27.3 702.0L24.5 703.2M24.5 703.2L21.7 702.0M21.7 702.0L20.5 699.2M20.5 699.2L21.7 696.4M21.7 696.4L24.5 695.2M24.5 695.2L27.3 696.4M27.3 696.4L28.5 699.2M46.5 688.0L48.6 689.2M48.6 689.2L50.2 690.8M47.7 700.0L50.3 696.4M49.3 701.2L51.9 697.6M47.7 700.0L49.3 701.2M50.3 696.4L51.9 697.6M57.7 701.0L56.4 703.7M56.4 703.7L53.4 704.4M53.4 704.4L51.0 702.5M51.0 702.5L51.0 699.5M51.0 699.5L53.4 697.6M53.4 697.6L56.4 698.3M56.4 698.3L57.7 701.0M56.6 704.6L58.8 700.8M59.6 706.3L61.7 702.4M56.6 704.6L59.6 706.3M58.8 700.8L61.7 702.4M62.6 707.9L64.7 704.0M59.6 706.3L62.6 707.9M61.7 702.4L64.7 704.0M65.5 709.5L67.7 705.7M62.6 707.9L65.5 709.5M64.7 704.0L67.7 705.7M73.0 709.5L71.5 712.1M71.5 712.1L68.5 712.1M68.5 712.1L67.0 709.5M67.0 709.5L68.5 706.9M68.5 706.9L71.5 706.9M71.5 706.9L73.0 709.5M81.8 712.3L80.7 715.2M80.7 715.2L78.1 716.7M78.1 716.7L75.0 716.2M75.0 716.2L73.1 713.8M73.1 713.8L73.1 710.8M73.1 710.8L75.0 708.4M75.0 708.4L78.1 707.9M78.1 707.9L80.7 709.4M80.7 709.4L81.8 712.3M80.5 716.5L82.7 712.7M84.5 718.7L86.7 714.9M80.5 716.5L84.5 718.7M82.7 712.7L86.7 714.9M95.0 719.4L94.0 722.3M94.0 722.3L91.5 724.2M91.5 724.2L88.5 724.2M88.5 724.2L86.0 722.3M86.0 722.3L85.0 719.4M85.0 719.4L86.0 716.5M86.0 716.5L88.5 714.6M88.5 714.6L91.5 714.6M91.5 714.6L94.0 716.5M94.0 716.5L95.0 719.4M93.3 723.9L95.5 720.1M96.4 725.7L98.5 721.8M93.3 723.9L96.4 725.7M95.5 720.1L98.5 721.8M99.4 727.4L101.6 723.6M96.4 725.7L99.4 727.4M98.5 721.8L101.6 723.6M102.5 729.2L104.6 725.3M99.4 727.4L102.5 729.2M101.6 723.6L104.6 725.3M105.5 730.9L107.7 727.1M102.5 729.2L105.5 730.9M104.6 725.3L107.7 727.1M112.1 730.6L110.4 733.0M110.4 733.0L107.6 732.1M107.6 732.1L107.6 729.1M107.6 729.1L110.4 728.2M110.4 728.2L112.1 730.6M111.2 733.9L112.8 729.7M114.1 735.0L115.7 730.8M111.2 733.9L114.1 735.0M112.8 729.7L115.7 730.8M117.0 736.1L118.6 731.9M114.1 735.0L117.0 736.1M115.7 730.8L118.6 731.9M124.5 735.6L123.2 738.3M123.2 738.3L120.2 739.0M120.2 739.0L117.8 737.1M117.8 737.1L117.8 734.1M117.8 734.1L120.2 732.2M120.2 732.2L123.2 732.9M123.2 732.9L124.5 735.6M123.4 739.4L125.4 735.4M125.8 740.6L127.8 736.6M123.4 739.4L125.8 740.6M125.4 735.4L127.8 736.6M128.2 741.8L130.2 737.8M125.8 740.6L128.2 741.8M127.8 736.6L130.2 737.8M130.6 743.0L132.6 739.0M128.2 741.8L130.6 743.0M130.2 737.8L132.6 739.0M136.9 742.6L135.2 745.0M135.2 745.0L132.4 744.1M132.4 744.1L132.4 741.1M132.4 741.1L135.2 740.2M135.2 740.2L136.9 742.6M136.1 746.0L137.9 742.0M138.9 747.3L140.7 743.3M136.1 746.0L138.9 747.3M137.9 742.0L140.7 743.3M141.7 748.6L143.5 744.6M138.9 747.3L141.7 748.6M140.7 743.3L143.5 744.6M147.5 748.0L145.8 750.4M145.8 750.4L143.0 749.5M143.0 749.5L143.0 746.5M143.0 746.5L145.8 745.6M145.8 745.6L147.5 748.0M146.4 751.2L148.8 747.6M149.4 753.2L151.8 749.6M146.4 751.2L149.4 753.2M148.8 747.6L151.8 749.6M152.4 755.2L154.8 751.6M149.4 753.2L152.4 755.2M151.8 749.6L154.8 751.6M162.5 756.0L161.4 758.9M161.4 758.9L158.8 760.4M158.8 760.4L155.8 759.9M155.8 759.9L153.8 757.5M153.8 757.5L153.8 754.5M153.8 754.5L155.8 752.1M155.8 752.1L158.8 751.6M158.8 751.6L161.4 753.1M161.4 753.1L162.5 756.0M161.4 760.6L163.4 756.6M164.2 762.0L166.2 758.0M161.4 760.6L164.2 762.0M163.4 756.6L166.2 758.0M167.0 763.4L169.0 759.4M164.2 762.0L167.0 763.4M166.2 758.0L169.0 759.4M176.9 764.0L175.8 766.9M175.8 766.9L173.2 768.4M173.2 768.4L170.2 767.9M170.2 767.9L168.2 765.5M168.2 765.5L168.2 762.5M168.2 762.5L170.2 760.1M170.2 760.1L173.2 759.6M173.2 759.6L175.8 761.1M175.8 761.1L176.9 764.0" fill="none" stroke="#333" stroke-width="0.75" stroke-opacity="0.9"/>
<path d="M10.6 678.1a1.15 1.15 0 1 0 2.3 0a1.15 1.15 0 1 0 -2.3 0M6.2 681.6a1.15 1.15 0 1 0 2.3 0a1.15 1.15 0 1 0 -2.3 0M9.3 675.3a1.15 1.15 0 1 0 2.3 0a1.15 1.15 0 1 0 -2.3 0M18.9 682.3a1.15 1.15 0 1 0 2.3 0a1.15 1.15 0 1 0 -2.3 0M12.2 682.3a1.15 1.15 0 1 0 2.3 0a1.15 1.15 0 1 0 -2.3 0M13.9 679.4a1.15 1.15 0 1 0 2.3 0a1.15 1.15 0 1 0 -2.3 0M30.5 687.7a1.15 1.15 0 1 0 2.3 0a1.15 1.15 0 1 0 -2.3 0M29.3 690.5a1.15 1.15 0 1 0 2.3 0a1.15 1.15 0 1 0 -2.3 0M26.5 691.7a1.15 1.15 0 1 0 2.3 0a1.15 1.15 0 1 0 -2.3 0M23.6 684.9a1.15 1.15 0 1 0 2.3 0a1.15 1.15 0 1 0 -2.3 0M26.5 683.7a1.15 1.15 0 1 0 2.3 0a1.15 1.15 0 1 0 -2.3 0M29.3 684.9a1.15 1.15 0 1 0 2.3 0a1.15 1.15 0 1 0 -2.3 0M47.2 698.0a1.15 1.15 0 1 0 2.3 0a1.15 1.15 0 1 0 -2.3 0M36.8 690.8a1.15 1.15 0 1 0 2.3 0a1.15 1.15 0 1 0 -2.3 0M47.2 692.0a1.15 1.15 0 1 0 2.3 0a1.15 1.15 0 1 0 -2.3 0M41.7 683.8a1.15 1.15 0 1 0 2.3 0a1.15 1.15 0 1 0 -2.3 0M38.9 685.0a1.15 1.15 0 1 0 2.3 0a1.15 1.15 0 1 0 -2.3 0M36.0 683.8a1.15 1.15 0 1 0 2.3 0a1.15 1.15 0 1 0 -2.3 0M38.9 677.0a1.15 1.15 0 1 0 2.3 0a1.15 1.15 0 1 0 -2.3 0M41.7 678.2a1.15 1.15 0 1 0 2.3 0a1.15 1.15 0 1 0 -2.3 0M60.6 702.4a1.15 1.15 0 1 0 2.3 0a1.15 1.15 0 1 0 -2.3 0M63.5 704.0a1.15 1.15 0 1 0 2.3 0a1.15 1.15 0 1 0 -2.3 0M64.4 709.5a1.15 1.15 0 1 0 2.3 0a1.15 1.15 0 1 0 -2.3 0M80.6 712.3a1.15 1.15 0 1 0 2.3 0a1.15 1.15 0 1 0 -2.3 0M79.6 715.2a1.15 1.15 0 1 0 2.3 0a1.15 1.15 0 1 0 -2.3 0M76.9 716.7a1.15 1.15 0 1 0 2.3 0a1.15 1.15 0 1 0 -2.3 0M71.9 710.8a1.15 1.15 0 1 0 2.3 0a1.15 1.15 0 1 0 -2.3 0M92.9 722.3a1.15 1.15 0 1 0 2.3 0a1.15 1.15 0 1 0 -2.3 0M90.4 724.2a1.15 1.15 0 1 0 2.3 0a1.15 1.15 0 1 0 -2.3 0M87.3 724.2a1.15 1.15 0 1 0 2.3 0a1.15 1.15 0 1 0 -2.3 0M83.8 719.4a1.15 1.15 0 1 0 2.3 0a1.15 1.15 0 1 0 -2.3 0M84.8 716.5a1.15 1.15 0 1 0 2.3 0a1.15 1.15 0 1 0 -2.3 0M90.4 714.6a1.15 1.15 0 1 0 2.3 0a1.15 1.15 0 1 0 -2.3 0M92.2 723.9a1.15 1.15 0 1 0 2.3 0a1.15 1.15 0 1 0 -2.3 0M94.3 720.1a1.15 1.15 0 1 0 2.3 0a1.15 1.15 0 1 0 -2.3 0M95.2 725.7a1.15 1.15 0 1 0 2.3 0a1.15 1.15 0 1 0 -2.3 0M97.4 721.8a1.15 1.15 0 1 0 2.3 0a1.15 1.15 0 1 0 -2.3 0M98.3 727.4a1.15 1.15 0 1 0 2.3 0a1.15 1.15 0 1 0 -2.3 0M101.3 729.2a1.15 1.15 0 1 0 2.3 0a1.15 1.15 0 1 0 -2.3 0M103.5 725.3a1.15 1.15 0 1 0 2.3 0a1.15 1.15 0 1 0 -2.3 0M104.4 730.9a1.15 1.15 0 1 0 2.3 0a1.15 1.15 0 1 0 -2.3 0M106.5 727.1a1.15 1.15 0 1 0 2.3 0a1.15 1.15 0 1 0 -2.3 0M110.9 730.6a1.15 1.15 0 1 0 2.3 0a1.15 1.15 0 1 0 -2.3 0M109.2 733.0a1.15 1.15 0 1 0 2.3 0a1.15 1.15 0 1 0 -2.3 0M106.4 732.1a1.15 1.15 0 1 0 2.3 0a1.15 1.15 0 1 0 -2.3 0M106.4 729.1a1.15 1.15 0 1 0 2.3 0a1.15 1.15 0 1 0 -2.3 0M109.2 728.2a1.15 1.15 0 1 0 2.3 0a1.15 1.15 0 1 0 -2.3 0M110.1 733.9a1.15 1.15 0 1 0 2.3 0a1.15 1.15 0 1 0 -2.3 0M111.6 729.7a1.15 1.15 0 1 0 2.3 0a1.15 1.15 0 1 0 -2.3 0M113.0 735.0a1.15 1.15 0 1 0 2.3 0a1.15 1.15 0 1 0 -2.3 0M115.9 736.1a1.15 1.15 0 1 0 2.3 0a1.15 1.15 0 1 0 -2.3 0M124.2 735.4a1.15 1.15 0 1 0 2.3 0a1.15 1.15 0 1 0 -2.3 0M124.7 740.6a1.15 1.15 0 1 0 2.3 0a1.15 1.15 0 1 0 -2.3 0M129.5 743.0a1.15 1.15 0 1 0 2.3 0a1.15 1.15 0 1 0 -2.3 0M131.4 739.0a1.15 1.15 0 1 0 2.3 0a1.15 1.15 0 1 0 -2.3 0M131.2 744.1a1.15 1.15 0 1 0 2.3 0a1.15 1.15 0 1 0 -2.3 0M134.0 740.2a1.15 1.15 0 1 0 2.3 0a1.15 1.15 0 1 0 -2.3 0M136.8 742.0a1.15 1.15 0 1 0 2.3 0a1.15 1.15 0 1 0 -2.3 0M137.7 747.3a1.15 1.15 0 1 0 2.3 0a1.15 1.15 0 1 0 -2.3 0M139.6 743.3a1.15 1.15 0 1 0 2.3 0a1.15 1.15 0 1 0 -2.3 0M141.8 746.5a1.15 1.15 0 1 0 2.3 0a1.15 1.15 0 1 0 -2.3 0M144.6 745.6a1.15 1.15 0 1 0 2.3 0a1.15 1.15 0 1 0 -2.3 0M145.2 751.2a1.15 1.15 0 1 0 2.3 0a1.15 1.15 0 1 0 -2.3 0M148.2 753.2a1.15 1.15 0 1 0 2.3 0a1.15 1.15 0 1 0 -2.3 0M151.2 755.2a1.15 1.15 0 1 0 2.3 0a1.15 1.15 0 1 0 -2.3 0M152.6 754.5a1.15 1.15 0 1 0 2.3 0a1.15 1.15 0 1 0 -2.3 0M154.6 752.1a1.15 1.15 0 1 0 2.3 0a1.15 1.15 0 1 0 -2.3 0M160.3 753.1a1.15 1.15 0 1 0 2.3 0a1.15 1.15 0 1 0 -2.3 0M160.3 760.6a1.15 1.15 0 1 0 2.3 0a1.15 1.15 0 1 0 -2.3 0M162.2 756.6a1.15 1.15 0 1 0 2.3 0a1.15 1.15 0 1 0 -2.3 0M175.8 764.0a1.15 1.15 0 1 0 2.3 0a1.15 1.15 0 1 0 -2.3 0M174.7 766.9a1.15 1.15 0 1 0 2.3 0a1.15 1.15 0 1 0 -2.3 0M167.0 765.5a1.15 1.15 0 1 0 2.3 0a1.15 1.15 0 1 0 -2.3 0M167.0 762.5a1.15 1.15 0 1 0 2.3 0a1.15 1.15 0 1 0 -2.3 0M174.7 761.1a1.15 1.15 0 1 0 2.3 0a1.15 1.15 0 1 0 -2.3 0" fill="#2A7F2A"/>
<path d="M9.3 680.9a1.15 1.15 0 1 0 2.3 0a1.15 1.15 0 1 0 -2.3 0M3.8 676.5a1.15 1.15 0 1 0 2.3 0a1.15 1.15 0 1 0 -2.3 0M6.2 674.6a1.15 1.15 0 1 0 2.3 0a1.15 1.15 0 1 0 -2.3 0M48.0 695.0a1.15 1.15 0 1 0 2.3 0a1.15 1.15 0 1 0 -2.3 0M36.8 699.2a1.15 1.15 0 1 0 2.3 0a1.15 1.15 0 1 0 -2.3 0M35.3 693.5a1.15 1.15 0 1 0 2.3 0a1.15 1.15 0 1 0 -2.3 0M42.3 688.6a1.15 1.15 0 1 0 2.3 0a1.15 1.15 0 1 0 -2.3 0M45.4 688.0a1.15 1.15 0 1 0 2.3 0a1.15 1.15 0 1 0 -2.3 0M47.5 689.2a1.15 1.15 0 1 0 2.3 0a1.15 1.15 0 1 0 -2.3 0M49.1 690.8a1.15 1.15 0 1 0 2.3 0a1.15 1.15 0 1 0 -2.3 0M55.2 703.7a1.15 1.15 0 1 0 2.3 0a1.15 1.15 0 1 0 -2.3 0M52.3 704.4a1.15 1.15 0 1 0 2.3 0a1.15 1.15 0 1 0 -2.3 0M49.9 702.5a1.15 1.15 0 1 0 2.3 0a1.15 1.15 0 1 0 -2.3 0M49.9 699.5a1.15 1.15 0 1 0 2.3 0a1.15 1.15 0 1 0 -2.3 0M55.2 698.3a1.15 1.15 0 1 0 2.3 0a1.15 1.15 0 1 0 -2.3 0M123.3 735.6a1.15 1.15 0 1 0 2.3 0a1.15 1.15 0 1 0 -2.3 0M122.0 738.3a1.15 1.15 0 1 0 2.3 0a1.15 1.15 0 1 0 -2.3 0M122.0 732.9a1.15 1.15 0 1 0 2.3 0a1.15 1.15 0 1 0 -2.3 0M146.3 748.0a1.15 1.15 0 1 0 2.3 0a1.15 1.15 0 1 0 -2.3 0M144.6 750.4a1.15 1.15 0 1 0 2.3 0a1.15 1.15 0 1 0 -2.3 0M141.8 749.5a1.15 1.15 0 1 0 2.3 0a1.15 1.15 0 1 0 -2.3 0M152.6 757.5a1.15 1.15 0 1 0 2.3 0a1.15 1.15 0 1 0 -2.3 0M157.6 751.6a1.15 1.15 0 1 0 2.3 0a1.15 1.15 0 1 0 -2.3 0M169.0 760.1a1.15 1.15 0 1 0 2.3 0a1.15 1.15 0 1 0 -2.3 0" fill="#B5121B"/>
<path d="M3.8 679.7a1.15 1.15 0 1 0 2.3 0a1.15 1.15 0 1 0 -2.3 0M9.5 681.8a1.15 1.15 0 1 0 2.3 0a1.15 1.15 0 1 0 -2.3 0M11.4 677.8a1.15 1.15 0 1 0 2.3 0a1.15 1.15 0 1 0 -2.3 0M11.3 682.7a1.15 1.15 0 1 0 2.3 0a1.15 1.15 0 1 0 -2.3 0M13.2 678.7a1.15 1.15 0 1 0 2.3 0a1.15 1.15 0 1 0 -2.3 0M17.2 685.2a1.15 1.15 0 1 0 2.3 0a1.15 1.15 0 1 0 -2.3 0M13.9 685.2a1.15 1.15 0 1 0 2.3 0a1.15 1.15 0 1 0 -2.3 0M17.2 679.4a1.15 1.15 0 1 0 2.3 0a1.15 1.15 0 1 0 -2.3 0M17.8 686.0a1.15 1.15 0 1 0 2.3 0a1.15 1.15 0 1 0 -2.3 0M21.7 687.9a1.15 1.15 0 1 0 2.3 0a1.15 1.15 0 1 0 -2.3 0M23.6 683.9a1.15 1.15 0 1 0 2.3 0a1.15 1.15 0 1 0 -2.3 0M23.6 690.5a1.15 1.15 0 1 0 2.3 0a1.15 1.15 0 1 0 -2.3 0M22.5 687.7a1.15 1.15 0 1 0 2.3 0a1.15 1.15 0 1 0 -2.3 0M29.3 691.5a1.15 1.15 0 1 0 2.3 0a1.15 1.15 0 1 0 -2.3 0M33.8 688.8a1.15 1.15 0 1 0 2.3 0a1.15 1.15 0 1 0 -2.3 0M36.3 690.0a1.15 1.15 0 1 0 2.3 0a1.15 1.15 0 1 0 -2.3 0M27.4 699.2a1.15 1.15 0 1 0 2.3 0a1.15 1.15 0 1 0 -2.3 0M20.5 702.0a1.15 1.15 0 1 0 2.3 0a1.15 1.15 0 1 0 -2.3 0M46.5 700.0a1.15 1.15 0 1 0 2.3 0a1.15 1.15 0 1 0 -2.3 0M49.2 696.4a1.15 1.15 0 1 0 2.3 0a1.15 1.15 0 1 0 -2.3 0M48.1 701.2a1.15 1.15 0 1 0 2.3 0a1.15 1.15 0 1 0 -2.3 0M50.8 697.6a1.15 1.15 0 1 0 2.3 0a1.15 1.15 0 1 0 -2.3 0M56.6 701.0a1.15 1.15 0 1 0 2.3 0a1.15 1.15 0 1 0 -2.3 0M52.3 697.6a1.15 1.15 0 1 0 2.3 0a1.15 1.15 0 1 0 -2.3 0M55.5 704.6a1.15 1.15 0 1 0 2.3 0a1.15 1.15 0 1 0 -2.3 0M57.6 700.8a1.15 1.15 0 1 0 2.3 0a1.15 1.15 0 1 0 -2.3 0M58.5 706.3a1.15 1.15 0 1 0 2.3 0a1.15 1.15 0 1 0 -2.3 0M61.4 707.9a1.15 1.15 0 1 0 2.3 0a1.15 1.15 0 1 0 -2.3 0M66.5 705.7a1.15 1.15 0 1 0 2.3 0a1.15 1.15 0 1 0 -2.3 0M71.8 709.5a1.15 1.15 0 1 0 2.3 0a1.15 1.15 0 1 0 -2.3 0M70.3 712.1a1.15 1.15 0 1 0 2.3 0a1.15 1.15 0 1 0 -2.3 0M67.3 712.1a1.15 1.15 0 1 0 2.3 0a1.15 1.15 0 1 0 -2.3 0M65.8 709.5a1.15 1.15 0 1 0 2.3 0a1.15 1.15 0 1 0 -2.3 0M67.3 706.9a1.15 1.15 0 1 0 2.3 0a1.15 1.15 0 1 0 -2.3 0M70.3 706.9a1.15 1.15 0 1 0 2.3 0a1.15 1.15 0 1 0 -2.3 0M71.9 713.8a1.15 1.15 0 1 0 2.3 0a1.15 1.15 0 1 0 -2.3 0M73.9 708.4a1.15 1.15 0 1 0 2.3 0a1.15 1.15 0 1 0 -2.3 0M76.9 707.9a1.15 1.15 0 1 0 2.3 0a1.15 1.15 0 1 0 -2.3 0M79.4 716.5a1.15 1.15 0 1 0 2.3 0a1.15 1.15 0 1 0 -2.3 0M81.5 712.7a1.15 1.15 0 1 0 2.3 0a1.15 1.15 0 1 0 -2.3 0M83.4 718.7a1.15 1.15 0 1 0 2.3 0a1.15 1.15 0 1 0 -2.3 0M85.5 714.9a1.15 1.15 0 1 0 2.3 0a1.15 1.15 0 1 0 -2.3 0M93.8 719.4a1.15 1.15 0 1 0 2.3 0a1.15 1.15 0 1 0 -2.3 0M84.8 722.3a1.15 1.15 0 1 0 2.3 0a1.15 1.15 0 1 0 -2.3 0M87.3 714.6a1.15 1.15 0 1 0 2.3 0a1.15 1.15 0 1 0 -2.3 0M92.9 716.5a1.15 1.15 0 1 0 2.3 0a1.15 1.15 0 1 0 -2.3 0M119.1 739.0a1.15 1.15 0 1 0 2.3 0a1.15 1.15 0 1 0 -2.3 0M119.1 732.2a1.15 1.15 0 1 0 2.3 0a1.15 1.15 0 1 0 -2.3 0" fill="#138A8A"/>
<path d="M19.7 682.0a1.15 1.15 0 1 0 2.3 0a1.15 1.15 0 1 0 -2.3 0M31.2 687.5a1.15 1.15 0 1 0 2.3 0a1.15 1.15 0 1 0 -2.3 0M31.8 692.7a1.15 1.15 0 1 0 2.3 0a1.15 1.15 0 1 0 -2.3 0M34.4 694.0a1.15 1.15 0 1 0 2.3 0a1.15 1.15 0 1 0 -2.3 0M38.3 689.2a1.15 1.15 0 1 0 2.3 0a1.15 1.15 0 1 0 -2.3 0M35.1 695.4a1.15 1.15 0 1 0 2.3 0a1.15 1.15 0 1 0 -2.3 0M35.8 699.8a1.15 1.15 0 1 0 2.3 0a1.15 1.15 0 1 0 -2.3 0M31.3 696.1a1.15 1.15 0 1 0 2.3 0a1.15 1.15 0 1 0 -2.3 0M32.0 700.5a1.15 1.15 0 1 0 2.3 0a1.15 1.15 0 1 0 -2.3 0M27.5 696.8a1.15 1.15 0 1 0 2.3 0a1.15 1.15 0 1 0 -2.3 0M28.2 701.2a1.15 1.15 0 1 0 2.3 0a1.15 1.15 0 1 0 -2.3 0M26.2 702.0a1.15 1.15 0 1 0 2.3 0a1.15 1.15 0 1 0 -2.3 0M23.4 703.2a1.15 1.15 0 1 0 2.3 0a1.15 1.15 0 1 0 -2.3 0M19.4 699.2a1.15 1.15 0 1 0 2.3 0a1.15 1.15 0 1 0 -2.3 0M20.5 696.4a1.15 1.15 0 1 0 2.3 0a1.15 1.15 0 1 0 -2.3 0M23.4 695.2a1.15 1.15 0 1 0 2.3 0a1.15 1.15 0 1 0 -2.3 0M26.2 696.4a1.15 1.15 0 1 0 2.3 0a1.15 1.15 0 1 0 -2.3 0M73.9 716.2a1.15 1.15 0 1 0 2.3 0a1.15 1.15 0 1 0 -2.3 0M79.6 709.4a1.15 1.15 0 1 0 2.3 0a1.15 1.15 0 1 0 -2.3 0M116.7 737.1a1.15 1.15 0 1 0 2.3 0a1.15 1.15 0 1 0 -2.3 0M116.7 734.1a1.15 1.15 0 1 0 2.3 0a1.15 1.15 0 1 0 -2.3 0" fill="#1A3CA0"/>
<path d="M45.2 700.3a1.15 1.15 0 1 0 2.3 0a1.15 1.15 0 1 0 -2.3 0M42.3 701.4a1.15 1.15 0 1 0 2.3 0a1.15 1.15 0 1 0 -2.3 0M39.3 701.0a1.15 1.15 0 1 0 2.3 0a1.15 1.15 0 1 0 -2.3 0M42.9 681.0a1.15 1.15 0 1 0 2.3 0a1.15 1.15 0 1 0 -2.3 0M100.4 723.6a1.15 1.15 0 1 0 2.3 0a1.15 1.15 0 1 0 -2.3 0M114.5 730.8a1.15 1.15 0 1 0 2.3 0a1.15 1.15 0 1 0 -2.3 0M117.4 731.9a1.15 1.15 0 1 0 2.3 0a1.15 1.15 0 1 0 -2.3 0M122.3 739.4a1.15 1.15 0 1 0 2.3 0a1.15 1.15 0 1 0 -2.3 0M126.6 736.6a1.15 1.15 0 1 0 2.3 0a1.15 1.15 0 1 0 -2.3 0M127.1 741.8a1.15 1.15 0 1 0 2.3 0a1.15 1.15 0 1 0 -2.3 0M129.0 737.8a1.15 1.15 0 1 0 2.3 0a1.15 1.15 0 1 0 -2.3 0M135.8 742.6a1.15 1.15 0 1 0 2.3 0a1.15 1.15 0 1 0 -2.3 0M134.0 745.0a1.15 1.15 0 1 0 2.3 0a1.15 1.15 0 1 0 -2.3 0M131.2 741.1a1.15 1.15 0 1 0 2.3 0a1.15 1.15 0 1 0 -2.3 0M134.9 746.0a1.15 1.15 0 1 0 2.3 0a1.15 1.15 0 1 0 -2.3 0M140.5 748.6a1.15 1.15 0 1 0 2.3 0a1.15 1.15 0 1 0 -2.3 0M142.4 744.6a1.15 1.15 0 1 0 2.3 0a1.15 1.15 0 1 0 -2.3 0M147.7 747.6a1.15 1.15 0 1 0 2.3 0a1.15 1.15 0 1 0 -2.3 0M150.7 749.6a1.15 1.15 0 1 0 2.3 0a1.15 1.15 0 1 0 -2.3 0M153.7 751.6a1.15 1.15 0 1 0 2.3 0a1.15 1.15 0 1 0 -2.3 0M161.3 756.0a1.15 1.15 0 1 0 2.3 0a1.15 1.15 0 1 0 -2.3 0M160.3 758.9a1.15 1.15 0 1 0 2.3 0a1.15 1.15 0 1 0 -2.3 0M157.6 760.4a1.15 1.15 0 1 0 2.3 0a1.15 1.15 0 1 0 -2.3 0M154.6 759.9a1.15 1.15 0 1 0 2.3 0a1.15 1.15 0 1 0 -2.3 0M163.1 762.0a1.15 1.15 0 1 0 2.3 0a1.15 1.15 0 1 0 -2.3 0M165.0 758.0a1.15 1.15 0 1 0 2.3 0a1.15 1.15 0 1 0 -2.3 0M165.9 763.4a1.15 1.15 0 1 0 2.3 0a1.15 1.15 0 1 0 -2.3 0M167.8 759.4a1.15 1.15 0 1 0 2.3 0a1.15 1.15 0 1 0 -2.3 0M172.0 768.4a1.15 1.15 0 1 0 2.3 0a1.15 1.15 0 1 0 -2.3 0M169.0 767.9a1.15 1.15 0 1 0 2.3 0a1.15 1.15 0 1 0 -2.3 0M172.0 759.6a1.15 1.15 0 1 0 2.3 0a1.15 1.15 0 1 0 -2.3 0" fill="#4B5D23"/>
<path d="M35.3 696.5a1.15 1.15 0 1 0 2.3 0a1.15 1.15 0 1 0 -2.3 0M39.3 689.0a1.15 1.15 0 1 0 2.3 0a1.15 1.15 0 1 0 -2.3 0M45.2 689.7a1.15 1.15 0 1 0 2.3 0a1.15 1.15 0 1 0 -2.3 0M42.6 688.2a1.15 1.15 0 1 0 2.3 0a1.15 1.15 0 1 0 -2.3 0M41.8 684.7a1.15 1.15 0 1 0 2.3 0a1.15 1.15 0 1 0 -2.3 0M37.5 685.7a1.15 1.15 0 1 0 2.3 0a1.15 1.15 0 1 0 -2.3 0M34.9 681.0a1.15 1.15 0 1 0 2.3 0a1.15 1.15 0 1 0 -2.3 0M36.0 678.2a1.15 1.15 0 1 0 2.3 0a1.15 1.15 0 1 0 -2.3 0" fill="#A8A010"/>
<path d="M219.5 673.6L218.8 676.7M218.8 676.7L216.8 679.2M216.8 679.2L213.9 680.6M213.9 680.6L210.7 680.6M210.7 680.6L207.8 679.2M207.8 679.2L205.8 676.7M205.8 676.7L205.1 673.6M205.1 673.6L205.8 670.5M205.8 670.5L207.8 668.0M207.8 668.0L210.7 666.6M210.7 666.6L213.9 666.6M213.9 666.6L216.8 668.0M216.8 668.0L218.8 670.5M218.8 670.5L219.5 673.6M214.5 681.0L217.9 678.2M216.3 683.2L219.7 680.4M214.5 681.0L216.3 683.2M217.9 678.2L219.7 680.4M218.1 685.4L221.5 682.6M216.3 683.2L218.1 685.4M219.7 680.4L221.5 682.6M219.9 687.6L223.3 684.8M218.1 685.4L219.9 687.6M221.5 682.6L223.3 684.8M234.6 693.4L234.0 696.5M234.0 696.5L232.3 699.1M232.3 699.1L229.7 700.8M229.7 700.8L226.6 701.4M226.6 701.4L223.5 700.8M223.5 700.8L220.9 699.1M220.9 699.1L219.2 696.5M219.2 696.5L218.6 693.4M218.6 693.4L219.2 690.3M219.2 690.3L220.9 687.7M220.9 687.7L223.5 686.0M223.5 686.0L226.6 685.4M226.6 685.4L229.7 686.0M229.7 686.0L232.3 687.7M232.3 687.7L234.0 690.3M234.0 690.3L234.6 693.4M229.0 701.8L233.0 700.0M230.6 705.5L234.6 703.7M229.0 701.8L230.6 705.5M233.0 700.0L234.6 703.7M234.9 708.9L233.6 711.6M233.6 711.6L230.7 712.2M230.7 712.2L228.4 710.4M228.4 710.4L228.4 707.4M228.4 707.4L230.7 705.6M230.7 705.6L233.6 706.2M233.6 706.2L234.9 708.9M240.3 704.3L239.6 701.2M239.6 701.2L239.4 698.1M239.4 698.1L239.9 694.9M239.9 694.9L241.1 691.9M241.1 691.9L242.8 689.3M242.8 689.3L245.0 687.0M245.0 687.0L247.7 685.2M247.7 685.2L250.6 684.0M250.6 684.0L253.8 683.4M253.8 683.4L257.0 683.5M257.0 683.5L260.1 684.2M260.1 684.2L263.0 685.6M263.0 685.6L265.5 687.5M265.5 687.5L267.6 689.9M267.6 689.9L269.2 692.6M269.2 692.6L270.2 695.6M270.2 695.6L270.6 698.8M270.6 698.8L270.3 702.0M270.3 702.0L269.4 705.0M269.4 705.0L267.9 707.8M267.9 707.8L265.8 710.3M265.8 710.3L263.3 712.2M263.3 712.2L260.4 713.6M260.4 713.6L257.3 714.4M257.3 714.4L254.2 714.6M254.2 714.6L251.0 714.1M251.0 714.1L248.0 713.0M248.0 713.0L245.3 711.2M245.3 711.2L243.0 709.0M230.6 713.6L233.0 717.4M228.1 715.3L230.4 719.0M230.6 713.6L228.1 715.3M233.0 717.4L230.4 719.0M225.5 716.9L227.9 720.6M228.1 715.3L225.5 716.9M230.4 719.0L227.9 720.6M223.0 718.5L225.3 722.2M225.5 716.9L223.0 718.5M227.9 720.6L225.3 722.2M220.4 720.1L222.8 723.9M223.0 718.5L220.4 720.1M225.3 722.2L222.8 723.9M217.5 720.3L215.1 718.6M215.1 718.6L215.0 715.7M215.0 715.7L217.2 713.7M217.2 713.7L220.1 714.2M220.1 714.2L221.5 716.8M221.5 716.8L220.3 719.5M220.3 719.5L217.5 720.3M218.4 727.8L217.1 730.5M217.1 730.5L214.1 731.2M214.1 731.2L211.7 729.3M211.7 729.3L211.7 726.3M211.7 726.3L214.1 724.4M214.1 724.4L217.1 725.1M217.1 725.1L218.4 727.8M210.2 728.2L212.6 731.8M207.5 730.0L209.9 733.6M210.2 728.2L207.5 730.0M212.6 731.8L209.9 733.6M204.7 731.8L207.2 735.4M207.5 730.0L204.7 731.8M209.9 733.6L207.2 735.4M202.0 733.6L204.5 737.2M204.7 731.8L202.0 733.6M207.2 735.4L204.5 737.2M199.3 735.4L201.7 739.0M202.0 733.6L199.3 735.4M204.5 737.2L201.7 739.0M196.6 737.2L199.0 740.8M199.3 735.4L196.6 737.2M201.7 739.0L199.0 740.8M197.0 743.9L196.0 746.7M196.0 746.7L193.4 748.2M193.4 748.2L190.4 747.7M190.4 747.7L188.5 745.4M188.5 745.4L188.5 742.4M188.5 742.4L190.4 740.1M190.4 740.1L193.4 739.6M193.4 739.6L196.0 741.1M196.0 741.1L197.0 743.9M187.7 745.0L190.3 748.6M185.3 746.8L187.9 750.4M187.7 745.0L185.3 746.8M190.3 748.6L187.9 750.4M186.7 751.5L185.3 754.3M185.3 754.3L182.3 755.0M182.3 755.0L179.9 753.1M179.9 753.1L179.9 749.9M179.9 749.9L182.3 748.0M182.3 748.0L185.3 748.7M185.3 748.7L186.7 751.5M237.7 716.6L239.3 712.4M240.5 717.6L242.0 713.4M237.7 716.6L240.5 717.6M239.3 712.4L242.0 713.4M243.2 718.6L244.8 714.4M240.5 717.6L243.2 718.6M242.0 713.4L244.8 714.4M252.6 719.0L251.4 721.8M251.4 721.8L248.6 723.0M248.6 723.0L245.8 721.8M245.8 721.8L244.6 719.0M244.6 719.0L245.8 716.2M245.8 716.2L248.6 715.0M248.6 715.0L251.4 716.2M251.4 716.2L252.6 719.0M251.6 723.5L253.4 719.5M254.5 724.8L256.3 720.9M251.6 723.5L254.5 724.8M253.4 719.5L256.3 720.9M257.4 726.2L259.2 722.2M254.5 724.8L257.4 726.2M256.3 720.9L259.2 722.2M260.3 727.6L262.1 723.6M257.4 726.2L260.3 727.6M259.2 722.2L262.1 723.6M263.2 728.9L265.0 724.9M260.3 727.6L263.2 728.9M262.1 723.6L265.0 724.9M266.1 730.3L267.9 726.3M263.2 728.9L266.1 730.3M265.0 724.9L267.9 726.3M269.0 731.6L270.8 727.7M266.1 730.3L269.0 731.6M267.9 726.3L270.8 727.7M271.9 733.0L273.7 729.0M269.0 731.6L271.9 733.0M270.8 727.7L273.7 729.0M280.0 732.7L278.6 735.5M278.6 735.5L275.6 736.2M275.6 736.2L273.2 734.3M273.2 734.3L273.2 731.1M273.2 731.1L275.6 729.2M275.6 729.2L278.6 729.9M278.6 729.9L280.0 732.7M278.8 736.5L280.8 732.5M285.7 736.4L284.2 739.0M284.2 739.0L281.2 739.0M281.2 739.0L279.7 736.4M279.7 736.4L281.2 733.8M281.2 733.8L284.2 733.8M284.2 733.8L285.7 736.4M284.8 740.0L286.8 736.0M287.5 741.4L289.5 737.4M284.8 740.0L287.5 741.4M286.8 736.0L289.5 737.4M290.2 742.8L292.2 738.8M287.5 741.4L290.2 742.8M289.5 737.4L292.2 738.8M298.0 742.4L296.7 745.1M296.7 745.1L293.7 745.8M293.7 745.8L291.3 743.9M291.3 743.9L291.3 740.9M291.3 740.9L293.7 739.0M293.7 739.0L296.7 739.7M296.7 739.7L298.0 742.4M296.9 746.0L298.7 742.0M299.9 747.5L301.8 743.5M296.9 746.0L299.9 747.5M298.7 742.0L301.8 743.5M303.0 748.9L304.9 744.9M299.9 747.5L303.0 748.9M301.8 743.5L304.9 744.9M306.1 750.4L307.9 746.4M303.0 748.9L306.1 750.4M304.9 744.9L307.9 746.4M312.1 749.6L310.3 752.1M310.3 752.1L307.4 751.1M307.4 751.1L307.4 748.1M307.4 748.1L310.3 747.1M310.3 747.1L312.1 749.6M310.9 752.9L313.1 749.1M314.1 754.7L316.3 750.9M310.9 752.9L314.1 754.7M313.1 749.1L316.3 750.9M317.3 756.5L319.5 752.7M314.1 754.7L317.3 756.5M316.3 750.9L319.5 752.7M320.5 758.3L322.7 754.5M317.3 756.5L320.5 758.3M319.5 752.7L322.7 754.5M331.9 759.0L331.0 762.0M331.0 762.0L328.7 764.0M328.7 764.0L325.6 764.4M325.6 764.4L322.8 763.2M322.8 763.2L321.1 760.5M321.1 760.5L321.1 757.5M321.1 757.5L322.8 754.8M322.8 754.8L325.6 753.6M325.6 753.6L328.7 754.0M328.7 754.0L331.0 756.0M331.0 756.0L331.9 759.0M329.9 763.9L332.1 760.1M333.1 765.7L335.3 761.9M329.9 763.9L333.1 765.7M332.1 760.1L335.3 761.9M336.3 767.5L338.5 763.7M333.1 765.7L336.3 767.5M335.3 761.9L338.5 763.7M339.5 769.3L341.7 765.5M336.3 767.5L339.5 769.3M338.5 763.7L341.7 765.5M351.0 770.0L350.1 773.0M350.1 773.0L347.8 775.0M347.8 775.0L344.7 775.4M344.7 775.4L341.9 774.2M341.9 774.2L340.2 771.5M340.2 771.5L340.2 768.5M340.2 768.5L341.9 765.8M341.9 765.8L344.7 764.6M344.7 764.6L347.8 765.0M347.8 765.0L350.1 767.0M350.1 767.0L351.0 770.0" fill="none" stroke="#333" stroke-width="0.75" stroke-opacity="0.9"/>
<path d="M218.3 673.6a1.15 1.15 0 1 0 2.3 0a1.15 1.15 0 1 0 -2.3 0M212.8 680.6a1.15 1.15 0 1 0 2.3 0a1.15 1.15 0 1 0 -2.3 0M216.9 685.4a1.15 1.15 0 1 0 2.3 0a1.15 1.15 0 1 0 -2.3 0M222.2 684.8a1.15 1.15 0 1 0 2.3 0a1.15 1.15 0 1 0 -2.3 0M228.5 700.8a1.15 1.15 0 1 0 2.3 0a1.15 1.15 0 1 0 -2.3 0M225.4 701.4a1.15 1.15 0 1 0 2.3 0a1.15 1.15 0 1 0 -2.3 0M241.7 689.3a1.15 1.15 0 1 0 2.3 0a1.15 1.15 0 1 0 -2.3 0M243.9 687.0a1.15 1.15 0 1 0 2.3 0a1.15 1.15 0 1 0 -2.3 0M249.5 684.0a1.15 1.15 0 1 0 2.3 0a1.15 1.15 0 1 0 -2.3 0M229.5 713.6a1.15 1.15 0 1 0 2.3 0a1.15 1.15 0 1 0 -2.3 0M226.9 715.3a1.15 1.15 0 1 0 2.3 0a1.15 1.15 0 1 0 -2.3 0M224.4 716.9a1.15 1.15 0 1 0 2.3 0a1.15 1.15 0 1 0 -2.3 0M221.8 718.5a1.15 1.15 0 1 0 2.3 0a1.15 1.15 0 1 0 -2.3 0M211.5 731.8a1.15 1.15 0 1 0 2.3 0a1.15 1.15 0 1 0 -2.3 0M194.8 741.1a1.15 1.15 0 1 0 2.3 0a1.15 1.15 0 1 0 -2.3 0M181.1 755.0a1.15 1.15 0 1 0 2.3 0a1.15 1.15 0 1 0 -2.3 0M178.7 753.1a1.15 1.15 0 1 0 2.3 0a1.15 1.15 0 1 0 -2.3 0M236.6 716.6a1.15 1.15 0 1 0 2.3 0a1.15 1.15 0 1 0 -2.3 0M242.1 718.6a1.15 1.15 0 1 0 2.3 0a1.15 1.15 0 1 0 -2.3 0M252.3 719.5a1.15 1.15 0 1 0 2.3 0a1.15 1.15 0 1 0 -2.3 0M258.1 722.2a1.15 1.15 0 1 0 2.3 0a1.15 1.15 0 1 0 -2.3 0M262.0 728.9a1.15 1.15 0 1 0 2.3 0a1.15 1.15 0 1 0 -2.3 0M264.9 730.3a1.15 1.15 0 1 0 2.3 0a1.15 1.15 0 1 0 -2.3 0M266.8 726.3a1.15 1.15 0 1 0 2.3 0a1.15 1.15 0 1 0 -2.3 0M269.7 727.7a1.15 1.15 0 1 0 2.3 0a1.15 1.15 0 1 0 -2.3 0M277.7 736.5a1.15 1.15 0 1 0 2.3 0a1.15 1.15 0 1 0 -2.3 0M295.7 746.0a1.15 1.15 0 1 0 2.3 0a1.15 1.15 0 1 0 -2.3 0M301.8 748.9a1.15 1.15 0 1 0 2.3 0a1.15 1.15 0 1 0 -2.3 0M309.8 752.9a1.15 1.15 0 1 0 2.3 0a1.15 1.15 0 1 0 -2.3 0M321.5 754.5a1.15 1.15 0 1 0 2.3 0a1.15 1.15 0 1 0 -2.3 0M335.2 767.5a1.15 1.15 0 1 0 2.3 0a1.15 1.15 0 1 0 -2.3 0" fill="#4B5D23"/>
<path d="M217.6 676.7a1.15 1.15 0 1 0 2.3 0a1.15 1.15 0 1 0 -2.3 0M215.6 679.2a1.15 1.15 0 1 0 2.3 0a1.15 1.15 0 1 0 -2.3 0M204.7 676.7a1.15 1.15 0 1 0 2.3 0a1.15 1.15 0 1 0 -2.3 0M204.7 670.5a1.15 1.15 0 1 0 2.3 0a1.15 1.15 0 1 0 -2.3 0M209.5 666.6a1.15 1.15 0 1 0 2.3 0a1.15 1.15 0 1 0 -2.3 0M215.6 668.0a1.15 1.15 0 1 0 2.3 0a1.15 1.15 0 1 0 -2.3 0M213.3 681.0a1.15 1.15 0 1 0 2.3 0a1.15 1.15 0 1 0 -2.3 0M216.8 678.2a1.15 1.15 0 1 0 2.3 0a1.15 1.15 0 1 0 -2.3 0M215.1 683.2a1.15 1.15 0 1 0 2.3 0a1.15 1.15 0 1 0 -2.3 0M218.6 680.4a1.15 1.15 0 1 0 2.3 0a1.15 1.15 0 1 0 -2.3 0M220.4 682.6a1.15 1.15 0 1 0 2.3 0a1.15 1.15 0 1 0 -2.3 0M218.7 687.6a1.15 1.15 0 1 0 2.3 0a1.15 1.15 0 1 0 -2.3 0M222.4 700.8a1.15 1.15 0 1 0 2.3 0a1.15 1.15 0 1 0 -2.3 0M231.1 687.7a1.15 1.15 0 1 0 2.3 0a1.15 1.15 0 1 0 -2.3 0M232.8 690.3a1.15 1.15 0 1 0 2.3 0a1.15 1.15 0 1 0 -2.3 0M233.8 708.9a1.15 1.15 0 1 0 2.3 0a1.15 1.15 0 1 0 -2.3 0M232.5 711.6a1.15 1.15 0 1 0 2.3 0a1.15 1.15 0 1 0 -2.3 0M229.6 712.2a1.15 1.15 0 1 0 2.3 0a1.15 1.15 0 1 0 -2.3 0M227.3 710.4a1.15 1.15 0 1 0 2.3 0a1.15 1.15 0 1 0 -2.3 0M227.3 707.4a1.15 1.15 0 1 0 2.3 0a1.15 1.15 0 1 0 -2.3 0M229.6 705.6a1.15 1.15 0 1 0 2.3 0a1.15 1.15 0 1 0 -2.3 0M232.5 706.2a1.15 1.15 0 1 0 2.3 0a1.15 1.15 0 1 0 -2.3 0M239.2 704.3a1.15 1.15 0 1 0 2.3 0a1.15 1.15 0 1 0 -2.3 0M238.3 698.1a1.15 1.15 0 1 0 2.3 0a1.15 1.15 0 1 0 -2.3 0M238.8 694.9a1.15 1.15 0 1 0 2.3 0a1.15 1.15 0 1 0 -2.3 0M239.9 691.9a1.15 1.15 0 1 0 2.3 0a1.15 1.15 0 1 0 -2.3 0M258.9 684.2a1.15 1.15 0 1 0 2.3 0a1.15 1.15 0 1 0 -2.3 0M264.4 687.5a1.15 1.15 0 1 0 2.3 0a1.15 1.15 0 1 0 -2.3 0M266.5 689.9a1.15 1.15 0 1 0 2.3 0a1.15 1.15 0 1 0 -2.3 0M268.1 692.6a1.15 1.15 0 1 0 2.3 0a1.15 1.15 0 1 0 -2.3 0M269.1 695.6a1.15 1.15 0 1 0 2.3 0a1.15 1.15 0 1 0 -2.3 0M268.2 705.0a1.15 1.15 0 1 0 2.3 0a1.15 1.15 0 1 0 -2.3 0M266.7 707.8a1.15 1.15 0 1 0 2.3 0a1.15 1.15 0 1 0 -2.3 0M256.2 714.4a1.15 1.15 0 1 0 2.3 0a1.15 1.15 0 1 0 -2.3 0M249.9 714.1a1.15 1.15 0 1 0 2.3 0a1.15 1.15 0 1 0 -2.3 0M241.9 709.0a1.15 1.15 0 1 0 2.3 0a1.15 1.15 0 1 0 -2.3 0M231.8 717.4a1.15 1.15 0 1 0 2.3 0a1.15 1.15 0 1 0 -2.3 0M229.3 719.0a1.15 1.15 0 1 0 2.3 0a1.15 1.15 0 1 0 -2.3 0M226.7 720.6a1.15 1.15 0 1 0 2.3 0a1.15 1.15 0 1 0 -2.3 0M224.2 722.2a1.15 1.15 0 1 0 2.3 0a1.15 1.15 0 1 0 -2.3 0M219.3 720.1a1.15 1.15 0 1 0 2.3 0a1.15 1.15 0 1 0 -2.3 0M221.6 723.9a1.15 1.15 0 1 0 2.3 0a1.15 1.15 0 1 0 -2.3 0M216.4 720.3a1.15 1.15 0 1 0 2.3 0a1.15 1.15 0 1 0 -2.3 0M214.0 718.6a1.15 1.15 0 1 0 2.3 0a1.15 1.15 0 1 0 -2.3 0M213.8 715.7a1.15 1.15 0 1 0 2.3 0a1.15 1.15 0 1 0 -2.3 0M216.0 713.7a1.15 1.15 0 1 0 2.3 0a1.15 1.15 0 1 0 -2.3 0M220.3 716.8a1.15 1.15 0 1 0 2.3 0a1.15 1.15 0 1 0 -2.3 0M217.2 727.8a1.15 1.15 0 1 0 2.3 0a1.15 1.15 0 1 0 -2.3 0M215.9 730.5a1.15 1.15 0 1 0 2.3 0a1.15 1.15 0 1 0 -2.3 0M210.6 729.3a1.15 1.15 0 1 0 2.3 0a1.15 1.15 0 1 0 -2.3 0M210.6 726.3a1.15 1.15 0 1 0 2.3 0a1.15 1.15 0 1 0 -2.3 0M213.0 724.4a1.15 1.15 0 1 0 2.3 0a1.15 1.15 0 1 0 -2.3 0M215.9 725.1a1.15 1.15 0 1 0 2.3 0a1.15 1.15 0 1 0 -2.3 0M209.0 728.2a1.15 1.15 0 1 0 2.3 0a1.15 1.15 0 1 0 -2.3 0M206.3 730.0a1.15 1.15 0 1 0 2.3 0a1.15 1.15 0 1 0 -2.3 0M208.7 733.6a1.15 1.15 0 1 0 2.3 0a1.15 1.15 0 1 0 -2.3 0M203.6 731.8a1.15 1.15 0 1 0 2.3 0a1.15 1.15 0 1 0 -2.3 0M203.3 737.2a1.15 1.15 0 1 0 2.3 0a1.15 1.15 0 1 0 -2.3 0M198.2 735.4a1.15 1.15 0 1 0 2.3 0a1.15 1.15 0 1 0 -2.3 0M200.6 739.0a1.15 1.15 0 1 0 2.3 0a1.15 1.15 0 1 0 -2.3 0M195.4 737.2a1.15 1.15 0 1 0 2.3 0a1.15 1.15 0 1 0 -2.3 0M194.8 746.7a1.15 1.15 0 1 0 2.3 0a1.15 1.15 0 1 0 -2.3 0M192.2 748.2a1.15 1.15 0 1 0 2.3 0a1.15 1.15 0 1 0 -2.3 0M189.2 747.7a1.15 1.15 0 1 0 2.3 0a1.15 1.15 0 1 0 -2.3 0M192.2 739.6a1.15 1.15 0 1 0 2.3 0a1.15 1.15 0 1 0 -2.3 0M186.5 745.0a1.15 1.15 0 1 0 2.3 0a1.15 1.15 0 1 0 -2.3 0M189.2 748.6a1.15 1.15 0 1 0 2.3 0a1.15 1.15 0 1 0 -2.3 0M184.1 746.8a1.15 1.15 0 1 0 2.3 0a1.15 1.15 0 1 0 -2.3 0M238.1 712.4a1.15 1.15 0 1 0 2.3 0a1.15 1.15 0 1 0 -2.3 0M239.3 717.6a1.15 1.15 0 1 0 2.3 0a1.15 1.15 0 1 0 -2.3 0M240.9 713.4a1.15 1.15 0 1 0 2.3 0a1.15 1.15 0 1 0 -2.3 0M243.6 714.4a1.15 1.15 0 1 0 2.3 0a1.15 1.15 0 1 0 -2.3 0M247.4 723.0a1.15 1.15 0 1 0 2.3 0a1.15 1.15 0 1 0 -2.3 0M244.6 721.8a1.15 1.15 0 1 0 2.3 0a1.15 1.15 0 1 0 -2.3 0M244.6 716.2a1.15 1.15 0 1 0 2.3 0a1.15 1.15 0 1 0 -2.3 0M247.4 715.0a1.15 1.15 0 1 0 2.3 0a1.15 1.15 0 1 0 -2.3 0M250.4 723.5a1.15 1.15 0 1 0 2.3 0a1.15 1.15 0 1 0 -2.3 0M253.3 724.8a1.15 1.15 0 1 0 2.3 0a1.15 1.15 0 1 0 -2.3 0M255.2 720.9a1.15 1.15 0 1 0 2.3 0a1.15 1.15 0 1 0 -2.3 0M256.2 726.2a1.15 1.15 0 1 0 2.3 0a1.15 1.15 0 1 0 -2.3 0M259.1 727.6a1.15 1.15 0 1 0 2.3 0a1.15 1.15 0 1 0 -2.3 0M261.0 723.6a1.15 1.15 0 1 0 2.3 0a1.15 1.15 0 1 0 -2.3 0M263.9 724.9a1.15 1.15 0 1 0 2.3 0a1.15 1.15 0 1 0 -2.3 0M267.8 731.6a1.15 1.15 0 1 0 2.3 0a1.15 1.15 0 1 0 -2.3 0M270.7 733.0a1.15 1.15 0 1 0 2.3 0a1.15 1.15 0 1 0 -2.3 0M272.6 729.0a1.15 1.15 0 1 0 2.3 0a1.15 1.15 0 1 0 -2.3 0M278.9 732.7a1.15 1.15 0 1 0 2.3 0a1.15 1.15 0 1 0 -2.3 0M277.5 735.5a1.15 1.15 0 1 0 2.3 0a1.15 1.15 0 1 0 -2.3 0M272.0 731.1a1.15 1.15 0 1 0 2.3 0a1.15 1.15 0 1 0 -2.3 0M274.4 729.2a1.15 1.15 0 1 0 2.3 0a1.15 1.15 0 1 0 -2.3 0M279.6 732.5a1.15 1.15 0 1 0 2.3 0a1.15 1.15 0 1 0 -2.3 0M284.6 736.4a1.15 1.15 0 1 0 2.3 0a1.15 1.15 0 1 0 -2.3 0M283.1 739.0a1.15 1.15 0 1 0 2.3 0a1.15 1.15 0 1 0 -2.3 0M283.6 740.0a1.15 1.15 0 1 0 2.3 0a1.15 1.15 0 1 0 -2.3 0M285.7 736.0a1.15 1.15 0 1 0 2.3 0a1.15 1.15 0 1 0 -2.3 0M286.3 741.4a1.15 1.15 0 1 0 2.3 0a1.15 1.15 0 1 0 -2.3 0M288.4 737.4a1.15 1.15 0 1 0 2.3 0a1.15 1.15 0 1 0 -2.3 0M289.0 742.8a1.15 1.15 0 1 0 2.3 0a1.15 1.15 0 1 0 -2.3 0M291.1 738.8a1.15 1.15 0 1 0 2.3 0a1.15 1.15 0 1 0 -2.3 0M296.9 742.4a1.15 1.15 0 1 0 2.3 0a1.15 1.15 0 1 0 -2.3 0M295.5 745.1a1.15 1.15 0 1 0 2.3 0a1.15 1.15 0 1 0 -2.3 0M292.6 745.8a1.15 1.15 0 1 0 2.3 0a1.15 1.15 0 1 0 -2.3 0M290.2 743.9a1.15 1.15 0 1 0 2.3 0a1.15 1.15 0 1 0 -2.3 0M290.2 740.9a1.15 1.15 0 1 0 2.3 0a1.15 1.15 0 1 0 -2.3 0M297.6 742.0a1.15 1.15 0 1 0 2.3 0a1.15 1.15 0 1 0 -2.3 0M298.8 747.5a1.15 1.15 0 1 0 2.3 0a1.15 1.15 0 1 0 -2.3 0M300.7 743.5a1.15 1.15 0 1 0 2.3 0a1.15 1.15 0 1 0 -2.3 0M303.7 744.9a1.15 1.15 0 1 0 2.3 0a1.15 1.15 0 1 0 -2.3 0M304.9 750.4a1.15 1.15 0 1 0 2.3 0a1.15 1.15 0 1 0 -2.3 0M306.8 746.4a1.15 1.15 0 1 0 2.3 0a1.15 1.15 0 1 0 -2.3 0M309.2 747.1a1.15 1.15 0 1 0 2.3 0a1.15 1.15 0 1 0 -2.3 0M311.9 749.1a1.15 1.15 0 1 0 2.3 0a1.15 1.15 0 1 0 -2.3 0M313.0 754.7a1.15 1.15 0 1 0 2.3 0a1.15 1.15 0 1 0 -2.3 0M315.1 750.9a1.15 1.15 0 1 0 2.3 0a1.15 1.15 0 1 0 -2.3 0M316.2 756.5a1.15 1.15 0 1 0 2.3 0a1.15 1.15 0 1 0 -2.3 0M318.3 752.7a1.15 1.15 0 1 0 2.3 0a1.15 1.15 0 1 0 -2.3 0M319.4 758.3a1.15 1.15 0 1 0 2.3 0a1.15 1.15 0 1 0 -2.3 0M330.8 759.0a1.15 1.15 0 1 0 2.3 0a1.15 1.15 0 1 0 -2.3 0M324.5 764.4a1.15 1.15 0 1 0 2.3 0a1.15 1.15 0 1 0 -2.3 0M320.0 760.5a1.15 1.15 0 1 0 2.3 0a1.15 1.15 0 1 0 -2.3 0M320.0 757.5a1.15 1.15 0 1 0 2.3 0a1.15 1.15 0 1 0 -2.3 0M324.5 753.6a1.15 1.15 0 1 0 2.3 0a1.15 1.15 0 1 0 -2.3 0M327.5 754.0a1.15 1.15 0 1 0 2.3 0a1.15 1.15 0 1 0 -2.3 0M328.8 763.9a1.15 1.15 0 1 0 2.3 0a1.15 1.15 0 1 0 -2.3 0M330.9 760.1a1.15 1.15 0 1 0 2.3 0a1.15 1.15 0 1 0 -2.3 0M332.0 765.7a1.15 1.15 0 1 0 2.3 0a1.15 1.15 0 1 0 -2.3 0M334.1 761.9a1.15 1.15 0 1 0 2.3 0a1.15 1.15 0 1 0 -2.3 0M337.3 763.7a1.15 1.15 0 1 0 2.3 0a1.15 1.15 0 1 0 -2.3 0M338.4 769.3a1.15 1.15 0 1 0 2.3 0a1.15 1.15 0 1 0 -2.3 0M340.5 765.5a1.15 1.15 0 1 0 2.3 0a1.15 1.15 0 1 0 -2.3 0M349.9 770.0a1.15 1.15 0 1 0 2.3 0a1.15 1.15 0 1 0 -2.3 0M346.6 775.0a1.15 1.15 0 1 0 2.3 0a1.15 1.15 0 1 0 -2.3 0M343.6 775.4a1.15 1.15 0 1 0 2.3 0a1.15 1.15 0 1 0 -2.3 0M339.1 771.5a1.15 1.15 0 1 0 2.3 0a1.15 1.15 0 1 0 -2.3 0M346.6 765.0a1.15 1.15 0 1 0 2.3 0a1.15 1.15 0 1 0 -2.3 0" fill="#2A7F2A"/>
<path d="M209.5 680.6a1.15 1.15 0 1 0 2.3 0a1.15 1.15 0 1 0 -2.3 0M204.0 673.6a1.15 1.15 0 1 0 2.3 0a1.15 1.15 0 1 0 -2.3 0M206.7 668.0a1.15 1.15 0 1 0 2.3 0a1.15 1.15 0 1 0 -2.3 0M238.4 701.2a1.15 1.15 0 1 0 2.3 0a1.15 1.15 0 1 0 -2.3 0M246.5 685.2a1.15 1.15 0 1 0 2.3 0a1.15 1.15 0 1 0 -2.3 0M261.8 685.6a1.15 1.15 0 1 0 2.3 0a1.15 1.15 0 1 0 -2.3 0M253.0 714.6a1.15 1.15 0 1 0 2.3 0a1.15 1.15 0 1 0 -2.3 0M246.9 713.0a1.15 1.15 0 1 0 2.3 0a1.15 1.15 0 1 0 -2.3 0M213.0 731.2a1.15 1.15 0 1 0 2.3 0a1.15 1.15 0 1 0 -2.3 0M185.5 751.5a1.15 1.15 0 1 0 2.3 0a1.15 1.15 0 1 0 -2.3 0M184.2 754.3a1.15 1.15 0 1 0 2.3 0a1.15 1.15 0 1 0 -2.3 0M251.4 719.0a1.15 1.15 0 1 0 2.3 0a1.15 1.15 0 1 0 -2.3 0M250.3 721.8a1.15 1.15 0 1 0 2.3 0a1.15 1.15 0 1 0 -2.3 0M243.4 719.0a1.15 1.15 0 1 0 2.3 0a1.15 1.15 0 1 0 -2.3 0M250.3 716.2a1.15 1.15 0 1 0 2.3 0a1.15 1.15 0 1 0 -2.3 0M274.4 736.2a1.15 1.15 0 1 0 2.3 0a1.15 1.15 0 1 0 -2.3 0M272.0 734.3a1.15 1.15 0 1 0 2.3 0a1.15 1.15 0 1 0 -2.3 0M277.5 729.9a1.15 1.15 0 1 0 2.3 0a1.15 1.15 0 1 0 -2.3 0M292.6 739.0a1.15 1.15 0 1 0 2.3 0a1.15 1.15 0 1 0 -2.3 0M295.5 739.7a1.15 1.15 0 1 0 2.3 0a1.15 1.15 0 1 0 -2.3 0M311.0 749.6a1.15 1.15 0 1 0 2.3 0a1.15 1.15 0 1 0 -2.3 0M309.2 752.1a1.15 1.15 0 1 0 2.3 0a1.15 1.15 0 1 0 -2.3 0M306.2 751.1a1.15 1.15 0 1 0 2.3 0a1.15 1.15 0 1 0 -2.3 0M306.2 748.1a1.15 1.15 0 1 0 2.3 0a1.15 1.15 0 1 0 -2.3 0M329.9 762.0a1.15 1.15 0 1 0 2.3 0a1.15 1.15 0 1 0 -2.3 0M327.5 764.0a1.15 1.15 0 1 0 2.3 0a1.15 1.15 0 1 0 -2.3 0M321.6 763.2a1.15 1.15 0 1 0 2.3 0a1.15 1.15 0 1 0 -2.3 0M321.6 754.8a1.15 1.15 0 1 0 2.3 0a1.15 1.15 0 1 0 -2.3 0M329.9 756.0a1.15 1.15 0 1 0 2.3 0a1.15 1.15 0 1 0 -2.3 0M349.0 773.0a1.15 1.15 0 1 0 2.3 0a1.15 1.15 0 1 0 -2.3 0M340.7 774.2a1.15 1.15 0 1 0 2.3 0a1.15 1.15 0 1 0 -2.3 0M339.1 768.5a1.15 1.15 0 1 0 2.3 0a1.15 1.15 0 1 0 -2.3 0M340.7 765.8a1.15 1.15 0 1 0 2.3 0a1.15 1.15 0 1 0 -2.3 0M343.6 764.6a1.15 1.15 0 1 0 2.3 0a1.15 1.15 0 1 0 -2.3 0M349.0 767.0a1.15 1.15 0 1 0 2.3 0a1.15 1.15 0 1 0 -2.3 0" fill="#B5121B"/>
<path d="M206.7 679.2a1.15 1.15 0 1 0 2.3 0a1.15 1.15 0 1 0 -2.3 0M212.8 666.6a1.15 1.15 0 1 0 2.3 0a1.15 1.15 0 1 0 -2.3 0M217.6 670.5a1.15 1.15 0 1 0 2.3 0a1.15 1.15 0 1 0 -2.3 0M233.4 693.4a1.15 1.15 0 1 0 2.3 0a1.15 1.15 0 1 0 -2.3 0M232.8 696.5a1.15 1.15 0 1 0 2.3 0a1.15 1.15 0 1 0 -2.3 0M231.1 699.1a1.15 1.15 0 1 0 2.3 0a1.15 1.15 0 1 0 -2.3 0M219.8 699.1a1.15 1.15 0 1 0 2.3 0a1.15 1.15 0 1 0 -2.3 0M218.1 696.5a1.15 1.15 0 1 0 2.3 0a1.15 1.15 0 1 0 -2.3 0M217.4 693.4a1.15 1.15 0 1 0 2.3 0a1.15 1.15 0 1 0 -2.3 0M218.1 690.3a1.15 1.15 0 1 0 2.3 0a1.15 1.15 0 1 0 -2.3 0M219.8 687.7a1.15 1.15 0 1 0 2.3 0a1.15 1.15 0 1 0 -2.3 0M222.4 686.0a1.15 1.15 0 1 0 2.3 0a1.15 1.15 0 1 0 -2.3 0M225.4 685.4a1.15 1.15 0 1 0 2.3 0a1.15 1.15 0 1 0 -2.3 0M228.5 686.0a1.15 1.15 0 1 0 2.3 0a1.15 1.15 0 1 0 -2.3 0M269.4 698.8a1.15 1.15 0 1 0 2.3 0a1.15 1.15 0 1 0 -2.3 0M264.6 710.3a1.15 1.15 0 1 0 2.3 0a1.15 1.15 0 1 0 -2.3 0M262.1 712.2a1.15 1.15 0 1 0 2.3 0a1.15 1.15 0 1 0 -2.3 0M195.8 743.9a1.15 1.15 0 1 0 2.3 0a1.15 1.15 0 1 0 -2.3 0M187.3 745.4a1.15 1.15 0 1 0 2.3 0a1.15 1.15 0 1 0 -2.3 0M187.3 742.4a1.15 1.15 0 1 0 2.3 0a1.15 1.15 0 1 0 -2.3 0M189.2 740.1a1.15 1.15 0 1 0 2.3 0a1.15 1.15 0 1 0 -2.3 0M186.8 750.4a1.15 1.15 0 1 0 2.3 0a1.15 1.15 0 1 0 -2.3 0M178.7 749.9a1.15 1.15 0 1 0 2.3 0a1.15 1.15 0 1 0 -2.3 0M181.1 748.0a1.15 1.15 0 1 0 2.3 0a1.15 1.15 0 1 0 -2.3 0M184.2 748.7a1.15 1.15 0 1 0 2.3 0a1.15 1.15 0 1 0 -2.3 0" fill="#A8A010"/>
<path d="M227.8 701.8a1.15 1.15 0 1 0 2.3 0a1.15 1.15 0 1 0 -2.3 0M231.9 700.0a1.15 1.15 0 1 0 2.3 0a1.15 1.15 0 1 0 -2.3 0M229.4 705.5a1.15 1.15 0 1 0 2.3 0a1.15 1.15 0 1 0 -2.3 0M233.5 703.7a1.15 1.15 0 1 0 2.3 0a1.15 1.15 0 1 0 -2.3 0M206.0 735.4a1.15 1.15 0 1 0 2.3 0a1.15 1.15 0 1 0 -2.3 0M200.9 733.6a1.15 1.15 0 1 0 2.3 0a1.15 1.15 0 1 0 -2.3 0M197.9 740.8a1.15 1.15 0 1 0 2.3 0a1.15 1.15 0 1 0 -2.3 0M280.1 733.8a1.15 1.15 0 1 0 2.3 0a1.15 1.15 0 1 0 -2.3 0M283.1 733.8a1.15 1.15 0 1 0 2.3 0a1.15 1.15 0 1 0 -2.3 0" fill="#1A3CA0"/>
<path d="M252.6 683.4a1.15 1.15 0 1 0 2.3 0a1.15 1.15 0 1 0 -2.3 0M255.8 683.5a1.15 1.15 0 1 0 2.3 0a1.15 1.15 0 1 0 -2.3 0M269.2 702.0a1.15 1.15 0 1 0 2.3 0a1.15 1.15 0 1 0 -2.3 0M259.3 713.6a1.15 1.15 0 1 0 2.3 0a1.15 1.15 0 1 0 -2.3 0M244.2 711.2a1.15 1.15 0 1 0 2.3 0a1.15 1.15 0 1 0 -2.3 0M218.9 714.2a1.15 1.15 0 1 0 2.3 0a1.15 1.15 0 1 0 -2.3 0M219.2 719.5a1.15 1.15 0 1 0 2.3 0a1.15 1.15 0 1 0 -2.3 0M280.1 739.0a1.15 1.15 0 1 0 2.3 0a1.15 1.15 0 1 0 -2.3 0M278.6 736.4a1.15 1.15 0 1 0 2.3 0a1.15 1.15 0 1 0 -2.3 0" fill="#138A8A"/>
<path d="M398.5 673.6L397.8 676.7M397.8 676.7L395.8 679.2M395.8 679.2L392.9 680.6M392.9 680.6L389.7 680.6M389.7 680.6L386.8 679.2M386.8 679.2L384.8 676.7M384.8 676.7L384.1 673.6M384.1 673.6L384.8 670.5M384.8 670.5L386.8 668.0M386.8 668.0L389.7 666.6M389.7 666.6L392.9 666.6M392.9 666.6L395.8 668.0M395.8 668.0L397.8 670.5M397.8 670.5L398.5 673.6M393.5 681.0L396.9 678.2M395.3 683.2L398.7 680.4M393.5 681.0L395.3 683.2M396.9 678.2L398.7 680.4M397.1 685.4L400.5 682.6M395.3 683.2L397.1 685.4M398.7 680.4L400.5 682.6M398.9 687.6L402.3 684.8M397.1 685.4L398.9 687.6M400.5 682.6L402.3 684.8M413.6 693.4L413.0 696.5M413.0 696.5L411.3 699.1M411.3 699.1L408.7 700.8M408.7 700.8L405.6 701.4M405.6 701.4L402.5 700.8M402.5 700.8L399.9 699.1M399.9 699.1L398.2 696.5M398.2 696.5L397.6 693.4M397.6 693.4L398.2 690.3M398.2 690.3L399.9 687.7M399.9 687.7L402.5 686.0M402.5 686.0L405.6 685.4M405.6 685.4L408.7 686.0M408.7 686.0L411.3 687.7M411.3 687.7L413.0 690.3M413.0 690.3L413.6 693.4M408.0 701.8L412.0 700.0M409.6 705.5L413.6 703.7M408.0 701.8L409.6 705.5M412.0 700.0L413.6 703.7M413.9 708.9L412.6 711.6M412.6 711.6L409.7 712.2M409.7 712.2L407.4 710.4M407.4 710.4L407.4 707.4M407.4 707.4L409.7 705.6M409.7 705.6L412.6 706.2M412.6 706.2L413.9 708.9M421.0 701.9L420.2 698.9M420.2 698.9L420.2 695.7M420.2 695.7L420.8 692.6M420.8 692.6L422.1 689.7M422.1 689.7L424.0 687.2M424.0 687.2L426.4 685.1M426.4 685.1L429.1 683.6M429.1 683.6L432.2 682.8M432.2 682.8L435.3 682.6M435.3 682.6L438.5 683.2M438.5 683.2L441.4 684.3M441.4 684.3L444.0 686.2M444.0 686.2L446.1 688.5M446.1 688.5L447.7 691.2M447.7 691.2L448.6 694.2M448.6 694.2L448.9 697.4M448.9 697.4L448.5 700.5M448.5 700.5L447.4 703.5M447.4 703.5L445.6 706.1M445.6 706.1L443.4 708.3M443.4 708.3L440.7 710.0M440.7 710.0L437.7 711.0M437.7 711.0L434.6 711.4M434.6 711.4L431.5 711.1M431.5 711.1L428.5 710.1M428.5 710.1L425.8 708.4M425.8 708.4L423.5 706.3M409.6 713.6L412.0 717.4M407.1 715.3L409.4 719.0M409.6 713.6L407.1 715.3M412.0 717.4L409.4 719.0M404.5 716.9L406.9 720.6M407.1 715.3L404.5 716.9M409.4 719.0L406.9 720.6M402.0 718.5L404.3 722.2M404.5 716.9L402.0 718.5M406.9 720.6L404.3 722.2M399.4 720.1L401.8 723.9M402.0 718.5L399.4 720.1M404.3 722.2L401.8 723.9M396.5 720.3L394.1 718.6M394.1 718.6L394.0 715.7M394.0 715.7L396.2 713.7M396.2 713.7L399.1 714.2M399.1 714.2L400.5 716.8M400.5 716.8L399.3 719.5M399.3 719.5L396.5 720.3M397.4 727.8L396.1 730.5M396.1 730.5L393.1 731.2M393.1 731.2L390.7 729.3M390.7 729.3L390.7 726.3M390.7 726.3L393.1 724.4M393.1 724.4L396.1 725.1M396.1 725.1L397.4 727.8M389.2 728.2L391.6 731.8M386.5 730.0L388.9 733.6M389.2 728.2L386.5 730.0M391.6 731.8L388.9 733.6M383.7 731.8L386.2 735.4M386.5 730.0L383.7 731.8M388.9 733.6L386.2 735.4M381.0 733.6L383.5 737.2M383.7 731.8L381.0 733.6M386.2 735.4L383.5 737.2M378.3 735.4L380.7 739.0M381.0 733.6L378.3 735.4M383.5 737.2L380.7 739.0M375.6 737.2L378.0 740.8M378.3 735.4L375.6 737.2M380.7 739.0L378.0 740.8M376.0 743.9L375.0 746.7M375.0 746.7L372.4 748.2M372.4 748.2L369.4 747.7M369.4 747.7L367.5 745.4M367.5 745.4L367.5 742.4M367.5 742.4L369.4 740.1M369.4 740.1L372.4 739.6M372.4 739.6L375.0 741.1M375.0 741.1L376.0 743.9M366.7 745.0L369.3 748.6M364.3 746.8L366.9 750.4M366.7 745.0L364.3 746.8M369.3 748.6L366.9 750.4M365.7 751.5L364.3 754.3M364.3 754.3L361.3 755.0M361.3 755.0L358.9 753.1M358.9 753.1L358.9 749.9M358.9 749.9L361.3 748.0M361.3 748.0L364.3 748.7M364.3 748.7L365.7 751.5M416.7 716.6L418.3 712.4M419.5 717.6L421.0 713.4M416.7 716.6L419.5 717.6M418.3 712.4L421.0 713.4M422.2 718.6L423.8 714.4M419.5 717.6L422.2 718.6M421.0 713.4L423.8 714.4M431.6 719.0L430.4 721.8M430.4 721.8L427.6 723.0M427.6 723.0L424.8 721.8M424.8 721.8L423.6 719.0M423.6 719.0L424.8 716.2M424.8 716.2L427.6 715.0M427.6 715.0L430.4 716.2M430.4 716.2L431.6 719.0M430.6 723.5L432.4 719.5M433.5 724.8L435.3 720.9M430.6 723.5L433.5 724.8M432.4 719.5L435.3 720.9M436.4 726.2L438.2 722.2M433.5 724.8L436.4 726.2M435.3 720.9L438.2 722.2M439.3 727.6L441.1 723.6M436.4 726.2L439.3 727.6M438.2 722.2L441.1 723.6M442.2 728.9L444.0 724.9M439.3 727.6L442.2 728.9M441.1 723.6L444.0 724.9M445.1 730.3L446.9 726.3M442.2 728.9L445.1 730.3M444.0 724.9L446.9 726.3M448.0 731.6L449.8 727.7M445.1 730.3L448.0 731.6M446.9 726.3L449.8 727.7M450.9 733.0L452.7 729.0M448.0 731.6L450.9 733.0M449.8 727.7L452.7 729.0M459.0 732.7L457.6 735.5M457.6 735.5L454.6 736.2M454.6 736.2L452.2 734.3M452.2 734.3L452.2 731.1M452.2 731.1L454.6 729.2M454.6 729.2L457.6 729.9M457.6 729.9L459.0 732.7M457.8 736.5L459.8 732.5M464.7 736.4L463.2 739.0M463.2 739.0L460.2 739.0M460.2 739.0L458.7 736.4M458.7 736.4L460.2 733.8M460.2 733.8L463.2 733.8M463.2 733.8L464.7 736.4M463.8 740.0L465.8 736.0M466.5 741.4L468.5 737.4M463.8 740.0L466.5 741.4M465.8 736.0L468.5 737.4M469.2 742.8L471.2 738.8M466.5 741.4L469.2 742.8M468.5 737.4L471.2 738.8M477.0 742.4L475.7 745.1M475.7 745.1L472.7 745.8M472.7 745.8L470.3 743.9M470.3 743.9L470.3 740.9M470.3 740.9L472.7 739.0M472.7 739.0L475.7 739.7M475.7 739.7L477.0 742.4M475.9 746.0L477.7 742.0M478.9 747.5L480.8 743.5M475.9 746.0L478.9 747.5M477.7 742.0L480.8 743.5M482.0 748.9L483.9 744.9M478.9 747.5L482.0 748.9M480.8 743.5L483.9 744.9M485.1 750.4L486.9 746.4M482.0 748.9L485.1 750.4M483.9 744.9L486.9 746.4M491.1 749.6L489.3 752.1M489.3 752.1L486.4 751.1M486.4 751.1L486.4 748.1M486.4 748.1L489.3 747.1M489.3 747.1L491.1 749.6M489.9 752.9L492.1 749.1M493.1 754.7L495.3 750.9M489.9 752.9L493.1 754.7M492.1 749.1L495.3 750.9M496.3 756.5L498.5 752.7M493.1 754.7L496.3 756.5M495.3 750.9L498.5 752.7M499.5 758.3L501.7 754.5M496.3 756.5L499.5 758.3M498.5 752.7L501.7 754.5M510.9 759.0L510.0 762.0M510.0 762.0L507.7 764.0M507.7 764.0L504.6 764.4M504.6 764.4L501.8 763.2M501.8 763.2L500.1 760.5M500.1 760.5L500.1 757.5M500.1 757.5L501.8 754.8M501.8 754.8L504.6 753.6M504.6 753.6L507.7 754.0M507.7 754.0L510.0 756.0M510.0 756.0L510.9 759.0M508.9 763.9L511.1 760.1M512.1 765.7L514.3 761.9M508.9 763.9L512.1 765.7M511.1 760.1L514.3 761.9M515.3 767.5L517.5 763.7M512.1 765.7L515.3 767.5M514.3 761.9L517.5 763.7M518.5 769.3L520.7 765.5M515.3 767.5L518.5 769.3M517.5 763.7L520.7 765.5M530.0 770.0L529.1 773.0M529.1 773.0L526.8 775.0M526.8 775.0L523.7 775.4M523.7 775.4L520.9 774.2M520.9 774.2L519.2 771.5M519.2 771.5L519.2 768.5M519.2 768.5L520.9 765.8M520.9 765.8L523.7 764.6M523.7 764.6L526.8 765.0M526.8 765.0L529.1 767.0M529.1 767.0L530.0 770.0" fill="none" stroke="#333" stroke-width="0.75" stroke-opacity="0.9"/>
<path d="M397.4 673.6a1.15 1.15 0 1 0 2.3 0a1.15 1.15 0 1 0 -2.3 0M383.7 670.5a1.15 1.15 0 1 0 2.3 0a1.15 1.15 0 1 0 -2.3 0M395.8 678.2a1.15 1.15 0 1 0 2.3 0a1.15 1.15 0 1 0 -2.3 0M397.6 680.4a1.15 1.15 0 1 0 2.3 0a1.15 1.15 0 1 0 -2.3 0M412.5 693.4a1.15 1.15 0 1 0 2.3 0a1.15 1.15 0 1 0 -2.3 0M411.8 696.5a1.15 1.15 0 1 0 2.3 0a1.15 1.15 0 1 0 -2.3 0M407.5 700.8a1.15 1.15 0 1 0 2.3 0a1.15 1.15 0 1 0 -2.3 0M420.9 689.7a1.15 1.15 0 1 0 2.3 0a1.15 1.15 0 1 0 -2.3 0M422.8 687.2a1.15 1.15 0 1 0 2.3 0a1.15 1.15 0 1 0 -2.3 0M447.3 700.5a1.15 1.15 0 1 0 2.3 0a1.15 1.15 0 1 0 -2.3 0M439.6 710.0a1.15 1.15 0 1 0 2.3 0a1.15 1.15 0 1 0 -2.3 0M410.8 717.4a1.15 1.15 0 1 0 2.3 0a1.15 1.15 0 1 0 -2.3 0M405.7 720.6a1.15 1.15 0 1 0 2.3 0a1.15 1.15 0 1 0 -2.3 0M400.8 718.5a1.15 1.15 0 1 0 2.3 0a1.15 1.15 0 1 0 -2.3 0M403.2 722.2a1.15 1.15 0 1 0 2.3 0a1.15 1.15 0 1 0 -2.3 0M374.4 737.2a1.15 1.15 0 1 0 2.3 0a1.15 1.15 0 1 0 -2.3 0M373.8 746.7a1.15 1.15 0 1 0 2.3 0a1.15 1.15 0 1 0 -2.3 0M371.2 748.2a1.15 1.15 0 1 0 2.3 0a1.15 1.15 0 1 0 -2.3 0M368.3 747.7a1.15 1.15 0 1 0 2.3 0a1.15 1.15 0 1 0 -2.3 0M366.3 742.4a1.15 1.15 0 1 0 2.3 0a1.15 1.15 0 1 0 -2.3 0M368.3 740.1a1.15 1.15 0 1 0 2.3 0a1.15 1.15 0 1 0 -2.3 0M371.2 739.6a1.15 1.15 0 1 0 2.3 0a1.15 1.15 0 1 0 -2.3 0M360.1 755.0a1.15 1.15 0 1 0 2.3 0a1.15 1.15 0 1 0 -2.3 0M357.7 749.9a1.15 1.15 0 1 0 2.3 0a1.15 1.15 0 1 0 -2.3 0M363.2 748.7a1.15 1.15 0 1 0 2.3 0a1.15 1.15 0 1 0 -2.3 0M419.9 713.4a1.15 1.15 0 1 0 2.3 0a1.15 1.15 0 1 0 -2.3 0M421.1 718.6a1.15 1.15 0 1 0 2.3 0a1.15 1.15 0 1 0 -2.3 0M437.1 722.2a1.15 1.15 0 1 0 2.3 0a1.15 1.15 0 1 0 -2.3 0M448.7 727.7a1.15 1.15 0 1 0 2.3 0a1.15 1.15 0 1 0 -2.3 0M451.6 729.0a1.15 1.15 0 1 0 2.3 0a1.15 1.15 0 1 0 -2.3 0M465.3 741.4a1.15 1.15 0 1 0 2.3 0a1.15 1.15 0 1 0 -2.3 0M467.4 737.4a1.15 1.15 0 1 0 2.3 0a1.15 1.15 0 1 0 -2.3 0M477.8 747.5a1.15 1.15 0 1 0 2.3 0a1.15 1.15 0 1 0 -2.3 0M479.7 743.5a1.15 1.15 0 1 0 2.3 0a1.15 1.15 0 1 0 -2.3 0M480.8 748.9a1.15 1.15 0 1 0 2.3 0a1.15 1.15 0 1 0 -2.3 0M482.7 744.9a1.15 1.15 0 1 0 2.3 0a1.15 1.15 0 1 0 -2.3 0M500.5 754.5a1.15 1.15 0 1 0 2.3 0a1.15 1.15 0 1 0 -2.3 0M513.1 761.9a1.15 1.15 0 1 0 2.3 0a1.15 1.15 0 1 0 -2.3 0" fill="#4B5D23"/>
<path d="M396.6 676.7a1.15 1.15 0 1 0 2.3 0a1.15 1.15 0 1 0 -2.3 0M388.5 680.6a1.15 1.15 0 1 0 2.3 0a1.15 1.15 0 1 0 -2.3 0M385.7 679.2a1.15 1.15 0 1 0 2.3 0a1.15 1.15 0 1 0 -2.3 0M396.6 670.5a1.15 1.15 0 1 0 2.3 0a1.15 1.15 0 1 0 -2.3 0M442.8 686.2a1.15 1.15 0 1 0 2.3 0a1.15 1.15 0 1 0 -2.3 0M447.5 694.2a1.15 1.15 0 1 0 2.3 0a1.15 1.15 0 1 0 -2.3 0M430.3 711.1a1.15 1.15 0 1 0 2.3 0a1.15 1.15 0 1 0 -2.3 0M394.9 725.1a1.15 1.15 0 1 0 2.3 0a1.15 1.15 0 1 0 -2.3 0M357.7 753.1a1.15 1.15 0 1 0 2.3 0a1.15 1.15 0 1 0 -2.3 0M426.5 723.0a1.15 1.15 0 1 0 2.3 0a1.15 1.15 0 1 0 -2.3 0M423.6 716.2a1.15 1.15 0 1 0 2.3 0a1.15 1.15 0 1 0 -2.3 0M426.5 715.0a1.15 1.15 0 1 0 2.3 0a1.15 1.15 0 1 0 -2.3 0M429.3 716.2a1.15 1.15 0 1 0 2.3 0a1.15 1.15 0 1 0 -2.3 0M457.9 732.7a1.15 1.15 0 1 0 2.3 0a1.15 1.15 0 1 0 -2.3 0M453.4 736.2a1.15 1.15 0 1 0 2.3 0a1.15 1.15 0 1 0 -2.3 0M451.0 734.3a1.15 1.15 0 1 0 2.3 0a1.15 1.15 0 1 0 -2.3 0M456.5 729.9a1.15 1.15 0 1 0 2.3 0a1.15 1.15 0 1 0 -2.3 0M475.9 742.4a1.15 1.15 0 1 0 2.3 0a1.15 1.15 0 1 0 -2.3 0M474.5 745.1a1.15 1.15 0 1 0 2.3 0a1.15 1.15 0 1 0 -2.3 0M471.6 745.8a1.15 1.15 0 1 0 2.3 0a1.15 1.15 0 1 0 -2.3 0M474.5 739.7a1.15 1.15 0 1 0 2.3 0a1.15 1.15 0 1 0 -2.3 0M490.0 749.6a1.15 1.15 0 1 0 2.3 0a1.15 1.15 0 1 0 -2.3 0M485.2 751.1a1.15 1.15 0 1 0 2.3 0a1.15 1.15 0 1 0 -2.3 0M485.2 748.1a1.15 1.15 0 1 0 2.3 0a1.15 1.15 0 1 0 -2.3 0M488.2 747.1a1.15 1.15 0 1 0 2.3 0a1.15 1.15 0 1 0 -2.3 0M509.8 759.0a1.15 1.15 0 1 0 2.3 0a1.15 1.15 0 1 0 -2.3 0M508.9 762.0a1.15 1.15 0 1 0 2.3 0a1.15 1.15 0 1 0 -2.3 0M503.5 764.4a1.15 1.15 0 1 0 2.3 0a1.15 1.15 0 1 0 -2.3 0M500.6 763.2a1.15 1.15 0 1 0 2.3 0a1.15 1.15 0 1 0 -2.3 0M500.6 754.8a1.15 1.15 0 1 0 2.3 0a1.15 1.15 0 1 0 -2.3 0M528.9 770.0a1.15 1.15 0 1 0 2.3 0a1.15 1.15 0 1 0 -2.3 0M525.6 775.0a1.15 1.15 0 1 0 2.3 0a1.15 1.15 0 1 0 -2.3 0M522.6 775.4a1.15 1.15 0 1 0 2.3 0a1.15 1.15 0 1 0 -2.3 0M519.7 774.2a1.15 1.15 0 1 0 2.3 0a1.15 1.15 0 1 0 -2.3 0M518.1 768.5a1.15 1.15 0 1 0 2.3 0a1.15 1.15 0 1 0 -2.3 0M522.6 764.6a1.15 1.15 0 1 0 2.3 0a1.15 1.15 0 1 0 -2.3 0" fill="#B5121B"/>
<path d="M394.6 679.2a1.15 1.15 0 1 0 2.3 0a1.15 1.15 0 1 0 -2.3 0M385.7 668.0a1.15 1.15 0 1 0 2.3 0a1.15 1.15 0 1 0 -2.3 0M404.5 701.4a1.15 1.15 0 1 0 2.3 0a1.15 1.15 0 1 0 -2.3 0M397.1 696.5a1.15 1.15 0 1 0 2.3 0a1.15 1.15 0 1 0 -2.3 0M404.5 685.4a1.15 1.15 0 1 0 2.3 0a1.15 1.15 0 1 0 -2.3 0M407.5 686.0a1.15 1.15 0 1 0 2.3 0a1.15 1.15 0 1 0 -2.3 0M411.8 690.3a1.15 1.15 0 1 0 2.3 0a1.15 1.15 0 1 0 -2.3 0M419.0 695.7a1.15 1.15 0 1 0 2.3 0a1.15 1.15 0 1 0 -2.3 0M425.2 685.1a1.15 1.15 0 1 0 2.3 0a1.15 1.15 0 1 0 -2.3 0M434.2 682.6a1.15 1.15 0 1 0 2.3 0a1.15 1.15 0 1 0 -2.3 0M440.2 684.3a1.15 1.15 0 1 0 2.3 0a1.15 1.15 0 1 0 -2.3 0M445.0 688.5a1.15 1.15 0 1 0 2.3 0a1.15 1.15 0 1 0 -2.3 0M373.8 741.1a1.15 1.15 0 1 0 2.3 0a1.15 1.15 0 1 0 -2.3 0M365.5 745.0a1.15 1.15 0 1 0 2.3 0a1.15 1.15 0 1 0 -2.3 0M368.2 748.6a1.15 1.15 0 1 0 2.3 0a1.15 1.15 0 1 0 -2.3 0M363.1 746.8a1.15 1.15 0 1 0 2.3 0a1.15 1.15 0 1 0 -2.3 0M365.8 750.4a1.15 1.15 0 1 0 2.3 0a1.15 1.15 0 1 0 -2.3 0M364.6 751.5a1.15 1.15 0 1 0 2.3 0a1.15 1.15 0 1 0 -2.3 0M363.2 754.3a1.15 1.15 0 1 0 2.3 0a1.15 1.15 0 1 0 -2.3 0M360.1 748.0a1.15 1.15 0 1 0 2.3 0a1.15 1.15 0 1 0 -2.3 0" fill="#A8A010"/>
<path d="M391.8 680.6a1.15 1.15 0 1 0 2.3 0a1.15 1.15 0 1 0 -2.3 0M383.7 676.7a1.15 1.15 0 1 0 2.3 0a1.15 1.15 0 1 0 -2.3 0M391.8 666.6a1.15 1.15 0 1 0 2.3 0a1.15 1.15 0 1 0 -2.3 0M394.6 668.0a1.15 1.15 0 1 0 2.3 0a1.15 1.15 0 1 0 -2.3 0M392.3 681.0a1.15 1.15 0 1 0 2.3 0a1.15 1.15 0 1 0 -2.3 0M394.1 683.2a1.15 1.15 0 1 0 2.3 0a1.15 1.15 0 1 0 -2.3 0M397.7 687.6a1.15 1.15 0 1 0 2.3 0a1.15 1.15 0 1 0 -2.3 0M401.2 684.8a1.15 1.15 0 1 0 2.3 0a1.15 1.15 0 1 0 -2.3 0M410.1 699.1a1.15 1.15 0 1 0 2.3 0a1.15 1.15 0 1 0 -2.3 0M401.4 700.8a1.15 1.15 0 1 0 2.3 0a1.15 1.15 0 1 0 -2.3 0M398.8 699.1a1.15 1.15 0 1 0 2.3 0a1.15 1.15 0 1 0 -2.3 0M396.5 693.4a1.15 1.15 0 1 0 2.3 0a1.15 1.15 0 1 0 -2.3 0M397.1 690.3a1.15 1.15 0 1 0 2.3 0a1.15 1.15 0 1 0 -2.3 0M398.8 687.7a1.15 1.15 0 1 0 2.3 0a1.15 1.15 0 1 0 -2.3 0M401.4 686.0a1.15 1.15 0 1 0 2.3 0a1.15 1.15 0 1 0 -2.3 0M410.1 687.7a1.15 1.15 0 1 0 2.3 0a1.15 1.15 0 1 0 -2.3 0M412.8 708.9a1.15 1.15 0 1 0 2.3 0a1.15 1.15 0 1 0 -2.3 0M411.5 711.6a1.15 1.15 0 1 0 2.3 0a1.15 1.15 0 1 0 -2.3 0M408.6 712.2a1.15 1.15 0 1 0 2.3 0a1.15 1.15 0 1 0 -2.3 0M406.3 710.4a1.15 1.15 0 1 0 2.3 0a1.15 1.15 0 1 0 -2.3 0M406.3 707.4a1.15 1.15 0 1 0 2.3 0a1.15 1.15 0 1 0 -2.3 0M408.6 705.6a1.15 1.15 0 1 0 2.3 0a1.15 1.15 0 1 0 -2.3 0M411.5 706.2a1.15 1.15 0 1 0 2.3 0a1.15 1.15 0 1 0 -2.3 0M419.8 701.9a1.15 1.15 0 1 0 2.3 0a1.15 1.15 0 1 0 -2.3 0M419.1 698.9a1.15 1.15 0 1 0 2.3 0a1.15 1.15 0 1 0 -2.3 0M419.6 692.6a1.15 1.15 0 1 0 2.3 0a1.15 1.15 0 1 0 -2.3 0M431.0 682.8a1.15 1.15 0 1 0 2.3 0a1.15 1.15 0 1 0 -2.3 0M437.3 683.2a1.15 1.15 0 1 0 2.3 0a1.15 1.15 0 1 0 -2.3 0M446.5 691.2a1.15 1.15 0 1 0 2.3 0a1.15 1.15 0 1 0 -2.3 0M436.6 711.0a1.15 1.15 0 1 0 2.3 0a1.15 1.15 0 1 0 -2.3 0M433.4 711.4a1.15 1.15 0 1 0 2.3 0a1.15 1.15 0 1 0 -2.3 0M427.3 710.1a1.15 1.15 0 1 0 2.3 0a1.15 1.15 0 1 0 -2.3 0M408.5 713.6a1.15 1.15 0 1 0 2.3 0a1.15 1.15 0 1 0 -2.3 0M405.9 715.3a1.15 1.15 0 1 0 2.3 0a1.15 1.15 0 1 0 -2.3 0M408.3 719.0a1.15 1.15 0 1 0 2.3 0a1.15 1.15 0 1 0 -2.3 0M398.3 720.1a1.15 1.15 0 1 0 2.3 0a1.15 1.15 0 1 0 -2.3 0M395.4 720.3a1.15 1.15 0 1 0 2.3 0a1.15 1.15 0 1 0 -2.3 0M393.0 718.6a1.15 1.15 0 1 0 2.3 0a1.15 1.15 0 1 0 -2.3 0M392.8 715.7a1.15 1.15 0 1 0 2.3 0a1.15 1.15 0 1 0 -2.3 0M397.9 714.2a1.15 1.15 0 1 0 2.3 0a1.15 1.15 0 1 0 -2.3 0M399.3 716.8a1.15 1.15 0 1 0 2.3 0a1.15 1.15 0 1 0 -2.3 0M398.2 719.5a1.15 1.15 0 1 0 2.3 0a1.15 1.15 0 1 0 -2.3 0M396.2 727.8a1.15 1.15 0 1 0 2.3 0a1.15 1.15 0 1 0 -2.3 0M394.9 730.5a1.15 1.15 0 1 0 2.3 0a1.15 1.15 0 1 0 -2.3 0M392.0 731.2a1.15 1.15 0 1 0 2.3 0a1.15 1.15 0 1 0 -2.3 0M389.6 729.3a1.15 1.15 0 1 0 2.3 0a1.15 1.15 0 1 0 -2.3 0M389.6 726.3a1.15 1.15 0 1 0 2.3 0a1.15 1.15 0 1 0 -2.3 0M392.0 724.4a1.15 1.15 0 1 0 2.3 0a1.15 1.15 0 1 0 -2.3 0M388.0 728.2a1.15 1.15 0 1 0 2.3 0a1.15 1.15 0 1 0 -2.3 0M390.5 731.8a1.15 1.15 0 1 0 2.3 0a1.15 1.15 0 1 0 -2.3 0M387.7 733.6a1.15 1.15 0 1 0 2.3 0a1.15 1.15 0 1 0 -2.3 0M382.6 731.8a1.15 1.15 0 1 0 2.3 0a1.15 1.15 0 1 0 -2.3 0M379.9 733.6a1.15 1.15 0 1 0 2.3 0a1.15 1.15 0 1 0 -2.3 0M382.3 737.2a1.15 1.15 0 1 0 2.3 0a1.15 1.15 0 1 0 -2.3 0M377.2 735.4a1.15 1.15 0 1 0 2.3 0a1.15 1.15 0 1 0 -2.3 0M376.9 740.8a1.15 1.15 0 1 0 2.3 0a1.15 1.15 0 1 0 -2.3 0M374.9 743.9a1.15 1.15 0 1 0 2.3 0a1.15 1.15 0 1 0 -2.3 0M366.3 745.4a1.15 1.15 0 1 0 2.3 0a1.15 1.15 0 1 0 -2.3 0M417.1 712.4a1.15 1.15 0 1 0 2.3 0a1.15 1.15 0 1 0 -2.3 0M418.3 717.6a1.15 1.15 0 1 0 2.3 0a1.15 1.15 0 1 0 -2.3 0M422.6 714.4a1.15 1.15 0 1 0 2.3 0a1.15 1.15 0 1 0 -2.3 0M430.5 719.0a1.15 1.15 0 1 0 2.3 0a1.15 1.15 0 1 0 -2.3 0M429.3 721.8a1.15 1.15 0 1 0 2.3 0a1.15 1.15 0 1 0 -2.3 0M423.6 721.8a1.15 1.15 0 1 0 2.3 0a1.15 1.15 0 1 0 -2.3 0M422.5 719.0a1.15 1.15 0 1 0 2.3 0a1.15 1.15 0 1 0 -2.3 0M432.3 724.8a1.15 1.15 0 1 0 2.3 0a1.15 1.15 0 1 0 -2.3 0M434.2 720.9a1.15 1.15 0 1 0 2.3 0a1.15 1.15 0 1 0 -2.3 0M435.2 726.2a1.15 1.15 0 1 0 2.3 0a1.15 1.15 0 1 0 -2.3 0M440.0 723.6a1.15 1.15 0 1 0 2.3 0a1.15 1.15 0 1 0 -2.3 0M441.0 728.9a1.15 1.15 0 1 0 2.3 0a1.15 1.15 0 1 0 -2.3 0M442.9 724.9a1.15 1.15 0 1 0 2.3 0a1.15 1.15 0 1 0 -2.3 0M443.9 730.3a1.15 1.15 0 1 0 2.3 0a1.15 1.15 0 1 0 -2.3 0M446.8 731.6a1.15 1.15 0 1 0 2.3 0a1.15 1.15 0 1 0 -2.3 0M456.5 735.5a1.15 1.15 0 1 0 2.3 0a1.15 1.15 0 1 0 -2.3 0M451.0 731.1a1.15 1.15 0 1 0 2.3 0a1.15 1.15 0 1 0 -2.3 0M453.4 729.2a1.15 1.15 0 1 0 2.3 0a1.15 1.15 0 1 0 -2.3 0M456.7 736.5a1.15 1.15 0 1 0 2.3 0a1.15 1.15 0 1 0 -2.3 0M462.1 739.0a1.15 1.15 0 1 0 2.3 0a1.15 1.15 0 1 0 -2.3 0M459.1 739.0a1.15 1.15 0 1 0 2.3 0a1.15 1.15 0 1 0 -2.3 0M462.1 733.8a1.15 1.15 0 1 0 2.3 0a1.15 1.15 0 1 0 -2.3 0M462.6 740.0a1.15 1.15 0 1 0 2.3 0a1.15 1.15 0 1 0 -2.3 0M464.7 736.0a1.15 1.15 0 1 0 2.3 0a1.15 1.15 0 1 0 -2.3 0M468.0 742.8a1.15 1.15 0 1 0 2.3 0a1.15 1.15 0 1 0 -2.3 0M470.1 738.8a1.15 1.15 0 1 0 2.3 0a1.15 1.15 0 1 0 -2.3 0M469.2 743.9a1.15 1.15 0 1 0 2.3 0a1.15 1.15 0 1 0 -2.3 0M469.2 740.9a1.15 1.15 0 1 0 2.3 0a1.15 1.15 0 1 0 -2.3 0M471.6 739.0a1.15 1.15 0 1 0 2.3 0a1.15 1.15 0 1 0 -2.3 0M474.7 746.0a1.15 1.15 0 1 0 2.3 0a1.15 1.15 0 1 0 -2.3 0M476.6 742.0a1.15 1.15 0 1 0 2.3 0a1.15 1.15 0 1 0 -2.3 0M485.8 746.4a1.15 1.15 0 1 0 2.3 0a1.15 1.15 0 1 0 -2.3 0M488.2 752.1a1.15 1.15 0 1 0 2.3 0a1.15 1.15 0 1 0 -2.3 0M488.8 752.9a1.15 1.15 0 1 0 2.3 0a1.15 1.15 0 1 0 -2.3 0M490.9 749.1a1.15 1.15 0 1 0 2.3 0a1.15 1.15 0 1 0 -2.3 0M492.0 754.7a1.15 1.15 0 1 0 2.3 0a1.15 1.15 0 1 0 -2.3 0M495.2 756.5a1.15 1.15 0 1 0 2.3 0a1.15 1.15 0 1 0 -2.3 0M497.3 752.7a1.15 1.15 0 1 0 2.3 0a1.15 1.15 0 1 0 -2.3 0M498.4 758.3a1.15 1.15 0 1 0 2.3 0a1.15 1.15 0 1 0 -2.3 0M506.5 764.0a1.15 1.15 0 1 0 2.3 0a1.15 1.15 0 1 0 -2.3 0M499.0 760.5a1.15 1.15 0 1 0 2.3 0a1.15 1.15 0 1 0 -2.3 0M499.0 757.5a1.15 1.15 0 1 0 2.3 0a1.15 1.15 0 1 0 -2.3 0M503.5 753.6a1.15 1.15 0 1 0 2.3 0a1.15 1.15 0 1 0 -2.3 0M506.5 754.0a1.15 1.15 0 1 0 2.3 0a1.15 1.15 0 1 0 -2.3 0M508.9 756.0a1.15 1.15 0 1 0 2.3 0a1.15 1.15 0 1 0 -2.3 0M507.8 763.9a1.15 1.15 0 1 0 2.3 0a1.15 1.15 0 1 0 -2.3 0M509.9 760.1a1.15 1.15 0 1 0 2.3 0a1.15 1.15 0 1 0 -2.3 0M511.0 765.7a1.15 1.15 0 1 0 2.3 0a1.15 1.15 0 1 0 -2.3 0M514.2 767.5a1.15 1.15 0 1 0 2.3 0a1.15 1.15 0 1 0 -2.3 0M516.3 763.7a1.15 1.15 0 1 0 2.3 0a1.15 1.15 0 1 0 -2.3 0M517.4 769.3a1.15 1.15 0 1 0 2.3 0a1.15 1.15 0 1 0 -2.3 0M519.5 765.5a1.15 1.15 0 1 0 2.3 0a1.15 1.15 0 1 0 -2.3 0M528.0 773.0a1.15 1.15 0 1 0 2.3 0a1.15 1.15 0 1 0 -2.3 0M518.1 771.5a1.15 1.15 0 1 0 2.3 0a1.15 1.15 0 1 0 -2.3 0M519.7 765.8a1.15 1.15 0 1 0 2.3 0a1.15 1.15 0 1 0 -2.3 0M525.6 765.0a1.15 1.15 0 1 0 2.3 0a1.15 1.15 0 1 0 -2.3 0M528.0 767.0a1.15 1.15 0 1 0 2.3 0a1.15 1.15 0 1 0 -2.3 0" fill="#2A7F2A"/>
<path d="M383.0 673.6a1.15 1.15 0 1 0 2.3 0a1.15 1.15 0 1 0 -2.3 0M388.5 666.6a1.15 1.15 0 1 0 2.3 0a1.15 1.15 0 1 0 -2.3 0M447.7 697.4a1.15 1.15 0 1 0 2.3 0a1.15 1.15 0 1 0 -2.3 0M446.2 703.5a1.15 1.15 0 1 0 2.3 0a1.15 1.15 0 1 0 -2.3 0" fill="#E07A10"/>
<path d="M395.9 685.4a1.15 1.15 0 1 0 2.3 0a1.15 1.15 0 1 0 -2.3 0M399.4 682.6a1.15 1.15 0 1 0 2.3 0a1.15 1.15 0 1 0 -2.3 0M428.0 683.6a1.15 1.15 0 1 0 2.3 0a1.15 1.15 0 1 0 -2.3 0M444.5 706.1a1.15 1.15 0 1 0 2.3 0a1.15 1.15 0 1 0 -2.3 0M442.2 708.3a1.15 1.15 0 1 0 2.3 0a1.15 1.15 0 1 0 -2.3 0M424.6 708.4a1.15 1.15 0 1 0 2.3 0a1.15 1.15 0 1 0 -2.3 0M422.3 706.3a1.15 1.15 0 1 0 2.3 0a1.15 1.15 0 1 0 -2.3 0M403.4 716.9a1.15 1.15 0 1 0 2.3 0a1.15 1.15 0 1 0 -2.3 0M400.6 723.9a1.15 1.15 0 1 0 2.3 0a1.15 1.15 0 1 0 -2.3 0M395.0 713.7a1.15 1.15 0 1 0 2.3 0a1.15 1.15 0 1 0 -2.3 0M385.3 730.0a1.15 1.15 0 1 0 2.3 0a1.15 1.15 0 1 0 -2.3 0M385.0 735.4a1.15 1.15 0 1 0 2.3 0a1.15 1.15 0 1 0 -2.3 0M379.6 739.0a1.15 1.15 0 1 0 2.3 0a1.15 1.15 0 1 0 -2.3 0M415.6 716.6a1.15 1.15 0 1 0 2.3 0a1.15 1.15 0 1 0 -2.3 0M429.4 723.5a1.15 1.15 0 1 0 2.3 0a1.15 1.15 0 1 0 -2.3 0M431.3 719.5a1.15 1.15 0 1 0 2.3 0a1.15 1.15 0 1 0 -2.3 0M438.1 727.6a1.15 1.15 0 1 0 2.3 0a1.15 1.15 0 1 0 -2.3 0M445.8 726.3a1.15 1.15 0 1 0 2.3 0a1.15 1.15 0 1 0 -2.3 0M449.7 733.0a1.15 1.15 0 1 0 2.3 0a1.15 1.15 0 1 0 -2.3 0M458.6 732.5a1.15 1.15 0 1 0 2.3 0a1.15 1.15 0 1 0 -2.3 0M463.6 736.4a1.15 1.15 0 1 0 2.3 0a1.15 1.15 0 1 0 -2.3 0M483.9 750.4a1.15 1.15 0 1 0 2.3 0a1.15 1.15 0 1 0 -2.3 0M494.1 750.9a1.15 1.15 0 1 0 2.3 0a1.15 1.15 0 1 0 -2.3 0" fill="#138A8A"/>
<path d="M406.8 701.8a1.15 1.15 0 1 0 2.3 0a1.15 1.15 0 1 0 -2.3 0M410.9 700.0a1.15 1.15 0 1 0 2.3 0a1.15 1.15 0 1 0 -2.3 0M408.4 705.5a1.15 1.15 0 1 0 2.3 0a1.15 1.15 0 1 0 -2.3 0M412.5 703.7a1.15 1.15 0 1 0 2.3 0a1.15 1.15 0 1 0 -2.3 0M457.6 736.4a1.15 1.15 0 1 0 2.3 0a1.15 1.15 0 1 0 -2.3 0M459.1 733.8a1.15 1.15 0 1 0 2.3 0a1.15 1.15 0 1 0 -2.3 0" fill="#1A3CA0"/>
<circle cx="108.2" cy="733.0" r="1.4" fill="#F08C1E"/>
<circle cx="48.6" cy="614.0" r="1.5" fill="#E01010"/>
<circle cx="222.7" cy="613.7" r="1.5" fill="#E8D000"/>
<circle cx="259.0" cy="727.6" r="1.3" fill="#F08C1E"/>
<circle cx="438.0" cy="727.6" r="1.3" fill="#F08C1E"/>
<line x1="65.4" y1="610.3" x2="58.00" y2="612.29" stroke="#3a3a3a" stroke-width="1.7"/><path d="M52.4,613.8 L57.14,609.11 L56.84,612.60 L58.86,615.48 Z" fill="#3a3a3a"/>
<line x1="239.2" y1="611.0" x2="231.81" y2="612.93" stroke="#3a3a3a" stroke-width="1.7"/><path d="M226.2,614.4 L230.98,609.74 L230.65,613.24 L232.65,616.13 Z" fill="#3a3a3a"/>
<line x1="426.3" y1="630.6" x2="418.82" y2="632.48" stroke="#3a3a3a" stroke-width="1.7"/><path d="M413.2,633.9 L418.02,629.28 L417.66,632.78 L419.63,635.68 Z" fill="#3a3a3a"/>
<line x1="94.0" y1="739.6" x2="100.63" y2="736.23" stroke="#3a3a3a" stroke-width="1.7"/><path d="M105.8,733.6 L102.13,739.17 L101.70,735.68 L99.13,733.29 Z" fill="#3a3a3a"/>
<line x1="244.2" y1="734.6" x2="250.39" y2="731.56" stroke="#3a3a3a" stroke-width="1.7"/><path d="M255.6,729.0 L251.85,734.52 L251.47,731.03 L248.94,728.60 Z" fill="#3a3a3a"/>
<line x1="428.4" y1="734.6" x2="432.50" y2="732.37" stroke="#3a3a3a" stroke-width="1.7"/><path d="M437.6,729.6 L434.08,735.27 L433.56,731.80 L430.93,729.47 Z" fill="#3a3a3a"/>
<defs><linearGradient id="bp" x1="0" x2="1" y1="0" y2="0"><stop offset="0" stop-color="#7B00FF"/><stop offset="0.17" stop-color="#2020FF"/><stop offset="0.35" stop-color="#00C8FF"/><stop offset="0.52" stop-color="#00E040"/><stop offset="0.7" stop-color="#A0F000"/><stop offset="0.85" stop-color="#FFB000"/><stop offset="1" stop-color="#FF2000"/></linearGradient></defs>
<rect x="484.9" y="657.8" width="42.4" height="5.3" fill="url(#bp)"/>
</svg>
</body></html>
